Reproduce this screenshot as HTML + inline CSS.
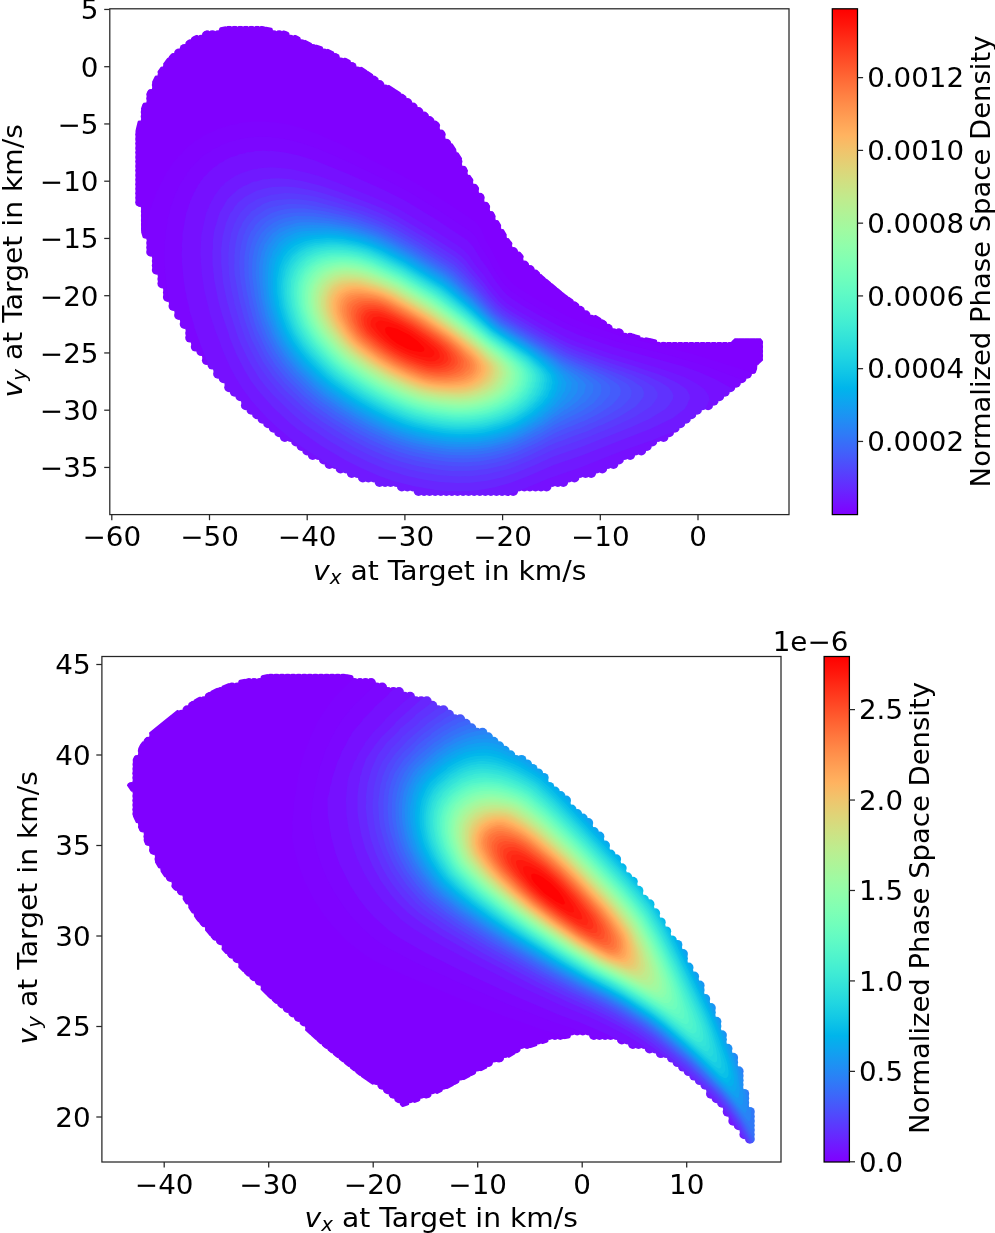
<!DOCTYPE html>
<html><head><meta charset="utf-8"><title>Phase space density</title><style>html,body{margin:0;padding:0;background:#fff}svg{display:block}</style></head><body>
<svg width="995" height="1233" viewBox="0 0 995 1233" font-family="'DejaVu Sans','Liberation Sans',sans-serif" font-size="27" fill="#000">
<rect width="995" height="1233" fill="#fff"/>
<defs><linearGradient id="rb" x1="0" y1="0" x2="0" y2="1"><stop offset="0.0000" stop-color="#ff0000"/><stop offset="0.0312" stop-color="#ff160b"/><stop offset="0.0625" stop-color="#ff2f18"/><stop offset="0.0938" stop-color="#ff4724"/><stop offset="0.1250" stop-color="#ff5f30"/><stop offset="0.1562" stop-color="#ff763d"/><stop offset="0.1875" stop-color="#ff8c49"/><stop offset="0.2188" stop-color="#ffa055"/><stop offset="0.2500" stop-color="#ffb360"/><stop offset="0.2812" stop-color="#f0c46c"/><stop offset="0.3125" stop-color="#e0d377"/><stop offset="0.3438" stop-color="#d0e082"/><stop offset="0.3750" stop-color="#c0eb8d"/><stop offset="0.4062" stop-color="#b0f397"/><stop offset="0.4375" stop-color="#a0faa1"/><stop offset="0.4688" stop-color="#90feab"/><stop offset="0.5000" stop-color="#80ffb4"/><stop offset="0.5312" stop-color="#70febc"/><stop offset="0.5625" stop-color="#60fac5"/><stop offset="0.5938" stop-color="#50f4cc"/><stop offset="0.6250" stop-color="#40ecd4"/><stop offset="0.6562" stop-color="#30e1da"/><stop offset="0.6875" stop-color="#20d5e1"/><stop offset="0.7188" stop-color="#10c6e6"/><stop offset="0.7500" stop-color="#00b5eb"/><stop offset="0.7812" stop-color="#10a2f0"/><stop offset="0.8125" stop-color="#208ef4"/><stop offset="0.8438" stop-color="#3079f7"/><stop offset="0.8750" stop-color="#4062fa"/><stop offset="0.9062" stop-color="#504afc"/><stop offset="0.9375" stop-color="#6032fe"/><stop offset="0.9688" stop-color="#7019ff"/><stop offset="1.0000" stop-color="#8000ff"/></linearGradient>
<clipPath id="ct"><path d="M228.7,32.4 208.8,36.4 196.2,42.2 181.0,52.7 171.6,63.1 162.2,76.2 157.4,85.8 152.0,96.8 147.0,111.1 141.7,132.8 141.7,201.1 143.7,202.2 143.9,202.3 144.1,202.5 144.4,202.7 144.6,202.8 144.9,203.1 145.1,203.2 145.3,203.5 145.5,203.7 145.7,204.0 145.9,204.2 146.1,204.5 146.2,204.7 146.4,205.0 146.5,205.3 146.6,205.6 146.7,205.8 146.8,206.2 146.9,206.4 147.0,206.8 147.0,207.0 147.1,207.4 147.1,207.7 147.1,207.8 147.7,231.2 152.8,248.3 157.9,263.1 163.8,277.9 171.2,295.8 180.1,313.5 190.5,331.4 200.8,349.0 215.5,366.7 230.5,384.6 248.2,403.8 274.7,426.0 304.4,446.7 333.8,462.9 363.2,474.6 392.7,482.0 413.8,485.8 413.9,485.8 414.2,485.9 414.5,486.0 414.8,486.1 415.1,486.2 415.4,486.3 415.7,486.5 415.9,486.6 416.2,486.8 416.5,486.9 416.6,487.0 419.8,489.5 514.1,489.5 515.9,487.6 516.1,487.5 516.3,487.3 516.5,487.1 516.8,486.9 517.0,486.7 517.3,486.6 517.6,486.4 517.8,486.3 518.2,486.2 518.4,486.1 518.8,486.0 519.0,485.9 519.4,485.8 519.6,485.8 520.0,485.7 520.3,485.7 520.4,485.7 539.8,485.2 554.0,481.6 573.8,475.5 598.5,466.9 623.3,455.7 645.0,445.0 668.6,430.3 690.5,413.4 690.6,413.3 690.7,413.2 690.8,413.1 708.8,401.1 736.7,381.1 749.2,371.4 752.6,362.1 752.7,361.9 752.8,361.6 752.9,361.3 753.1,361.1 753.2,360.8 753.4,360.5 753.6,360.2 753.8,360.0 754.0,359.7 754.2,359.5 754.4,359.4 756.6,357.4 756.6,344.8 737.3,344.8 735.2,346.8 735.1,346.9 734.9,347.1 734.6,347.3 734.4,347.5 734.1,347.6 733.9,347.8 733.6,347.9 733.3,348.1 733.0,348.2 732.7,348.3 732.4,348.4 732.1,348.4 731.8,348.5 731.5,348.5 731.2,348.6 730.9,348.6 730.7,348.6 666.0,348.6 665.8,348.6 665.6,348.6 665.3,348.6 665.1,348.5 664.8,348.5 664.5,348.4 664.4,348.4 634.2,340.8 634.0,340.7 633.6,340.6 633.4,340.6 610.8,331.8 610.7,331.7 610.4,331.6 610.1,331.4 609.9,331.3 609.8,331.2 587.2,317.4 587.1,317.4 586.9,317.3 586.8,317.2 561.6,299.6 561.5,299.5 561.3,299.4 561.2,299.3 538.6,280.5 538.4,280.4 538.2,280.2 538.1,280.1 521.8,263.7 521.7,263.6 521.6,263.4 521.5,263.3 505.0,244.3 504.9,244.2 504.7,244.0 504.5,243.7 504.4,243.5 504.3,243.4 490.1,219.3 490.1,219.2 490.1,219.2 490.0,219.1 477.6,196.8 465.3,179.5 465.2,179.4 465.1,179.2 465.0,179.0 464.9,178.8 464.8,178.7 456.2,161.4 445.1,144.1 434.2,127.3 408.9,105.6 384.1,89.5 384.1,89.5 384.1,89.5 384.0,89.5 354.2,69.6 338.0,61.1 323.5,53.8 308.9,49.0 308.7,48.9 308.3,48.7 308.0,48.6 293.2,41.1 281.5,36.5 260.4,32.4Z"/><circle cx="140.0" cy="125.5" r="4.9"/><circle cx="140.0" cy="130.0" r="4.9"/><circle cx="140.0" cy="134.5" r="4.9"/><circle cx="140.0" cy="139.0" r="4.9"/><circle cx="140.0" cy="143.6" r="4.9"/><circle cx="140.0" cy="148.1" r="4.9"/><circle cx="140.0" cy="152.6" r="4.9"/><circle cx="140.0" cy="157.1" r="4.9"/><circle cx="140.0" cy="161.6" r="4.9"/><circle cx="140.0" cy="166.1" r="4.9"/><circle cx="140.0" cy="170.6" r="4.9"/><circle cx="140.0" cy="175.1" r="4.9"/><circle cx="140.0" cy="179.7" r="4.9"/><circle cx="140.0" cy="184.2" r="4.9"/><circle cx="140.0" cy="188.7" r="4.9"/><circle cx="140.0" cy="193.2" r="4.9"/><circle cx="140.0" cy="197.7" r="4.9"/><circle cx="140.0" cy="202.2" r="4.9"/><circle cx="145.6" cy="107.4" r="4.9"/><circle cx="145.6" cy="112.0" r="4.9"/><circle cx="145.6" cy="116.5" r="4.9"/><circle cx="145.6" cy="121.0" r="4.9"/><circle cx="145.6" cy="125.5" r="4.9"/><circle cx="145.6" cy="130.0" r="4.9"/><circle cx="145.6" cy="134.5" r="4.9"/><circle cx="145.6" cy="139.0" r="4.9"/><circle cx="145.6" cy="143.6" r="4.9"/><circle cx="145.6" cy="148.1" r="4.9"/><circle cx="145.6" cy="152.6" r="4.9"/><circle cx="145.6" cy="157.1" r="4.9"/><circle cx="145.6" cy="161.6" r="4.9"/><circle cx="145.6" cy="166.1" r="4.9"/><circle cx="145.6" cy="170.6" r="4.9"/><circle cx="145.6" cy="175.1" r="4.9"/><circle cx="145.6" cy="179.7" r="4.9"/><circle cx="145.6" cy="184.2" r="4.9"/><circle cx="145.6" cy="188.7" r="4.9"/><circle cx="145.6" cy="193.2" r="4.9"/><circle cx="145.6" cy="197.7" r="4.9"/><circle cx="145.6" cy="202.2" r="4.9"/><circle cx="145.6" cy="206.7" r="4.9"/><circle cx="145.6" cy="211.3" r="4.9"/><circle cx="145.6" cy="215.8" r="4.9"/><circle cx="145.6" cy="220.3" r="4.9"/><circle cx="145.6" cy="224.8" r="4.9"/><circle cx="145.6" cy="229.3" r="4.9"/><circle cx="145.6" cy="233.8" r="4.9"/><circle cx="151.1" cy="93.9" r="4.9"/><circle cx="151.1" cy="98.4" r="4.9"/><circle cx="151.1" cy="102.9" r="4.9"/><circle cx="151.1" cy="107.4" r="4.9"/><circle cx="151.1" cy="112.0" r="4.9"/><circle cx="151.1" cy="116.5" r="4.9"/><circle cx="151.1" cy="206.7" r="4.9"/><circle cx="151.1" cy="211.3" r="4.9"/><circle cx="151.1" cy="215.8" r="4.9"/><circle cx="151.1" cy="220.3" r="4.9"/><circle cx="151.1" cy="224.8" r="4.9"/><circle cx="151.1" cy="229.3" r="4.9"/><circle cx="151.1" cy="233.8" r="4.9"/><circle cx="151.1" cy="238.3" r="4.9"/><circle cx="151.1" cy="242.9" r="4.9"/><circle cx="151.1" cy="247.4" r="4.9"/><circle cx="151.1" cy="251.9" r="4.9"/><circle cx="156.7" cy="80.4" r="4.9"/><circle cx="156.7" cy="84.9" r="4.9"/><circle cx="156.7" cy="89.4" r="4.9"/><circle cx="156.7" cy="93.9" r="4.9"/><circle cx="156.7" cy="98.4" r="4.9"/><circle cx="156.7" cy="242.9" r="4.9"/><circle cx="156.7" cy="247.4" r="4.9"/><circle cx="156.7" cy="251.9" r="4.9"/><circle cx="156.7" cy="256.4" r="4.9"/><circle cx="156.7" cy="260.9" r="4.9"/><circle cx="156.7" cy="265.4" r="4.9"/><circle cx="156.7" cy="269.9" r="4.9"/><circle cx="162.3" cy="71.3" r="4.9"/><circle cx="162.3" cy="75.8" r="4.9"/><circle cx="162.3" cy="80.4" r="4.9"/><circle cx="162.3" cy="84.9" r="4.9"/><circle cx="162.3" cy="260.9" r="4.9"/><circle cx="162.3" cy="265.4" r="4.9"/><circle cx="162.3" cy="269.9" r="4.9"/><circle cx="162.3" cy="274.5" r="4.9"/><circle cx="162.3" cy="279.0" r="4.9"/><circle cx="162.3" cy="283.5" r="4.9"/><circle cx="167.8" cy="62.3" r="4.9"/><circle cx="167.8" cy="66.8" r="4.9"/><circle cx="167.8" cy="71.3" r="4.9"/><circle cx="167.8" cy="75.8" r="4.9"/><circle cx="167.8" cy="274.5" r="4.9"/><circle cx="167.8" cy="279.0" r="4.9"/><circle cx="167.8" cy="283.5" r="4.9"/><circle cx="167.8" cy="288.0" r="4.9"/><circle cx="167.8" cy="292.5" r="4.9"/><circle cx="167.8" cy="297.0" r="4.9"/><circle cx="173.4" cy="57.8" r="4.9"/><circle cx="173.4" cy="62.3" r="4.9"/><circle cx="173.4" cy="66.8" r="4.9"/><circle cx="173.4" cy="288.0" r="4.9"/><circle cx="173.4" cy="292.5" r="4.9"/><circle cx="173.4" cy="297.0" r="4.9"/><circle cx="173.4" cy="301.5" r="4.9"/><circle cx="173.4" cy="306.1" r="4.9"/><circle cx="179.0" cy="53.3" r="4.9"/><circle cx="179.0" cy="57.8" r="4.9"/><circle cx="179.0" cy="62.3" r="4.9"/><circle cx="179.0" cy="301.5" r="4.9"/><circle cx="179.0" cy="306.1" r="4.9"/><circle cx="179.0" cy="310.6" r="4.9"/><circle cx="179.0" cy="315.1" r="4.9"/><circle cx="184.6" cy="48.8" r="4.9"/><circle cx="184.6" cy="53.3" r="4.9"/><circle cx="184.6" cy="310.6" r="4.9"/><circle cx="184.6" cy="315.1" r="4.9"/><circle cx="184.6" cy="319.6" r="4.9"/><circle cx="184.6" cy="324.1" r="4.9"/><circle cx="190.1" cy="44.2" r="4.9"/><circle cx="190.1" cy="48.8" r="4.9"/><circle cx="190.1" cy="324.1" r="4.9"/><circle cx="190.1" cy="328.6" r="4.9"/><circle cx="190.1" cy="333.1" r="4.9"/><circle cx="190.1" cy="337.7" r="4.9"/><circle cx="195.7" cy="39.7" r="4.9"/><circle cx="195.7" cy="44.2" r="4.9"/><circle cx="195.7" cy="48.8" r="4.9"/><circle cx="195.7" cy="333.1" r="4.9"/><circle cx="195.7" cy="337.7" r="4.9"/><circle cx="195.7" cy="342.2" r="4.9"/><circle cx="195.7" cy="346.7" r="4.9"/><circle cx="201.3" cy="39.7" r="4.9"/><circle cx="201.3" cy="44.2" r="4.9"/><circle cx="201.3" cy="342.2" r="4.9"/><circle cx="201.3" cy="346.7" r="4.9"/><circle cx="201.3" cy="351.2" r="4.9"/><circle cx="206.8" cy="35.2" r="4.9"/><circle cx="206.8" cy="39.7" r="4.9"/><circle cx="206.8" cy="351.2" r="4.9"/><circle cx="206.8" cy="355.7" r="4.9"/><circle cx="206.8" cy="360.2" r="4.9"/><circle cx="212.4" cy="35.2" r="4.9"/><circle cx="212.4" cy="39.7" r="4.9"/><circle cx="212.4" cy="355.7" r="4.9"/><circle cx="212.4" cy="360.2" r="4.9"/><circle cx="212.4" cy="364.7" r="4.9"/><circle cx="218.0" cy="35.2" r="4.9"/><circle cx="218.0" cy="39.7" r="4.9"/><circle cx="218.0" cy="364.7" r="4.9"/><circle cx="218.0" cy="369.2" r="4.9"/><circle cx="218.0" cy="373.8" r="4.9"/><circle cx="223.6" cy="30.7" r="4.9"/><circle cx="223.6" cy="35.2" r="4.9"/><circle cx="223.6" cy="369.2" r="4.9"/><circle cx="223.6" cy="373.8" r="4.9"/><circle cx="223.6" cy="378.3" r="4.9"/><circle cx="229.1" cy="30.7" r="4.9"/><circle cx="229.1" cy="35.2" r="4.9"/><circle cx="229.1" cy="378.3" r="4.9"/><circle cx="229.1" cy="382.8" r="4.9"/><circle cx="229.1" cy="387.3" r="4.9"/><circle cx="234.7" cy="30.7" r="4.9"/><circle cx="234.7" cy="35.2" r="4.9"/><circle cx="234.7" cy="382.8" r="4.9"/><circle cx="234.7" cy="387.3" r="4.9"/><circle cx="234.7" cy="391.8" r="4.9"/><circle cx="240.3" cy="30.7" r="4.9"/><circle cx="240.3" cy="35.2" r="4.9"/><circle cx="240.3" cy="387.3" r="4.9"/><circle cx="240.3" cy="391.8" r="4.9"/><circle cx="240.3" cy="396.3" r="4.9"/><circle cx="245.8" cy="30.7" r="4.9"/><circle cx="245.8" cy="35.2" r="4.9"/><circle cx="245.8" cy="396.3" r="4.9"/><circle cx="245.8" cy="400.8" r="4.9"/><circle cx="245.8" cy="405.4" r="4.9"/><circle cx="251.4" cy="30.7" r="4.9"/><circle cx="251.4" cy="35.2" r="4.9"/><circle cx="251.4" cy="400.8" r="4.9"/><circle cx="251.4" cy="405.4" r="4.9"/><circle cx="251.4" cy="409.9" r="4.9"/><circle cx="257.0" cy="30.7" r="4.9"/><circle cx="257.0" cy="35.2" r="4.9"/><circle cx="257.0" cy="405.4" r="4.9"/><circle cx="257.0" cy="409.9" r="4.9"/><circle cx="257.0" cy="414.4" r="4.9"/><circle cx="262.5" cy="30.7" r="4.9"/><circle cx="262.5" cy="35.2" r="4.9"/><circle cx="262.5" cy="409.9" r="4.9"/><circle cx="262.5" cy="414.4" r="4.9"/><circle cx="262.5" cy="418.9" r="4.9"/><circle cx="268.1" cy="30.7" r="4.9"/><circle cx="268.1" cy="35.2" r="4.9"/><circle cx="268.1" cy="414.4" r="4.9"/><circle cx="268.1" cy="418.9" r="4.9"/><circle cx="268.1" cy="423.4" r="4.9"/><circle cx="273.7" cy="35.2" r="4.9"/><circle cx="273.7" cy="39.7" r="4.9"/><circle cx="273.7" cy="418.9" r="4.9"/><circle cx="273.7" cy="423.4" r="4.9"/><circle cx="273.7" cy="427.9" r="4.9"/><circle cx="279.2" cy="35.2" r="4.9"/><circle cx="279.2" cy="39.7" r="4.9"/><circle cx="279.2" cy="423.4" r="4.9"/><circle cx="279.2" cy="427.9" r="4.9"/><circle cx="279.2" cy="432.4" r="4.9"/><circle cx="284.8" cy="35.2" r="4.9"/><circle cx="284.8" cy="39.7" r="4.9"/><circle cx="284.8" cy="427.9" r="4.9"/><circle cx="284.8" cy="432.4" r="4.9"/><circle cx="284.8" cy="437.0" r="4.9"/><circle cx="290.4" cy="39.7" r="4.9"/><circle cx="290.4" cy="44.2" r="4.9"/><circle cx="290.4" cy="432.4" r="4.9"/><circle cx="290.4" cy="437.0" r="4.9"/><circle cx="296.0" cy="39.7" r="4.9"/><circle cx="296.0" cy="44.2" r="4.9"/><circle cx="296.0" cy="437.0" r="4.9"/><circle cx="296.0" cy="441.5" r="4.9"/><circle cx="301.5" cy="44.2" r="4.9"/><circle cx="301.5" cy="48.8" r="4.9"/><circle cx="301.5" cy="441.5" r="4.9"/><circle cx="301.5" cy="446.0" r="4.9"/><circle cx="307.1" cy="44.2" r="4.9"/><circle cx="307.1" cy="48.8" r="4.9"/><circle cx="307.1" cy="53.3" r="4.9"/><circle cx="307.1" cy="446.0" r="4.9"/><circle cx="307.1" cy="450.5" r="4.9"/><circle cx="312.7" cy="48.8" r="4.9"/><circle cx="312.7" cy="53.3" r="4.9"/><circle cx="312.7" cy="446.0" r="4.9"/><circle cx="312.7" cy="450.5" r="4.9"/><circle cx="312.7" cy="455.0" r="4.9"/><circle cx="318.2" cy="48.8" r="4.9"/><circle cx="318.2" cy="53.3" r="4.9"/><circle cx="318.2" cy="450.5" r="4.9"/><circle cx="318.2" cy="455.0" r="4.9"/><circle cx="323.8" cy="53.3" r="4.9"/><circle cx="323.8" cy="57.8" r="4.9"/><circle cx="323.8" cy="455.0" r="4.9"/><circle cx="323.8" cy="459.5" r="4.9"/><circle cx="329.4" cy="53.3" r="4.9"/><circle cx="329.4" cy="57.8" r="4.9"/><circle cx="329.4" cy="62.3" r="4.9"/><circle cx="329.4" cy="455.0" r="4.9"/><circle cx="329.4" cy="459.5" r="4.9"/><circle cx="329.4" cy="464.0" r="4.9"/><circle cx="335.0" cy="57.8" r="4.9"/><circle cx="335.0" cy="62.3" r="4.9"/><circle cx="335.0" cy="459.5" r="4.9"/><circle cx="335.0" cy="464.0" r="4.9"/><circle cx="340.5" cy="62.3" r="4.9"/><circle cx="340.5" cy="66.8" r="4.9"/><circle cx="340.5" cy="464.0" r="4.9"/><circle cx="340.5" cy="468.6" r="4.9"/><circle cx="346.1" cy="62.3" r="4.9"/><circle cx="346.1" cy="66.8" r="4.9"/><circle cx="346.1" cy="71.3" r="4.9"/><circle cx="346.1" cy="464.0" r="4.9"/><circle cx="346.1" cy="468.6" r="4.9"/><circle cx="351.7" cy="66.8" r="4.9"/><circle cx="351.7" cy="71.3" r="4.9"/><circle cx="351.7" cy="468.6" r="4.9"/><circle cx="351.7" cy="473.1" r="4.9"/><circle cx="357.2" cy="71.3" r="4.9"/><circle cx="357.2" cy="75.8" r="4.9"/><circle cx="357.2" cy="468.6" r="4.9"/><circle cx="357.2" cy="473.1" r="4.9"/><circle cx="362.8" cy="71.3" r="4.9"/><circle cx="362.8" cy="75.8" r="4.9"/><circle cx="362.8" cy="80.4" r="4.9"/><circle cx="362.8" cy="473.1" r="4.9"/><circle cx="362.8" cy="477.6" r="4.9"/><circle cx="368.4" cy="75.8" r="4.9"/><circle cx="368.4" cy="80.4" r="4.9"/><circle cx="368.4" cy="84.9" r="4.9"/><circle cx="368.4" cy="473.1" r="4.9"/><circle cx="368.4" cy="477.6" r="4.9"/><circle cx="373.9" cy="80.4" r="4.9"/><circle cx="373.9" cy="84.9" r="4.9"/><circle cx="373.9" cy="473.1" r="4.9"/><circle cx="373.9" cy="477.6" r="4.9"/><circle cx="379.5" cy="84.9" r="4.9"/><circle cx="379.5" cy="89.4" r="4.9"/><circle cx="379.5" cy="477.6" r="4.9"/><circle cx="379.5" cy="482.1" r="4.9"/><circle cx="385.1" cy="89.4" r="4.9"/><circle cx="385.1" cy="93.9" r="4.9"/><circle cx="385.1" cy="477.6" r="4.9"/><circle cx="385.1" cy="482.1" r="4.9"/><circle cx="390.6" cy="89.4" r="4.9"/><circle cx="390.6" cy="93.9" r="4.9"/><circle cx="390.6" cy="98.4" r="4.9"/><circle cx="390.6" cy="477.6" r="4.9"/><circle cx="390.6" cy="482.1" r="4.9"/><circle cx="396.2" cy="93.9" r="4.9"/><circle cx="396.2" cy="98.4" r="4.9"/><circle cx="396.2" cy="102.9" r="4.9"/><circle cx="396.2" cy="477.6" r="4.9"/><circle cx="396.2" cy="482.1" r="4.9"/><circle cx="401.8" cy="98.4" r="4.9"/><circle cx="401.8" cy="102.9" r="4.9"/><circle cx="401.8" cy="482.1" r="4.9"/><circle cx="401.8" cy="486.6" r="4.9"/><circle cx="407.4" cy="102.9" r="4.9"/><circle cx="407.4" cy="107.4" r="4.9"/><circle cx="407.4" cy="482.1" r="4.9"/><circle cx="407.4" cy="486.6" r="4.9"/><circle cx="412.9" cy="107.4" r="4.9"/><circle cx="412.9" cy="112.0" r="4.9"/><circle cx="412.9" cy="482.1" r="4.9"/><circle cx="412.9" cy="486.6" r="4.9"/><circle cx="418.5" cy="112.0" r="4.9"/><circle cx="418.5" cy="116.5" r="4.9"/><circle cx="418.5" cy="482.1" r="4.9"/><circle cx="418.5" cy="486.6" r="4.9"/><circle cx="418.5" cy="491.1" r="4.9"/><circle cx="424.1" cy="116.5" r="4.9"/><circle cx="424.1" cy="121.0" r="4.9"/><circle cx="424.1" cy="125.5" r="4.9"/><circle cx="424.1" cy="486.6" r="4.9"/><circle cx="424.1" cy="491.1" r="4.9"/><circle cx="429.6" cy="121.0" r="4.9"/><circle cx="429.6" cy="125.5" r="4.9"/><circle cx="429.6" cy="130.0" r="4.9"/><circle cx="429.6" cy="486.6" r="4.9"/><circle cx="429.6" cy="491.1" r="4.9"/><circle cx="435.2" cy="125.5" r="4.9"/><circle cx="435.2" cy="130.0" r="4.9"/><circle cx="435.2" cy="134.5" r="4.9"/><circle cx="435.2" cy="486.6" r="4.9"/><circle cx="435.2" cy="491.1" r="4.9"/><circle cx="440.8" cy="134.5" r="4.9"/><circle cx="440.8" cy="139.0" r="4.9"/><circle cx="440.8" cy="143.6" r="4.9"/><circle cx="440.8" cy="486.6" r="4.9"/><circle cx="440.8" cy="491.1" r="4.9"/><circle cx="446.4" cy="143.6" r="4.9"/><circle cx="446.4" cy="148.1" r="4.9"/><circle cx="446.4" cy="152.6" r="4.9"/><circle cx="446.4" cy="486.6" r="4.9"/><circle cx="446.4" cy="491.1" r="4.9"/><circle cx="451.9" cy="148.1" r="4.9"/><circle cx="451.9" cy="152.6" r="4.9"/><circle cx="451.9" cy="157.1" r="4.9"/><circle cx="451.9" cy="161.6" r="4.9"/><circle cx="451.9" cy="486.6" r="4.9"/><circle cx="451.9" cy="491.1" r="4.9"/><circle cx="457.5" cy="157.1" r="4.9"/><circle cx="457.5" cy="161.6" r="4.9"/><circle cx="457.5" cy="166.1" r="4.9"/><circle cx="457.5" cy="170.6" r="4.9"/><circle cx="457.5" cy="175.1" r="4.9"/><circle cx="457.5" cy="486.6" r="4.9"/><circle cx="457.5" cy="491.1" r="4.9"/><circle cx="463.1" cy="170.6" r="4.9"/><circle cx="463.1" cy="175.1" r="4.9"/><circle cx="463.1" cy="179.7" r="4.9"/><circle cx="463.1" cy="184.2" r="4.9"/><circle cx="463.1" cy="486.6" r="4.9"/><circle cx="463.1" cy="491.1" r="4.9"/><circle cx="468.6" cy="179.7" r="4.9"/><circle cx="468.6" cy="184.2" r="4.9"/><circle cx="468.6" cy="188.7" r="4.9"/><circle cx="468.6" cy="193.2" r="4.9"/><circle cx="468.6" cy="486.6" r="4.9"/><circle cx="468.6" cy="491.1" r="4.9"/><circle cx="474.2" cy="188.7" r="4.9"/><circle cx="474.2" cy="193.2" r="4.9"/><circle cx="474.2" cy="197.7" r="4.9"/><circle cx="474.2" cy="486.6" r="4.9"/><circle cx="474.2" cy="491.1" r="4.9"/><circle cx="479.8" cy="197.7" r="4.9"/><circle cx="479.8" cy="202.2" r="4.9"/><circle cx="479.8" cy="206.7" r="4.9"/><circle cx="479.8" cy="211.3" r="4.9"/><circle cx="479.8" cy="486.6" r="4.9"/><circle cx="479.8" cy="491.1" r="4.9"/><circle cx="485.3" cy="206.7" r="4.9"/><circle cx="485.3" cy="211.3" r="4.9"/><circle cx="485.3" cy="215.8" r="4.9"/><circle cx="485.3" cy="220.3" r="4.9"/><circle cx="485.3" cy="486.6" r="4.9"/><circle cx="485.3" cy="491.1" r="4.9"/><circle cx="490.9" cy="215.8" r="4.9"/><circle cx="490.9" cy="220.3" r="4.9"/><circle cx="490.9" cy="224.8" r="4.9"/><circle cx="490.9" cy="229.3" r="4.9"/><circle cx="490.9" cy="486.6" r="4.9"/><circle cx="490.9" cy="491.1" r="4.9"/><circle cx="496.5" cy="224.8" r="4.9"/><circle cx="496.5" cy="229.3" r="4.9"/><circle cx="496.5" cy="233.8" r="4.9"/><circle cx="496.5" cy="238.3" r="4.9"/><circle cx="496.5" cy="486.6" r="4.9"/><circle cx="496.5" cy="491.1" r="4.9"/><circle cx="502.1" cy="233.8" r="4.9"/><circle cx="502.1" cy="238.3" r="4.9"/><circle cx="502.1" cy="242.9" r="4.9"/><circle cx="502.1" cy="247.4" r="4.9"/><circle cx="502.1" cy="486.6" r="4.9"/><circle cx="502.1" cy="491.1" r="4.9"/><circle cx="507.6" cy="242.9" r="4.9"/><circle cx="507.6" cy="247.4" r="4.9"/><circle cx="507.6" cy="251.9" r="4.9"/><circle cx="507.6" cy="486.6" r="4.9"/><circle cx="507.6" cy="491.1" r="4.9"/><circle cx="513.2" cy="251.9" r="4.9"/><circle cx="513.2" cy="256.4" r="4.9"/><circle cx="513.2" cy="260.9" r="4.9"/><circle cx="513.2" cy="486.6" r="4.9"/><circle cx="513.2" cy="491.1" r="4.9"/><circle cx="518.8" cy="256.4" r="4.9"/><circle cx="518.8" cy="260.9" r="4.9"/><circle cx="518.8" cy="265.4" r="4.9"/><circle cx="518.8" cy="482.1" r="4.9"/><circle cx="518.8" cy="486.6" r="4.9"/><circle cx="524.3" cy="265.4" r="4.9"/><circle cx="524.3" cy="269.9" r="4.9"/><circle cx="524.3" cy="482.1" r="4.9"/><circle cx="524.3" cy="486.6" r="4.9"/><circle cx="529.9" cy="269.9" r="4.9"/><circle cx="529.9" cy="274.5" r="4.9"/><circle cx="529.9" cy="279.0" r="4.9"/><circle cx="529.9" cy="482.1" r="4.9"/><circle cx="529.9" cy="486.6" r="4.9"/><circle cx="535.5" cy="274.5" r="4.9"/><circle cx="535.5" cy="279.0" r="4.9"/><circle cx="535.5" cy="283.5" r="4.9"/><circle cx="535.5" cy="482.1" r="4.9"/><circle cx="535.5" cy="486.6" r="4.9"/><circle cx="541.0" cy="279.0" r="4.9"/><circle cx="541.0" cy="283.5" r="4.9"/><circle cx="541.0" cy="288.0" r="4.9"/><circle cx="541.0" cy="482.1" r="4.9"/><circle cx="541.0" cy="486.6" r="4.9"/><circle cx="546.6" cy="283.5" r="4.9"/><circle cx="546.6" cy="288.0" r="4.9"/><circle cx="546.6" cy="292.5" r="4.9"/><circle cx="546.6" cy="482.1" r="4.9"/><circle cx="546.6" cy="486.6" r="4.9"/><circle cx="552.2" cy="288.0" r="4.9"/><circle cx="552.2" cy="292.5" r="4.9"/><circle cx="552.2" cy="297.0" r="4.9"/><circle cx="552.2" cy="477.6" r="4.9"/><circle cx="552.2" cy="482.1" r="4.9"/><circle cx="557.8" cy="292.5" r="4.9"/><circle cx="557.8" cy="297.0" r="4.9"/><circle cx="557.8" cy="301.5" r="4.9"/><circle cx="557.8" cy="477.6" r="4.9"/><circle cx="557.8" cy="482.1" r="4.9"/><circle cx="563.3" cy="297.0" r="4.9"/><circle cx="563.3" cy="301.5" r="4.9"/><circle cx="563.3" cy="306.1" r="4.9"/><circle cx="563.3" cy="477.6" r="4.9"/><circle cx="563.3" cy="482.1" r="4.9"/><circle cx="568.9" cy="301.5" r="4.9"/><circle cx="568.9" cy="306.1" r="4.9"/><circle cx="568.9" cy="310.6" r="4.9"/><circle cx="568.9" cy="473.1" r="4.9"/><circle cx="568.9" cy="477.6" r="4.9"/><circle cx="574.5" cy="306.1" r="4.9"/><circle cx="574.5" cy="310.6" r="4.9"/><circle cx="574.5" cy="315.1" r="4.9"/><circle cx="574.5" cy="473.1" r="4.9"/><circle cx="574.5" cy="477.6" r="4.9"/><circle cx="580.0" cy="310.6" r="4.9"/><circle cx="580.0" cy="315.1" r="4.9"/><circle cx="580.0" cy="468.6" r="4.9"/><circle cx="580.0" cy="473.1" r="4.9"/><circle cx="585.6" cy="315.1" r="4.9"/><circle cx="585.6" cy="319.6" r="4.9"/><circle cx="585.6" cy="468.6" r="4.9"/><circle cx="585.6" cy="473.1" r="4.9"/><circle cx="591.2" cy="319.6" r="4.9"/><circle cx="591.2" cy="324.1" r="4.9"/><circle cx="591.2" cy="464.0" r="4.9"/><circle cx="591.2" cy="468.6" r="4.9"/><circle cx="591.2" cy="473.1" r="4.9"/><circle cx="596.7" cy="319.6" r="4.9"/><circle cx="596.7" cy="324.1" r="4.9"/><circle cx="596.7" cy="328.6" r="4.9"/><circle cx="596.7" cy="464.0" r="4.9"/><circle cx="596.7" cy="468.6" r="4.9"/><circle cx="602.3" cy="324.1" r="4.9"/><circle cx="602.3" cy="328.6" r="4.9"/><circle cx="602.3" cy="459.5" r="4.9"/><circle cx="602.3" cy="464.0" r="4.9"/><circle cx="602.3" cy="468.6" r="4.9"/><circle cx="607.9" cy="328.6" r="4.9"/><circle cx="607.9" cy="333.1" r="4.9"/><circle cx="607.9" cy="459.5" r="4.9"/><circle cx="607.9" cy="464.0" r="4.9"/><circle cx="613.5" cy="333.1" r="4.9"/><circle cx="613.5" cy="337.7" r="4.9"/><circle cx="613.5" cy="455.0" r="4.9"/><circle cx="613.5" cy="459.5" r="4.9"/><circle cx="613.5" cy="464.0" r="4.9"/><circle cx="619.0" cy="333.1" r="4.9"/><circle cx="619.0" cy="337.7" r="4.9"/><circle cx="619.0" cy="455.0" r="4.9"/><circle cx="619.0" cy="459.5" r="4.9"/><circle cx="624.6" cy="337.7" r="4.9"/><circle cx="624.6" cy="342.2" r="4.9"/><circle cx="624.6" cy="450.5" r="4.9"/><circle cx="624.6" cy="455.0" r="4.9"/><circle cx="630.2" cy="337.7" r="4.9"/><circle cx="630.2" cy="342.2" r="4.9"/><circle cx="630.2" cy="450.5" r="4.9"/><circle cx="630.2" cy="455.0" r="4.9"/><circle cx="635.7" cy="337.7" r="4.9"/><circle cx="635.7" cy="342.2" r="4.9"/><circle cx="635.7" cy="346.7" r="4.9"/><circle cx="635.7" cy="446.0" r="4.9"/><circle cx="635.7" cy="450.5" r="4.9"/><circle cx="641.3" cy="342.2" r="4.9"/><circle cx="641.3" cy="346.7" r="4.9"/><circle cx="641.3" cy="441.5" r="4.9"/><circle cx="641.3" cy="446.0" r="4.9"/><circle cx="641.3" cy="450.5" r="4.9"/><circle cx="646.9" cy="342.2" r="4.9"/><circle cx="646.9" cy="346.7" r="4.9"/><circle cx="646.9" cy="441.5" r="4.9"/><circle cx="646.9" cy="446.0" r="4.9"/><circle cx="652.4" cy="342.2" r="4.9"/><circle cx="652.4" cy="346.7" r="4.9"/><circle cx="652.4" cy="437.0" r="4.9"/><circle cx="652.4" cy="441.5" r="4.9"/><circle cx="658.0" cy="346.7" r="4.9"/><circle cx="658.0" cy="351.2" r="4.9"/><circle cx="658.0" cy="432.4" r="4.9"/><circle cx="658.0" cy="437.0" r="4.9"/><circle cx="663.6" cy="346.7" r="4.9"/><circle cx="663.6" cy="351.2" r="4.9"/><circle cx="663.6" cy="427.9" r="4.9"/><circle cx="663.6" cy="432.4" r="4.9"/><circle cx="663.6" cy="437.0" r="4.9"/><circle cx="669.1" cy="346.7" r="4.9"/><circle cx="669.1" cy="351.2" r="4.9"/><circle cx="669.1" cy="423.4" r="4.9"/><circle cx="669.1" cy="427.9" r="4.9"/><circle cx="669.1" cy="432.4" r="4.9"/><circle cx="674.7" cy="346.7" r="4.9"/><circle cx="674.7" cy="351.2" r="4.9"/><circle cx="674.7" cy="418.9" r="4.9"/><circle cx="674.7" cy="423.4" r="4.9"/><circle cx="674.7" cy="427.9" r="4.9"/><circle cx="680.3" cy="346.7" r="4.9"/><circle cx="680.3" cy="351.2" r="4.9"/><circle cx="680.3" cy="418.9" r="4.9"/><circle cx="680.3" cy="423.4" r="4.9"/><circle cx="685.9" cy="346.7" r="4.9"/><circle cx="685.9" cy="351.2" r="4.9"/><circle cx="685.9" cy="414.4" r="4.9"/><circle cx="685.9" cy="418.9" r="4.9"/><circle cx="691.4" cy="346.7" r="4.9"/><circle cx="691.4" cy="351.2" r="4.9"/><circle cx="691.4" cy="409.9" r="4.9"/><circle cx="691.4" cy="414.4" r="4.9"/><circle cx="697.0" cy="346.7" r="4.9"/><circle cx="697.0" cy="351.2" r="4.9"/><circle cx="697.0" cy="405.4" r="4.9"/><circle cx="697.0" cy="409.9" r="4.9"/><circle cx="702.6" cy="346.7" r="4.9"/><circle cx="702.6" cy="351.2" r="4.9"/><circle cx="702.6" cy="400.8" r="4.9"/><circle cx="702.6" cy="405.4" r="4.9"/><circle cx="708.1" cy="346.7" r="4.9"/><circle cx="708.1" cy="351.2" r="4.9"/><circle cx="708.1" cy="396.3" r="4.9"/><circle cx="708.1" cy="400.8" r="4.9"/><circle cx="708.1" cy="405.4" r="4.9"/><circle cx="713.7" cy="346.7" r="4.9"/><circle cx="713.7" cy="351.2" r="4.9"/><circle cx="713.7" cy="391.8" r="4.9"/><circle cx="713.7" cy="396.3" r="4.9"/><circle cx="713.7" cy="400.8" r="4.9"/><circle cx="719.3" cy="346.7" r="4.9"/><circle cx="719.3" cy="351.2" r="4.9"/><circle cx="719.3" cy="387.3" r="4.9"/><circle cx="719.3" cy="391.8" r="4.9"/><circle cx="719.3" cy="396.3" r="4.9"/><circle cx="724.9" cy="346.7" r="4.9"/><circle cx="724.9" cy="351.2" r="4.9"/><circle cx="724.9" cy="387.3" r="4.9"/><circle cx="724.9" cy="391.8" r="4.9"/><circle cx="730.4" cy="346.7" r="4.9"/><circle cx="730.4" cy="351.2" r="4.9"/><circle cx="730.4" cy="382.8" r="4.9"/><circle cx="730.4" cy="387.3" r="4.9"/><circle cx="736.0" cy="342.2" r="4.9"/><circle cx="736.0" cy="346.7" r="4.9"/><circle cx="736.0" cy="351.2" r="4.9"/><circle cx="736.0" cy="378.3" r="4.9"/><circle cx="736.0" cy="382.8" r="4.9"/><circle cx="741.6" cy="342.2" r="4.9"/><circle cx="741.6" cy="346.7" r="4.9"/><circle cx="741.6" cy="373.8" r="4.9"/><circle cx="741.6" cy="378.3" r="4.9"/><circle cx="747.1" cy="342.2" r="4.9"/><circle cx="747.1" cy="346.7" r="4.9"/><circle cx="747.1" cy="364.7" r="4.9"/><circle cx="747.1" cy="369.2" r="4.9"/><circle cx="747.1" cy="373.8" r="4.9"/><circle cx="752.7" cy="342.2" r="4.9"/><circle cx="752.7" cy="346.7" r="4.9"/><circle cx="752.7" cy="351.2" r="4.9"/><circle cx="752.7" cy="355.7" r="4.9"/><circle cx="752.7" cy="360.2" r="4.9"/><circle cx="752.7" cy="364.7" r="4.9"/><circle cx="752.7" cy="369.2" r="4.9"/><circle cx="758.3" cy="342.2" r="4.9"/><circle cx="758.3" cy="346.7" r="4.9"/><circle cx="758.3" cy="351.2" r="4.9"/><circle cx="758.3" cy="355.7" r="4.9"/><circle cx="758.3" cy="360.2" r="4.9"/></clipPath><clipPath id="cb"><path d="M270.5,680.2 250.1,684.6 250.1,684.6 250.0,684.6 250.0,684.6 235.5,687.4 218.2,694.6 200.5,703.5 183.0,713.7 168.4,725.4 168.4,725.4 168.4,725.4 168.4,725.5 154.0,737.0 145.7,747.9 139.1,761.2 138.3,777.9 138.3,778.1 138.3,778.4 138.2,778.7 138.2,779.0 138.1,779.3 138.0,779.5 137.9,779.9 137.8,780.1 137.7,780.4 137.6,780.6 137.4,780.9 137.2,781.2 137.2,781.3 134.6,785.1 137.2,788.9 137.3,789.0 137.4,789.3 137.6,789.6 137.7,789.9 137.9,790.2 137.9,790.5 138.1,790.8 138.1,791.1 138.2,791.5 138.2,791.8 138.3,792.1 138.3,792.4 138.3,792.6 138.3,812.3 144.6,826.1 144.6,826.1 144.7,826.2 144.7,826.2 152.1,844.0 163.8,864.5 175.5,882.0 186.5,893.6 186.6,893.7 186.8,893.9 187.0,894.1 187.1,894.3 187.2,894.4 201.5,915.8 219.3,937.2 237.2,956.9 255.1,974.8 273.0,992.8 291.0,1009.0 309.1,1025.2 309.1,1025.2 309.1,1025.2 309.1,1025.2 327.1,1041.4 345.0,1055.7 363.0,1070.1 380.9,1082.6 380.9,1082.6 381.0,1082.7 381.1,1082.7 395.5,1093.6 395.5,1093.6 395.5,1093.6 395.5,1093.6 403.6,1099.8 411.1,1097.4 428.7,1091.0 446.4,1082.1 464.4,1072.5 464.4,1072.5 464.4,1072.5 464.5,1072.4 482.6,1063.0 482.7,1063.0 482.8,1062.9 482.9,1062.9 500.7,1055.0 511.8,1048.6 512.0,1048.5 512.4,1048.3 512.6,1048.2 527.6,1042.2 527.7,1042.1 527.9,1042.1 528.0,1042.0 546.1,1035.9 546.3,1035.9 546.7,1035.8 547.0,1035.7 571.2,1031.2 571.4,1031.2 571.6,1031.1 572.0,1031.1 572.2,1031.1 572.4,1031.1 590.4,1031.1 590.7,1031.1 591.1,1031.1 591.3,1031.2 612.4,1034.2 612.6,1034.2 612.8,1034.2 613.1,1034.3 613.3,1034.3 613.4,1034.4 628.5,1039.0 628.6,1039.0 628.6,1039.0 628.7,1039.0 646.8,1045.0 646.9,1045.1 647.1,1045.2 647.2,1045.2 665.3,1052.7 665.5,1052.8 665.7,1052.9 666.1,1053.1 666.3,1053.2 666.5,1053.3 684.6,1065.4 684.7,1065.5 685.0,1065.7 685.1,1065.8 703.2,1080.9 703.4,1081.1 703.7,1081.4 703.8,1081.5 721.9,1101.1 722.1,1101.3 722.2,1101.5 722.3,1101.6 737.2,1121.0 748.3,1133.4 748.1,1114.4 747.0,1113.3 746.9,1113.2 746.7,1113.0 746.4,1112.7 746.3,1112.5 746.1,1112.2 745.9,1112.0 745.7,1111.7 745.6,1111.5 745.5,1111.2 745.4,1110.9 745.2,1110.6 745.2,1110.3 745.1,1110.2 740.8,1093.7 740.8,1093.6 740.8,1093.6 740.8,1093.6 735.7,1072.9 728.9,1056.1 718.5,1033.8 718.5,1033.7 718.4,1033.5 718.4,1033.4 708.0,1007.5 696.3,986.8 696.2,986.7 696.1,986.5 696.1,986.5 684.1,962.5 669.3,938.7 654.4,914.9 639.3,896.1 639.3,896.1 639.2,896.0 639.2,895.9 626.8,879.0 611.9,859.4 611.8,859.4 611.8,859.3 611.8,859.3 599.7,842.7 587.9,826.5 555.1,793.8 540.2,778.8 528.6,768.7 513.8,758.3 513.8,758.3 513.7,758.2 513.6,758.2 495.7,744.7 475.0,731.5 451.1,718.0 427.4,704.7 397.4,694.9 397.3,694.9 397.3,694.9 397.3,694.9 379.3,688.9 364.6,684.5 342.9,680.2Z"/><circle cx="131.6" cy="786.8" r="4.9"/><circle cx="137.2" cy="759.8" r="4.9"/><circle cx="137.2" cy="764.3" r="4.9"/><circle cx="137.2" cy="768.8" r="4.9"/><circle cx="137.2" cy="773.3" r="4.9"/><circle cx="137.2" cy="777.8" r="4.9"/><circle cx="137.2" cy="782.3" r="4.9"/><circle cx="137.2" cy="786.8" r="4.9"/><circle cx="137.2" cy="791.4" r="4.9"/><circle cx="137.2" cy="795.9" r="4.9"/><circle cx="137.2" cy="800.4" r="4.9"/><circle cx="137.2" cy="804.9" r="4.9"/><circle cx="137.2" cy="809.4" r="4.9"/><circle cx="137.2" cy="813.9" r="4.9"/><circle cx="137.2" cy="818.4" r="4.9"/><circle cx="142.7" cy="746.2" r="4.9"/><circle cx="142.7" cy="750.7" r="4.9"/><circle cx="142.7" cy="755.2" r="4.9"/><circle cx="142.7" cy="759.8" r="4.9"/><circle cx="142.7" cy="764.3" r="4.9"/><circle cx="142.7" cy="768.8" r="4.9"/><circle cx="142.7" cy="773.3" r="4.9"/><circle cx="142.7" cy="777.8" r="4.9"/><circle cx="142.7" cy="791.4" r="4.9"/><circle cx="142.7" cy="795.9" r="4.9"/><circle cx="142.7" cy="800.4" r="4.9"/><circle cx="142.7" cy="804.9" r="4.9"/><circle cx="142.7" cy="809.4" r="4.9"/><circle cx="142.7" cy="813.9" r="4.9"/><circle cx="142.7" cy="818.4" r="4.9"/><circle cx="142.7" cy="822.9" r="4.9"/><circle cx="142.7" cy="827.5" r="4.9"/><circle cx="148.3" cy="741.7" r="4.9"/><circle cx="148.3" cy="746.2" r="4.9"/><circle cx="148.3" cy="750.7" r="4.9"/><circle cx="148.3" cy="822.9" r="4.9"/><circle cx="148.3" cy="827.5" r="4.9"/><circle cx="148.3" cy="832.0" r="4.9"/><circle cx="148.3" cy="836.5" r="4.9"/><circle cx="148.3" cy="841.0" r="4.9"/><circle cx="153.9" cy="732.7" r="4.9"/><circle cx="153.9" cy="737.2" r="4.9"/><circle cx="153.9" cy="741.7" r="4.9"/><circle cx="153.9" cy="836.5" r="4.9"/><circle cx="153.9" cy="841.0" r="4.9"/><circle cx="153.9" cy="845.5" r="4.9"/><circle cx="153.9" cy="850.0" r="4.9"/><circle cx="159.4" cy="728.2" r="4.9"/><circle cx="159.4" cy="732.7" r="4.9"/><circle cx="159.4" cy="737.2" r="4.9"/><circle cx="159.4" cy="850.0" r="4.9"/><circle cx="159.4" cy="854.5" r="4.9"/><circle cx="159.4" cy="859.1" r="4.9"/><circle cx="159.4" cy="863.6" r="4.9"/><circle cx="165.0" cy="723.6" r="4.9"/><circle cx="165.0" cy="728.2" r="4.9"/><circle cx="165.0" cy="732.7" r="4.9"/><circle cx="165.0" cy="859.1" r="4.9"/><circle cx="165.0" cy="863.6" r="4.9"/><circle cx="165.0" cy="868.1" r="4.9"/><circle cx="165.0" cy="872.6" r="4.9"/><circle cx="170.6" cy="719.1" r="4.9"/><circle cx="170.6" cy="723.6" r="4.9"/><circle cx="170.6" cy="728.2" r="4.9"/><circle cx="170.6" cy="868.1" r="4.9"/><circle cx="170.6" cy="872.6" r="4.9"/><circle cx="170.6" cy="877.1" r="4.9"/><circle cx="176.2" cy="714.6" r="4.9"/><circle cx="176.2" cy="719.1" r="4.9"/><circle cx="176.2" cy="723.6" r="4.9"/><circle cx="176.2" cy="877.1" r="4.9"/><circle cx="176.2" cy="881.6" r="4.9"/><circle cx="176.2" cy="886.1" r="4.9"/><circle cx="181.7" cy="714.6" r="4.9"/><circle cx="181.7" cy="719.1" r="4.9"/><circle cx="181.7" cy="881.6" r="4.9"/><circle cx="181.7" cy="886.1" r="4.9"/><circle cx="181.7" cy="890.7" r="4.9"/><circle cx="187.3" cy="710.1" r="4.9"/><circle cx="187.3" cy="714.6" r="4.9"/><circle cx="187.3" cy="890.7" r="4.9"/><circle cx="187.3" cy="895.2" r="4.9"/><circle cx="187.3" cy="899.7" r="4.9"/><circle cx="192.9" cy="705.6" r="4.9"/><circle cx="192.9" cy="710.1" r="4.9"/><circle cx="192.9" cy="895.2" r="4.9"/><circle cx="192.9" cy="899.7" r="4.9"/><circle cx="192.9" cy="904.2" r="4.9"/><circle cx="192.9" cy="908.7" r="4.9"/><circle cx="198.4" cy="701.1" r="4.9"/><circle cx="198.4" cy="705.6" r="4.9"/><circle cx="198.4" cy="710.1" r="4.9"/><circle cx="198.4" cy="904.2" r="4.9"/><circle cx="198.4" cy="908.7" r="4.9"/><circle cx="198.4" cy="913.2" r="4.9"/><circle cx="198.4" cy="917.7" r="4.9"/><circle cx="204.0" cy="701.1" r="4.9"/><circle cx="204.0" cy="705.6" r="4.9"/><circle cx="204.0" cy="913.2" r="4.9"/><circle cx="204.0" cy="917.7" r="4.9"/><circle cx="204.0" cy="922.3" r="4.9"/><circle cx="209.6" cy="696.6" r="4.9"/><circle cx="209.6" cy="701.1" r="4.9"/><circle cx="209.6" cy="917.7" r="4.9"/><circle cx="209.6" cy="922.3" r="4.9"/><circle cx="209.6" cy="926.8" r="4.9"/><circle cx="209.6" cy="931.3" r="4.9"/><circle cx="215.2" cy="692.0" r="4.9"/><circle cx="215.2" cy="696.6" r="4.9"/><circle cx="215.2" cy="701.1" r="4.9"/><circle cx="215.2" cy="926.8" r="4.9"/><circle cx="215.2" cy="931.3" r="4.9"/><circle cx="215.2" cy="935.8" r="4.9"/><circle cx="220.7" cy="692.0" r="4.9"/><circle cx="220.7" cy="696.6" r="4.9"/><circle cx="220.7" cy="931.3" r="4.9"/><circle cx="220.7" cy="935.8" r="4.9"/><circle cx="220.7" cy="940.3" r="4.9"/><circle cx="226.3" cy="687.5" r="4.9"/><circle cx="226.3" cy="692.0" r="4.9"/><circle cx="226.3" cy="696.6" r="4.9"/><circle cx="226.3" cy="940.3" r="4.9"/><circle cx="226.3" cy="944.8" r="4.9"/><circle cx="226.3" cy="949.3" r="4.9"/><circle cx="231.9" cy="687.5" r="4.9"/><circle cx="231.9" cy="692.0" r="4.9"/><circle cx="231.9" cy="944.8" r="4.9"/><circle cx="231.9" cy="949.3" r="4.9"/><circle cx="231.9" cy="953.9" r="4.9"/><circle cx="237.4" cy="687.5" r="4.9"/><circle cx="237.4" cy="692.0" r="4.9"/><circle cx="237.4" cy="949.3" r="4.9"/><circle cx="237.4" cy="953.9" r="4.9"/><circle cx="237.4" cy="958.4" r="4.9"/><circle cx="243.0" cy="683.0" r="4.9"/><circle cx="243.0" cy="687.5" r="4.9"/><circle cx="243.0" cy="958.4" r="4.9"/><circle cx="243.0" cy="962.9" r="4.9"/><circle cx="243.0" cy="967.4" r="4.9"/><circle cx="248.6" cy="683.0" r="4.9"/><circle cx="248.6" cy="687.5" r="4.9"/><circle cx="248.6" cy="962.9" r="4.9"/><circle cx="248.6" cy="967.4" r="4.9"/><circle cx="248.6" cy="971.9" r="4.9"/><circle cx="254.1" cy="683.0" r="4.9"/><circle cx="254.1" cy="687.5" r="4.9"/><circle cx="254.1" cy="967.4" r="4.9"/><circle cx="254.1" cy="971.9" r="4.9"/><circle cx="254.1" cy="976.4" r="4.9"/><circle cx="259.7" cy="683.0" r="4.9"/><circle cx="259.7" cy="687.5" r="4.9"/><circle cx="259.7" cy="971.9" r="4.9"/><circle cx="259.7" cy="976.4" r="4.9"/><circle cx="259.7" cy="980.9" r="4.9"/><circle cx="265.3" cy="678.5" r="4.9"/><circle cx="265.3" cy="683.0" r="4.9"/><circle cx="265.3" cy="980.9" r="4.9"/><circle cx="265.3" cy="985.5" r="4.9"/><circle cx="265.3" cy="990.0" r="4.9"/><circle cx="270.9" cy="678.5" r="4.9"/><circle cx="270.9" cy="683.0" r="4.9"/><circle cx="270.9" cy="985.5" r="4.9"/><circle cx="270.9" cy="990.0" r="4.9"/><circle cx="270.9" cy="994.5" r="4.9"/><circle cx="276.4" cy="678.5" r="4.9"/><circle cx="276.4" cy="683.0" r="4.9"/><circle cx="276.4" cy="990.0" r="4.9"/><circle cx="276.4" cy="994.5" r="4.9"/><circle cx="276.4" cy="999.0" r="4.9"/><circle cx="282.0" cy="678.5" r="4.9"/><circle cx="282.0" cy="683.0" r="4.9"/><circle cx="282.0" cy="994.5" r="4.9"/><circle cx="282.0" cy="999.0" r="4.9"/><circle cx="282.0" cy="1003.5" r="4.9"/><circle cx="287.6" cy="678.5" r="4.9"/><circle cx="287.6" cy="683.0" r="4.9"/><circle cx="287.6" cy="999.0" r="4.9"/><circle cx="287.6" cy="1003.5" r="4.9"/><circle cx="287.6" cy="1008.0" r="4.9"/><circle cx="293.1" cy="678.5" r="4.9"/><circle cx="293.1" cy="683.0" r="4.9"/><circle cx="293.1" cy="1008.0" r="4.9"/><circle cx="293.1" cy="1012.5" r="4.9"/><circle cx="298.7" cy="678.5" r="4.9"/><circle cx="298.7" cy="683.0" r="4.9"/><circle cx="298.7" cy="1012.5" r="4.9"/><circle cx="298.7" cy="1017.0" r="4.9"/><circle cx="304.3" cy="678.5" r="4.9"/><circle cx="304.3" cy="683.0" r="4.9"/><circle cx="304.3" cy="1017.0" r="4.9"/><circle cx="304.3" cy="1021.6" r="4.9"/><circle cx="309.8" cy="678.5" r="4.9"/><circle cx="309.8" cy="683.0" r="4.9"/><circle cx="309.8" cy="1021.6" r="4.9"/><circle cx="309.8" cy="1026.1" r="4.9"/><circle cx="309.8" cy="1030.6" r="4.9"/><circle cx="315.4" cy="678.5" r="4.9"/><circle cx="315.4" cy="683.0" r="4.9"/><circle cx="315.4" cy="1026.1" r="4.9"/><circle cx="315.4" cy="1030.6" r="4.9"/><circle cx="315.4" cy="1035.1" r="4.9"/><circle cx="321.0" cy="678.5" r="4.9"/><circle cx="321.0" cy="683.0" r="4.9"/><circle cx="321.0" cy="1030.6" r="4.9"/><circle cx="321.0" cy="1035.1" r="4.9"/><circle cx="321.0" cy="1039.6" r="4.9"/><circle cx="326.6" cy="678.5" r="4.9"/><circle cx="326.6" cy="683.0" r="4.9"/><circle cx="326.6" cy="1035.1" r="4.9"/><circle cx="326.6" cy="1039.6" r="4.9"/><circle cx="326.6" cy="1044.1" r="4.9"/><circle cx="332.1" cy="678.5" r="4.9"/><circle cx="332.1" cy="683.0" r="4.9"/><circle cx="332.1" cy="1039.6" r="4.9"/><circle cx="332.1" cy="1044.1" r="4.9"/><circle cx="332.1" cy="1048.6" r="4.9"/><circle cx="337.7" cy="678.5" r="4.9"/><circle cx="337.7" cy="683.0" r="4.9"/><circle cx="337.7" cy="1044.1" r="4.9"/><circle cx="337.7" cy="1048.6" r="4.9"/><circle cx="337.7" cy="1053.2" r="4.9"/><circle cx="343.3" cy="678.5" r="4.9"/><circle cx="343.3" cy="683.0" r="4.9"/><circle cx="343.3" cy="1048.6" r="4.9"/><circle cx="343.3" cy="1053.2" r="4.9"/><circle cx="343.3" cy="1057.7" r="4.9"/><circle cx="348.8" cy="678.5" r="4.9"/><circle cx="348.8" cy="683.0" r="4.9"/><circle cx="348.8" cy="1053.2" r="4.9"/><circle cx="348.8" cy="1057.7" r="4.9"/><circle cx="348.8" cy="1062.2" r="4.9"/><circle cx="354.4" cy="683.0" r="4.9"/><circle cx="354.4" cy="687.5" r="4.9"/><circle cx="354.4" cy="1057.7" r="4.9"/><circle cx="354.4" cy="1062.2" r="4.9"/><circle cx="354.4" cy="1066.7" r="4.9"/><circle cx="360.0" cy="683.0" r="4.9"/><circle cx="360.0" cy="687.5" r="4.9"/><circle cx="360.0" cy="1062.2" r="4.9"/><circle cx="360.0" cy="1066.7" r="4.9"/><circle cx="360.0" cy="1071.2" r="4.9"/><circle cx="365.5" cy="683.0" r="4.9"/><circle cx="365.5" cy="687.5" r="4.9"/><circle cx="365.5" cy="1066.7" r="4.9"/><circle cx="365.5" cy="1071.2" r="4.9"/><circle cx="365.5" cy="1075.7" r="4.9"/><circle cx="371.1" cy="683.0" r="4.9"/><circle cx="371.1" cy="687.5" r="4.9"/><circle cx="371.1" cy="692.0" r="4.9"/><circle cx="371.1" cy="1071.2" r="4.9"/><circle cx="371.1" cy="1075.7" r="4.9"/><circle cx="371.1" cy="1080.2" r="4.9"/><circle cx="376.7" cy="687.5" r="4.9"/><circle cx="376.7" cy="692.0" r="4.9"/><circle cx="376.7" cy="1075.7" r="4.9"/><circle cx="376.7" cy="1080.2" r="4.9"/><circle cx="382.2" cy="687.5" r="4.9"/><circle cx="382.2" cy="692.0" r="4.9"/><circle cx="382.2" cy="1080.2" r="4.9"/><circle cx="382.2" cy="1084.8" r="4.9"/><circle cx="387.8" cy="692.0" r="4.9"/><circle cx="387.8" cy="696.6" r="4.9"/><circle cx="387.8" cy="1084.8" r="4.9"/><circle cx="387.8" cy="1089.3" r="4.9"/><circle cx="393.4" cy="692.0" r="4.9"/><circle cx="393.4" cy="696.6" r="4.9"/><circle cx="393.4" cy="1089.3" r="4.9"/><circle cx="393.4" cy="1093.8" r="4.9"/><circle cx="399.0" cy="692.0" r="4.9"/><circle cx="399.0" cy="696.6" r="4.9"/><circle cx="399.0" cy="701.1" r="4.9"/><circle cx="399.0" cy="1093.8" r="4.9"/><circle cx="399.0" cy="1098.3" r="4.9"/><circle cx="404.5" cy="696.6" r="4.9"/><circle cx="404.5" cy="701.1" r="4.9"/><circle cx="404.5" cy="1093.8" r="4.9"/><circle cx="404.5" cy="1098.3" r="4.9"/><circle cx="404.5" cy="1102.8" r="4.9"/><circle cx="410.1" cy="696.6" r="4.9"/><circle cx="410.1" cy="701.1" r="4.9"/><circle cx="410.1" cy="1093.8" r="4.9"/><circle cx="410.1" cy="1098.3" r="4.9"/><circle cx="415.7" cy="701.1" r="4.9"/><circle cx="415.7" cy="705.6" r="4.9"/><circle cx="415.7" cy="1093.8" r="4.9"/><circle cx="415.7" cy="1098.3" r="4.9"/><circle cx="421.2" cy="701.1" r="4.9"/><circle cx="421.2" cy="705.6" r="4.9"/><circle cx="421.2" cy="1089.3" r="4.9"/><circle cx="421.2" cy="1093.8" r="4.9"/><circle cx="426.8" cy="701.1" r="4.9"/><circle cx="426.8" cy="705.6" r="4.9"/><circle cx="426.8" cy="710.1" r="4.9"/><circle cx="426.8" cy="1089.3" r="4.9"/><circle cx="426.8" cy="1093.8" r="4.9"/><circle cx="432.4" cy="705.6" r="4.9"/><circle cx="432.4" cy="710.1" r="4.9"/><circle cx="432.4" cy="1084.8" r="4.9"/><circle cx="432.4" cy="1089.3" r="4.9"/><circle cx="438.0" cy="710.1" r="4.9"/><circle cx="438.0" cy="714.6" r="4.9"/><circle cx="438.0" cy="1084.8" r="4.9"/><circle cx="438.0" cy="1089.3" r="4.9"/><circle cx="443.5" cy="710.1" r="4.9"/><circle cx="443.5" cy="714.6" r="4.9"/><circle cx="443.5" cy="719.1" r="4.9"/><circle cx="443.5" cy="1080.2" r="4.9"/><circle cx="443.5" cy="1084.8" r="4.9"/><circle cx="449.1" cy="714.6" r="4.9"/><circle cx="449.1" cy="719.1" r="4.9"/><circle cx="449.1" cy="1075.7" r="4.9"/><circle cx="449.1" cy="1080.2" r="4.9"/><circle cx="449.1" cy="1084.8" r="4.9"/><circle cx="454.7" cy="719.1" r="4.9"/><circle cx="454.7" cy="723.6" r="4.9"/><circle cx="454.7" cy="1075.7" r="4.9"/><circle cx="454.7" cy="1080.2" r="4.9"/><circle cx="460.2" cy="719.1" r="4.9"/><circle cx="460.2" cy="723.6" r="4.9"/><circle cx="460.2" cy="728.2" r="4.9"/><circle cx="460.2" cy="1071.2" r="4.9"/><circle cx="460.2" cy="1075.7" r="4.9"/><circle cx="465.8" cy="723.6" r="4.9"/><circle cx="465.8" cy="728.2" r="4.9"/><circle cx="465.8" cy="1066.7" r="4.9"/><circle cx="465.8" cy="1071.2" r="4.9"/><circle cx="465.8" cy="1075.7" r="4.9"/><circle cx="471.4" cy="728.2" r="4.9"/><circle cx="471.4" cy="732.7" r="4.9"/><circle cx="471.4" cy="1066.7" r="4.9"/><circle cx="471.4" cy="1071.2" r="4.9"/><circle cx="476.9" cy="732.7" r="4.9"/><circle cx="476.9" cy="737.2" r="4.9"/><circle cx="476.9" cy="1062.2" r="4.9"/><circle cx="476.9" cy="1066.7" r="4.9"/><circle cx="482.5" cy="732.7" r="4.9"/><circle cx="482.5" cy="737.2" r="4.9"/><circle cx="482.5" cy="741.7" r="4.9"/><circle cx="482.5" cy="1057.7" r="4.9"/><circle cx="482.5" cy="1062.2" r="4.9"/><circle cx="482.5" cy="1066.7" r="4.9"/><circle cx="488.1" cy="737.2" r="4.9"/><circle cx="488.1" cy="741.7" r="4.9"/><circle cx="488.1" cy="746.2" r="4.9"/><circle cx="488.1" cy="1057.7" r="4.9"/><circle cx="488.1" cy="1062.2" r="4.9"/><circle cx="493.6" cy="741.7" r="4.9"/><circle cx="493.6" cy="746.2" r="4.9"/><circle cx="493.6" cy="1053.2" r="4.9"/><circle cx="493.6" cy="1057.7" r="4.9"/><circle cx="499.2" cy="746.2" r="4.9"/><circle cx="499.2" cy="750.7" r="4.9"/><circle cx="499.2" cy="1053.2" r="4.9"/><circle cx="499.2" cy="1057.7" r="4.9"/><circle cx="504.8" cy="750.7" r="4.9"/><circle cx="504.8" cy="755.2" r="4.9"/><circle cx="504.8" cy="1048.6" r="4.9"/><circle cx="504.8" cy="1053.2" r="4.9"/><circle cx="510.4" cy="755.2" r="4.9"/><circle cx="510.4" cy="759.8" r="4.9"/><circle cx="510.4" cy="1044.1" r="4.9"/><circle cx="510.4" cy="1048.6" r="4.9"/><circle cx="510.4" cy="1053.2" r="4.9"/><circle cx="515.9" cy="759.8" r="4.9"/><circle cx="515.9" cy="764.3" r="4.9"/><circle cx="515.9" cy="1044.1" r="4.9"/><circle cx="515.9" cy="1048.6" r="4.9"/><circle cx="521.5" cy="759.8" r="4.9"/><circle cx="521.5" cy="764.3" r="4.9"/><circle cx="521.5" cy="768.8" r="4.9"/><circle cx="521.5" cy="1039.6" r="4.9"/><circle cx="521.5" cy="1044.1" r="4.9"/><circle cx="527.1" cy="764.3" r="4.9"/><circle cx="527.1" cy="768.8" r="4.9"/><circle cx="527.1" cy="773.3" r="4.9"/><circle cx="527.1" cy="1039.6" r="4.9"/><circle cx="527.1" cy="1044.1" r="4.9"/><circle cx="532.6" cy="768.8" r="4.9"/><circle cx="532.6" cy="773.3" r="4.9"/><circle cx="532.6" cy="777.8" r="4.9"/><circle cx="532.6" cy="1035.1" r="4.9"/><circle cx="532.6" cy="1039.6" r="4.9"/><circle cx="532.6" cy="1044.1" r="4.9"/><circle cx="538.2" cy="773.3" r="4.9"/><circle cx="538.2" cy="777.8" r="4.9"/><circle cx="538.2" cy="782.3" r="4.9"/><circle cx="538.2" cy="1035.1" r="4.9"/><circle cx="538.2" cy="1039.6" r="4.9"/><circle cx="543.8" cy="777.8" r="4.9"/><circle cx="543.8" cy="782.3" r="4.9"/><circle cx="543.8" cy="786.8" r="4.9"/><circle cx="543.8" cy="1035.1" r="4.9"/><circle cx="543.8" cy="1039.6" r="4.9"/><circle cx="549.4" cy="786.8" r="4.9"/><circle cx="549.4" cy="791.4" r="4.9"/><circle cx="549.4" cy="1030.6" r="4.9"/><circle cx="549.4" cy="1035.1" r="4.9"/><circle cx="554.9" cy="791.4" r="4.9"/><circle cx="554.9" cy="795.9" r="4.9"/><circle cx="554.9" cy="800.4" r="4.9"/><circle cx="554.9" cy="1030.6" r="4.9"/><circle cx="554.9" cy="1035.1" r="4.9"/><circle cx="560.5" cy="795.9" r="4.9"/><circle cx="560.5" cy="800.4" r="4.9"/><circle cx="560.5" cy="804.9" r="4.9"/><circle cx="560.5" cy="1030.6" r="4.9"/><circle cx="560.5" cy="1035.1" r="4.9"/><circle cx="566.1" cy="800.4" r="4.9"/><circle cx="566.1" cy="804.9" r="4.9"/><circle cx="566.1" cy="809.4" r="4.9"/><circle cx="566.1" cy="1030.6" r="4.9"/><circle cx="566.1" cy="1035.1" r="4.9"/><circle cx="571.6" cy="809.4" r="4.9"/><circle cx="571.6" cy="813.9" r="4.9"/><circle cx="571.6" cy="1026.1" r="4.9"/><circle cx="571.6" cy="1030.6" r="4.9"/><circle cx="577.2" cy="813.9" r="4.9"/><circle cx="577.2" cy="818.4" r="4.9"/><circle cx="577.2" cy="822.9" r="4.9"/><circle cx="577.2" cy="1026.1" r="4.9"/><circle cx="577.2" cy="1030.6" r="4.9"/><circle cx="582.8" cy="818.4" r="4.9"/><circle cx="582.8" cy="822.9" r="4.9"/><circle cx="582.8" cy="827.5" r="4.9"/><circle cx="582.8" cy="1026.1" r="4.9"/><circle cx="582.8" cy="1030.6" r="4.9"/><circle cx="588.3" cy="822.9" r="4.9"/><circle cx="588.3" cy="827.5" r="4.9"/><circle cx="588.3" cy="832.0" r="4.9"/><circle cx="588.3" cy="1026.1" r="4.9"/><circle cx="588.3" cy="1030.6" r="4.9"/><circle cx="593.9" cy="832.0" r="4.9"/><circle cx="593.9" cy="836.5" r="4.9"/><circle cx="593.9" cy="841.0" r="4.9"/><circle cx="593.9" cy="1030.6" r="4.9"/><circle cx="593.9" cy="1035.1" r="4.9"/><circle cx="599.5" cy="836.5" r="4.9"/><circle cx="599.5" cy="841.0" r="4.9"/><circle cx="599.5" cy="845.5" r="4.9"/><circle cx="599.5" cy="850.0" r="4.9"/><circle cx="599.5" cy="1030.6" r="4.9"/><circle cx="599.5" cy="1035.1" r="4.9"/><circle cx="605.1" cy="845.5" r="4.9"/><circle cx="605.1" cy="850.0" r="4.9"/><circle cx="605.1" cy="854.5" r="4.9"/><circle cx="605.1" cy="859.1" r="4.9"/><circle cx="605.1" cy="1030.6" r="4.9"/><circle cx="605.1" cy="1035.1" r="4.9"/><circle cx="610.6" cy="854.5" r="4.9"/><circle cx="610.6" cy="859.1" r="4.9"/><circle cx="610.6" cy="863.6" r="4.9"/><circle cx="610.6" cy="1030.6" r="4.9"/><circle cx="610.6" cy="1035.1" r="4.9"/><circle cx="616.2" cy="859.1" r="4.9"/><circle cx="616.2" cy="863.6" r="4.9"/><circle cx="616.2" cy="868.1" r="4.9"/><circle cx="616.2" cy="872.6" r="4.9"/><circle cx="616.2" cy="1030.6" r="4.9"/><circle cx="616.2" cy="1035.1" r="4.9"/><circle cx="621.8" cy="868.1" r="4.9"/><circle cx="621.8" cy="872.6" r="4.9"/><circle cx="621.8" cy="877.1" r="4.9"/><circle cx="621.8" cy="1035.1" r="4.9"/><circle cx="621.8" cy="1039.6" r="4.9"/><circle cx="627.3" cy="877.1" r="4.9"/><circle cx="627.3" cy="881.6" r="4.9"/><circle cx="627.3" cy="886.1" r="4.9"/><circle cx="627.3" cy="1035.1" r="4.9"/><circle cx="627.3" cy="1039.6" r="4.9"/><circle cx="632.9" cy="881.6" r="4.9"/><circle cx="632.9" cy="886.1" r="4.9"/><circle cx="632.9" cy="890.7" r="4.9"/><circle cx="632.9" cy="895.2" r="4.9"/><circle cx="632.9" cy="1035.1" r="4.9"/><circle cx="632.9" cy="1039.6" r="4.9"/><circle cx="632.9" cy="1044.1" r="4.9"/><circle cx="638.5" cy="890.7" r="4.9"/><circle cx="638.5" cy="895.2" r="4.9"/><circle cx="638.5" cy="899.7" r="4.9"/><circle cx="638.5" cy="1039.6" r="4.9"/><circle cx="638.5" cy="1044.1" r="4.9"/><circle cx="644.0" cy="899.7" r="4.9"/><circle cx="644.0" cy="904.2" r="4.9"/><circle cx="644.0" cy="908.7" r="4.9"/><circle cx="644.0" cy="1039.6" r="4.9"/><circle cx="644.0" cy="1044.1" r="4.9"/><circle cx="649.6" cy="904.2" r="4.9"/><circle cx="649.6" cy="908.7" r="4.9"/><circle cx="649.6" cy="913.2" r="4.9"/><circle cx="649.6" cy="1044.1" r="4.9"/><circle cx="649.6" cy="1048.6" r="4.9"/><circle cx="655.2" cy="913.2" r="4.9"/><circle cx="655.2" cy="917.7" r="4.9"/><circle cx="655.2" cy="922.3" r="4.9"/><circle cx="655.2" cy="1044.1" r="4.9"/><circle cx="655.2" cy="1048.6" r="4.9"/><circle cx="660.8" cy="922.3" r="4.9"/><circle cx="660.8" cy="926.8" r="4.9"/><circle cx="660.8" cy="931.3" r="4.9"/><circle cx="660.8" cy="1048.6" r="4.9"/><circle cx="660.8" cy="1053.2" r="4.9"/><circle cx="666.3" cy="931.3" r="4.9"/><circle cx="666.3" cy="935.8" r="4.9"/><circle cx="666.3" cy="940.3" r="4.9"/><circle cx="666.3" cy="1048.6" r="4.9"/><circle cx="666.3" cy="1053.2" r="4.9"/><circle cx="671.9" cy="940.3" r="4.9"/><circle cx="671.9" cy="944.8" r="4.9"/><circle cx="671.9" cy="949.3" r="4.9"/><circle cx="671.9" cy="1053.2" r="4.9"/><circle cx="671.9" cy="1057.7" r="4.9"/><circle cx="677.5" cy="944.8" r="4.9"/><circle cx="677.5" cy="949.3" r="4.9"/><circle cx="677.5" cy="953.9" r="4.9"/><circle cx="677.5" cy="958.4" r="4.9"/><circle cx="677.5" cy="1057.7" r="4.9"/><circle cx="677.5" cy="1062.2" r="4.9"/><circle cx="683.0" cy="953.9" r="4.9"/><circle cx="683.0" cy="958.4" r="4.9"/><circle cx="683.0" cy="962.9" r="4.9"/><circle cx="683.0" cy="967.4" r="4.9"/><circle cx="683.0" cy="971.9" r="4.9"/><circle cx="683.0" cy="1062.2" r="4.9"/><circle cx="683.0" cy="1066.7" r="4.9"/><circle cx="688.6" cy="967.4" r="4.9"/><circle cx="688.6" cy="971.9" r="4.9"/><circle cx="688.6" cy="976.4" r="4.9"/><circle cx="688.6" cy="980.9" r="4.9"/><circle cx="688.6" cy="1062.2" r="4.9"/><circle cx="688.6" cy="1066.7" r="4.9"/><circle cx="688.6" cy="1071.2" r="4.9"/><circle cx="694.2" cy="976.4" r="4.9"/><circle cx="694.2" cy="980.9" r="4.9"/><circle cx="694.2" cy="985.5" r="4.9"/><circle cx="694.2" cy="990.0" r="4.9"/><circle cx="694.2" cy="1066.7" r="4.9"/><circle cx="694.2" cy="1071.2" r="4.9"/><circle cx="694.2" cy="1075.7" r="4.9"/><circle cx="699.7" cy="985.5" r="4.9"/><circle cx="699.7" cy="990.0" r="4.9"/><circle cx="699.7" cy="994.5" r="4.9"/><circle cx="699.7" cy="999.0" r="4.9"/><circle cx="699.7" cy="1003.5" r="4.9"/><circle cx="699.7" cy="1071.2" r="4.9"/><circle cx="699.7" cy="1075.7" r="4.9"/><circle cx="699.7" cy="1080.2" r="4.9"/><circle cx="705.3" cy="999.0" r="4.9"/><circle cx="705.3" cy="1003.5" r="4.9"/><circle cx="705.3" cy="1008.0" r="4.9"/><circle cx="705.3" cy="1012.5" r="4.9"/><circle cx="705.3" cy="1075.7" r="4.9"/><circle cx="705.3" cy="1080.2" r="4.9"/><circle cx="705.3" cy="1084.8" r="4.9"/><circle cx="710.9" cy="1008.0" r="4.9"/><circle cx="710.9" cy="1012.5" r="4.9"/><circle cx="710.9" cy="1017.0" r="4.9"/><circle cx="710.9" cy="1021.6" r="4.9"/><circle cx="710.9" cy="1026.1" r="4.9"/><circle cx="710.9" cy="1084.8" r="4.9"/><circle cx="710.9" cy="1089.3" r="4.9"/><circle cx="710.9" cy="1093.8" r="4.9"/><circle cx="716.5" cy="1021.6" r="4.9"/><circle cx="716.5" cy="1026.1" r="4.9"/><circle cx="716.5" cy="1030.6" r="4.9"/><circle cx="716.5" cy="1035.1" r="4.9"/><circle cx="716.5" cy="1039.6" r="4.9"/><circle cx="716.5" cy="1089.3" r="4.9"/><circle cx="716.5" cy="1093.8" r="4.9"/><circle cx="716.5" cy="1098.3" r="4.9"/><circle cx="722.0" cy="1035.1" r="4.9"/><circle cx="722.0" cy="1039.6" r="4.9"/><circle cx="722.0" cy="1044.1" r="4.9"/><circle cx="722.0" cy="1048.6" r="4.9"/><circle cx="722.0" cy="1053.2" r="4.9"/><circle cx="722.0" cy="1093.8" r="4.9"/><circle cx="722.0" cy="1098.3" r="4.9"/><circle cx="722.0" cy="1102.8" r="4.9"/><circle cx="727.6" cy="1048.6" r="4.9"/><circle cx="727.6" cy="1053.2" r="4.9"/><circle cx="727.6" cy="1057.7" r="4.9"/><circle cx="727.6" cy="1062.2" r="4.9"/><circle cx="727.6" cy="1066.7" r="4.9"/><circle cx="727.6" cy="1102.8" r="4.9"/><circle cx="727.6" cy="1107.3" r="4.9"/><circle cx="727.6" cy="1111.8" r="4.9"/><circle cx="733.2" cy="1057.7" r="4.9"/><circle cx="733.2" cy="1062.2" r="4.9"/><circle cx="733.2" cy="1066.7" r="4.9"/><circle cx="733.2" cy="1071.2" r="4.9"/><circle cx="733.2" cy="1075.7" r="4.9"/><circle cx="733.2" cy="1080.2" r="4.9"/><circle cx="733.2" cy="1084.8" r="4.9"/><circle cx="733.2" cy="1107.3" r="4.9"/><circle cx="733.2" cy="1111.8" r="4.9"/><circle cx="733.2" cy="1116.4" r="4.9"/><circle cx="733.2" cy="1120.9" r="4.9"/><circle cx="738.7" cy="1071.2" r="4.9"/><circle cx="738.7" cy="1075.7" r="4.9"/><circle cx="738.7" cy="1080.2" r="4.9"/><circle cx="738.7" cy="1084.8" r="4.9"/><circle cx="738.7" cy="1089.3" r="4.9"/><circle cx="738.7" cy="1093.8" r="4.9"/><circle cx="738.7" cy="1098.3" r="4.9"/><circle cx="738.7" cy="1102.8" r="4.9"/><circle cx="738.7" cy="1116.4" r="4.9"/><circle cx="738.7" cy="1120.9" r="4.9"/><circle cx="738.7" cy="1125.4" r="4.9"/><circle cx="744.3" cy="1093.8" r="4.9"/><circle cx="744.3" cy="1098.3" r="4.9"/><circle cx="744.3" cy="1102.8" r="4.9"/><circle cx="744.3" cy="1107.3" r="4.9"/><circle cx="744.3" cy="1111.8" r="4.9"/><circle cx="744.3" cy="1116.4" r="4.9"/><circle cx="744.3" cy="1120.9" r="4.9"/><circle cx="744.3" cy="1125.4" r="4.9"/><circle cx="744.3" cy="1129.9" r="4.9"/><circle cx="744.3" cy="1134.4" r="4.9"/><circle cx="749.9" cy="1111.8" r="4.9"/><circle cx="749.9" cy="1116.4" r="4.9"/><circle cx="749.9" cy="1120.9" r="4.9"/><circle cx="749.9" cy="1125.4" r="4.9"/><circle cx="749.9" cy="1129.9" r="4.9"/><circle cx="749.9" cy="1134.4" r="4.9"/><circle cx="749.9" cy="1138.9" r="4.9"/></clipPath></defs>
<g clip-path="url(#ct)" stroke-linejoin="round">
<path d="M228.0,25.8 261.0,25.8 283.4,30.1 295.9,35.1 311.0,42.7 326.0,47.7 341.0,55.2 357.6,63.9 387.7,84.0 412.9,100.3 439.2,122.9 450.6,140.5 461.9,158.1 470.7,175.7 483.2,193.3 495.8,215.9 510.0,240.0 526.5,259.0 542.8,275.4 565.4,294.2 590.6,311.8 613.2,325.6 635.8,334.4 666.0,342.0 730.7,342.0 734.7,338.2 760.8,338.2 763.2,341.2 763.2,360.3 758.8,364.3 754.8,375.4 740.7,386.4 712.6,406.5 694.5,418.6 672.4,435.7 648.2,450.8 626.1,461.7 601.0,473.0 575.9,481.8 555.8,488.0 540.7,491.8 520.6,492.3 516.8,496.1 417.6,496.1 412.6,492.3 391.3,488.5 361.2,480.9 331.0,468.9 300.9,452.3 270.7,431.2 243.6,408.6 225.5,389.0 210.4,370.9 195.4,352.8 184.8,334.7 174.3,316.6 165.2,298.5 157.7,280.4 151.7,265.4 146.5,250.3 141.1,232.2 140.5,208.0 135.1,205.0 135.1,132.0 140.7,109.2 145.9,94.2 151.5,82.9 156.5,72.8 166.5,59.0 176.6,47.7 192.9,36.4 206.7,30.1Z" fill="#8000ff"/>
<path d="M238.8,123.0 253.0,121.5 265.0,121.5 271.0,122.3 273.0,122.0 289.0,124.6 303.0,128.6 319.0,134.4 341.0,144.3 403.0,176.0 417.0,183.7 449.0,204.1 473.0,220.1 477.0,223.5 481.3,229.0 485.0,238.4 487.3,243.0 490.0,247.0 501.0,268.8 505.0,275.0 512.5,283.0 517.2,287.0 533.0,297.3 567.0,315.9 588.4,325.0 619.0,335.2 693.0,354.0 739.0,368.2 775.0,380.2 775.0,439.1 725.2,459.0 709.0,466.4 706.6,467.0 690.6,475.0 668.2,485.0 641.7,495.0 617.5,505.0 276.2,505.0 261.0,494.7 251.0,487.0 226.5,465.0 217.0,455.2 208.2,445.0 200.7,435.0 194.2,425.0 183.8,407.0 177.8,395.0 177.0,392.2 169.1,375.0 168.8,373.0 163.0,359.7 162.4,357.0 158.5,347.0 150.2,317.0 150.2,315.0 147.0,301.0 147.1,299.0 145.7,293.0 145.9,291.0 144.7,285.0 144.9,283.0 144.1,279.0 144.5,277.0 143.8,273.0 144.2,271.0 143.6,267.0 144.0,265.0 143.5,255.0 144.0,253.0 143.6,249.0 144.7,243.0 144.5,239.0 145.8,233.0 145.7,229.0 147.4,223.0 147.4,221.0 148.3,219.0 148.4,217.0 149.4,215.0 149.6,211.0 152.0,205.0 152.2,203.0 153.3,201.0 153.6,199.0 154.8,197.0 156.7,191.0 159.5,187.0 159.9,185.0 163.3,179.0 163.8,177.0 165.5,175.0 166.0,173.0 169.5,169.0 170.1,167.0 172.0,165.0 172.7,163.0 176.8,159.0 177.7,157.0 182.3,153.0 183.3,151.0 185.9,149.0 187.1,147.0 193.1,143.0 194.6,141.0 202.0,137.0 204.1,135.0 214.1,131.0 217.0,129.1 224.7,127.0 229.0,125.2 237.0,123.9Z" fill="#7e03ff"/>
<path d="M255.4,137.0 257.0,136.4 265.0,137.0 267.0,136.5 283.0,138.4 297.0,141.7 309.0,145.4 319.0,149.0 345.0,160.2 388.2,181.0 407.0,190.6 439.0,210.3 471.0,231.7 475.0,235.7 477.2,239.0 481.0,247.0 489.0,259.0 493.0,267.0 497.0,273.4 503.5,283.0 507.0,287.1 511.5,291.0 526.2,301.0 539.8,309.0 566.2,323.0 575.1,327.0 590.9,333.0 615.3,341.0 667.0,354.4 693.0,361.9 708.2,367.0 740.2,379.0 761.8,389.0 765.3,391.0 773.0,397.0 775.0,399.1 775.0,411.6 772.6,415.0 762.0,423.0 739.2,435.0 712.1,447.0 696.3,455.0 693.0,456.1 678.7,463.0 653.0,473.0 624.9,483.0 574.8,505.0 321.9,505.0 321.0,504.5 293.0,488.0 275.0,475.8 265.0,468.2 243.0,448.7 231.8,437.0 223.0,426.8 209.0,406.2 199.0,388.1 191.3,371.0 191.0,369.0 181.9,347.0 181.6,345.0 178.4,337.0 178.1,335.0 175.2,327.0 175.0,325.0 173.0,319.0 172.9,317.0 169.2,303.0 169.3,301.0 166.7,289.0 166.9,287.0 165.9,283.0 166.1,281.0 164.7,271.0 165.1,269.0 164.1,259.0 164.5,257.0 164.0,253.0 164.8,247.0 164.4,243.0 165.5,237.0 165.2,233.0 166.6,227.0 166.6,225.0 167.4,223.0 167.4,219.0 169.3,213.0 169.4,211.0 170.4,209.0 170.5,207.0 173.0,201.0 173.2,199.0 174.4,197.0 174.7,195.0 177.8,189.0 178.3,187.0 179.8,185.0 180.3,183.0 183.7,179.0 184.3,177.0 186.1,175.0 186.8,173.0 188.9,171.0 189.7,169.0 193.0,166.0 195.0,163.2 197.9,161.0 199.2,159.0 202.1,157.0 203.7,155.0 211.0,151.0 213.0,149.1 218.0,147.0 220.9,145.0 227.0,143.1 229.0,141.7 235.0,140.4 237.0,139.4 249.0,137.2Z" fill="#7c06ff"/>
<path d="M261.7,151.0 263.0,150.6 269.0,151.2 271.0,150.8 285.0,152.5 299.0,155.6 315.0,160.4 347.0,173.4 383.0,189.5 405.0,200.5 437.0,220.0 467.0,240.0 473.0,246.5 481.0,259.5 487.0,267.4 495.6,281.0 503.0,290.7 507.0,294.8 512.4,299.0 524.7,307.0 539.0,315.3 561.0,327.0 578.8,335.0 613.8,347.0 683.0,366.2 699.0,372.1 714.9,379.0 733.0,389.0 735.9,391.0 739.6,395.0 742.5,399.0 743.1,401.0 740.4,409.0 737.7,413.0 724.9,423.0 720.7,425.0 707.8,433.0 688.8,443.0 669.0,451.5 615.1,471.0 582.4,485.0 561.3,493.0 543.0,499.2 529.7,505.0 367.2,505.0 347.0,496.2 331.0,488.1 317.0,480.2 301.0,470.3 285.0,459.4 275.0,451.6 259.0,437.4 249.0,427.5 243.0,421.1 231.7,407.0 222.7,393.0 215.0,379.2 209.0,366.4 200.5,345.0 194.2,327.0 194.0,325.0 189.5,311.0 189.5,309.0 186.4,297.0 186.4,295.0 185.3,291.0 183.5,279.0 181.8,261.0 182.1,259.0 181.5,255.0 182.1,249.0 181.7,245.0 182.6,239.0 182.3,235.0 186.2,213.0 188.5,207.0 188.7,205.0 189.9,203.0 190.1,201.0 191.4,199.0 191.8,197.0 193.2,195.0 193.6,193.0 195.2,191.0 195.7,189.0 197.4,187.0 198.0,185.0 199.9,183.0 200.6,181.0 202.7,179.0 203.6,177.0 207.0,174.2 209.0,171.6 211.0,170.2 213.0,167.9 217.0,165.6 219.0,163.5 223.0,161.7 225.0,160.0 231.1,157.0 237.0,155.5 239.0,154.2 245.0,153.3 247.0,152.2 253.0,151.9 255.0,151.1Z" fill="#7610ff"/>
<path d="M257.1,169.0 259.0,168.2 271.0,167.3 281.0,167.9 291.0,169.0 309.0,173.2 319.0,176.1 337.0,182.5 373.0,196.9 390.8,205.0 401.0,210.3 433.0,229.5 459.0,246.3 464.8,251.0 469.0,255.6 475.0,264.4 483.8,275.0 490.6,285.0 500.4,297.0 506.8,303.0 517.0,310.0 543.0,325.1 559.0,333.6 567.0,337.7 580.0,343.0 609.1,353.0 665.0,369.9 684.5,377.0 695.7,383.0 704.2,389.0 708.4,395.0 709.4,399.0 709.3,401.0 708.0,403.0 706.5,407.0 704.1,411.0 692.7,421.0 675.1,431.0 653.0,439.9 621.7,451.0 581.9,467.0 547.3,479.0 525.0,488.6 522.9,489.0 513.0,493.2 503.0,496.5 483.0,500.8 469.0,502.4 449.0,502.6 435.0,501.6 413.0,498.0 395.0,493.6 377.0,487.7 361.0,480.9 343.0,472.1 329.0,464.4 315.0,455.8 297.0,443.7 289.0,437.6 277.0,427.3 267.0,417.9 251.6,401.0 243.0,389.4 235.3,377.0 230.0,367.0 221.2,347.0 220.9,345.0 215.0,329.8 210.2,315.0 204.0,289.0 201.4,271.0 201.7,269.0 200.7,261.0 201.1,259.0 200.4,255.0 201.3,235.0 206.1,213.0 207.3,211.0 207.6,209.0 209.0,207.0 209.3,205.0 210.8,203.0 211.3,201.0 213.0,199.0 213.6,197.0 221.0,186.7 223.4,185.0 224.8,183.0 235.0,176.0 241.0,173.2 253.0,169.3Z" fill="#7019ff"/>
<path d="M269.2,179.0 271.0,178.4 277.0,178.2 289.0,178.9 301.0,180.8 321.0,185.8 339.0,191.8 371.0,203.7 387.0,210.6 397.0,215.7 431.0,235.9 455.0,251.2 461.0,255.7 466.3,261.0 471.0,267.4 485.0,284.1 488.4,289.0 499.0,301.5 505.0,307.1 513.0,312.4 544.7,331.0 561.0,339.7 572.3,345.0 605.0,357.0 630.9,365.0 657.0,373.8 665.3,377.0 677.5,383.0 686.3,389.0 689.7,395.0 690.0,399.0 688.6,401.0 687.2,405.0 684.6,409.0 673.0,418.0 650.2,429.0 581.0,455.8 553.8,465.0 529.0,475.8 511.0,482.7 495.0,487.2 483.0,489.5 473.0,490.8 463.0,491.3 447.0,491.0 435.0,489.9 413.0,486.0 395.0,481.4 379.0,475.9 361.0,467.9 345.0,459.9 321.0,445.7 297.0,429.0 289.0,422.3 273.0,407.3 259.0,391.6 251.0,380.9 245.0,371.1 236.7,355.0 229.4,337.0 229.0,334.7 222.2,315.0 218.3,301.0 213.7,277.0 213.9,275.0 213.0,271.0 213.3,269.0 212.6,265.0 212.3,251.0 212.8,249.0 212.8,241.0 214.1,231.0 219.5,213.0 227.6,199.0 238.5,189.0 241.0,187.9 243.0,186.2 246.7,185.0 253.0,181.8 257.0,181.2 263.0,179.2Z" fill="#6826fe"/>
<path d="M272.4,187.0 285.0,186.5 295.0,187.3 313.0,190.6 325.0,193.7 365.0,207.0 381.0,213.5 396.4,221.0 425.0,237.8 453.0,255.5 457.7,259.0 464.1,265.0 470.4,273.0 483.1,287.0 489.0,295.0 495.0,301.9 503.0,309.5 513.0,316.3 541.6,333.0 567.0,346.7 577.1,351.0 598.9,359.0 643.0,374.3 649.7,377.0 661.0,382.6 668.1,387.0 671.5,391.0 673.3,395.0 673.0,399.0 669.1,405.0 665.5,409.0 649.4,419.0 631.5,427.0 581.4,447.0 553.0,456.8 535.2,465.0 515.0,473.2 503.0,477.2 487.0,480.7 471.0,482.7 457.0,483.0 439.0,481.9 423.0,479.5 405.0,475.4 385.0,469.1 369.0,462.3 351.0,453.5 331.0,442.0 305.0,424.4 293.0,414.6 273.0,395.1 265.0,385.8 259.0,377.9 249.0,361.3 241.0,344.8 237.9,337.0 230.8,315.0 226.9,301.0 223.1,283.0 221.0,261.0 221.4,259.0 221.0,251.0 222.5,237.0 226.0,223.0 230.3,213.0 232.3,211.0 235.0,206.1 236.4,205.0 237.6,203.0 244.6,197.0 257.0,190.4 261.0,189.7 263.0,188.7Z" fill="#6032fe"/>
<path d="M270.2,195.0 285.0,193.1 295.0,193.6 307.0,195.1 317.0,197.1 335.0,202.0 365.0,211.7 381.0,218.1 395.3,225.0 425.0,242.3 451.0,258.8 456.8,263.0 465.0,271.0 497.0,307.6 509.0,317.0 543.0,337.0 565.0,349.0 573.6,353.0 589.0,359.0 632.1,375.0 644.5,381.0 654.0,387.0 657.7,393.0 657.6,397.0 653.8,403.0 650.2,407.0 634.5,417.0 613.1,427.0 583.7,439.0 555.1,449.0 529.1,461.0 509.1,469.0 487.0,474.3 471.0,476.2 457.0,476.5 439.0,475.3 425.0,473.1 409.0,469.6 391.0,464.2 373.0,456.9 355.0,448.0 333.0,435.4 309.0,419.1 293.0,405.6 279.0,391.9 267.0,377.6 261.0,369.1 257.0,362.4 249.0,346.8 245.0,337.8 239.9,323.0 234.2,303.0 234.1,301.0 231.5,291.0 228.7,273.0 228.8,267.0 228.1,263.0 228.5,261.0 228.2,253.0 228.8,251.0 229.1,243.0 229.9,241.0 231.0,233.0 232.2,231.0 232.4,229.0 234.6,223.0 236.0,221.0 236.6,219.0 240.2,213.0 245.5,207.0 249.0,204.1 257.0,199.3Z" fill="#5a3bfd"/>
<path d="M290.1,199.0 301.0,199.5 315.0,201.4 353.0,211.5 361.0,214.1 377.0,220.2 397.0,229.8 421.0,243.8 454.2,265.0 464.7,275.0 495.4,309.0 503.0,315.6 521.0,327.0 566.7,353.0 580.6,359.0 621.1,375.0 633.0,381.0 641.6,387.0 643.6,391.0 644.0,393.0 643.4,397.0 638.9,403.0 635.0,407.0 618.8,417.0 601.9,425.0 599.0,425.8 587.9,431.0 570.9,437.0 561.3,441.0 559.0,441.4 549.0,445.8 530.4,455.0 517.0,460.7 505.0,464.9 487.0,469.0 471.0,470.8 451.0,470.9 437.0,469.5 417.0,465.9 401.0,461.7 385.0,456.1 367.0,448.0 349.0,438.5 323.0,422.3 305.0,408.9 285.0,390.2 273.0,376.5 263.0,362.1 251.2,339.0 244.3,319.0 239.0,299.0 234.7,275.0 234.1,265.0 234.5,263.0 234.3,255.0 234.9,253.0 234.7,249.0 235.4,247.0 235.3,245.0 237.5,235.0 239.4,229.0 241.0,227.0 242.4,223.0 247.0,216.2 248.6,215.0 251.8,211.0 255.0,209.4 257.0,207.6 258.8,207.0 263.0,204.0 271.0,201.1 277.0,200.0Z" fill="#5247fc"/>
<path d="M282.1,205.0 287.0,204.1 295.0,203.9 307.0,204.7 329.0,208.7 345.0,212.7 361.0,217.6 381.0,225.2 395.0,232.2 419.0,245.9 453.0,267.6 459.0,272.8 477.0,291.3 493.0,309.4 504.4,319.0 563.0,353.9 578.3,361.0 593.0,366.8 611.5,375.0 625.8,383.0 628.5,385.0 631.8,391.0 630.9,397.0 625.9,403.0 621.6,407.0 608.6,415.0 593.0,422.8 591.0,423.2 579.0,428.7 577.0,429.0 552.4,439.0 541.0,445.2 519.0,455.2 507.0,459.6 495.0,462.7 483.0,465.0 467.0,466.4 453.0,466.2 437.0,464.8 419.0,461.5 401.0,456.8 387.0,451.8 371.0,444.7 355.0,436.5 335.0,424.6 315.0,410.9 303.0,401.0 285.0,383.4 275.0,371.4 269.0,363.0 265.0,356.4 255.0,335.9 249.6,321.0 243.0,295.0 243.0,293.0 241.8,289.0 241.8,287.0 240.8,283.0 239.7,273.0 239.1,261.0 239.7,259.0 239.9,251.0 240.7,249.0 240.8,245.0 241.7,243.0 241.8,241.0 243.0,239.0 243.5,235.0 244.9,233.0 245.4,231.0 248.5,225.0 255.0,216.8 265.0,209.9 269.0,208.1 273.0,206.7Z" fill="#4c50fc"/>
<path d="M286.6,209.0 291.0,208.4 305.0,208.4 323.0,210.9 343.0,215.4 355.0,218.6 373.0,224.9 383.0,229.1 401.0,238.6 417.0,247.8 445.0,265.2 455.0,272.4 477.0,294.3 487.0,305.6 495.0,313.7 503.0,320.1 561.0,355.3 572.0,361.0 603.2,375.0 616.2,383.0 618.5,385.0 620.5,389.0 620.8,391.0 620.2,395.0 615.7,401.0 611.9,405.0 599.9,413.0 584.4,421.0 581.0,422.0 571.0,426.6 568.8,427.0 555.1,433.0 536.6,443.0 515.0,452.8 497.0,458.2 479.0,461.4 463.0,462.4 447.0,461.8 429.0,459.3 411.0,455.4 399.0,451.8 387.0,447.3 371.0,440.1 355.0,431.8 333.0,418.4 315.0,405.7 303.0,395.4 285.0,377.2 275.3,365.0 267.0,351.7 257.0,330.3 254.5,323.0 249.0,303.0 249.0,301.0 246.6,291.0 244.4,275.0 244.7,273.0 243.9,269.0 244.4,267.0 244.3,257.0 246.7,243.0 248.6,237.0 251.3,231.0 253.0,229.4 255.4,225.0 261.0,219.5 271.0,213.3 279.0,210.5Z" fill="#445cfb"/>
<path d="M289.8,213.0 301.0,212.2 313.0,212.8 335.0,216.6 349.0,219.8 365.0,224.7 383.0,231.9 411.0,247.0 445.0,267.9 453.0,273.7 473.0,292.9 491.9,313.0 504.2,323.0 566.6,361.0 595.7,375.0 604.8,381.0 609.4,385.0 610.6,389.0 609.8,395.0 601.1,405.0 599.0,405.8 591.0,411.8 576.7,419.0 573.0,420.2 563.5,425.0 561.0,425.6 550.6,431.0 540.5,437.0 525.0,444.7 523.0,445.1 519.0,447.3 505.0,452.6 491.0,455.9 481.0,457.6 469.0,458.6 449.0,458.3 435.0,456.6 417.0,453.1 403.0,449.3 389.0,444.2 371.0,436.0 355.0,427.6 337.0,416.6 319.0,404.2 307.0,394.1 291.0,378.4 281.0,366.5 273.0,354.8 265.0,339.7 256.9,319.0 251.3,295.0 248.7,277.0 248.3,261.0 249.0,259.0 248.8,255.0 251.0,245.0 253.1,239.0 256.2,233.0 262.6,225.0 267.0,220.9 277.0,216.1 283.0,214.2Z" fill="#3e65fa"/>
<path d="M290.1,217.0 295.0,216.1 313.0,216.2 333.0,219.0 349.0,222.4 359.0,225.2 377.0,231.7 391.0,238.4 411.0,249.5 445.0,270.4 453.0,276.3 475.0,297.1 491.0,314.1 499.0,321.2 517.4,333.0 544.2,349.0 562.1,361.0 588.7,375.0 597.2,381.0 601.1,385.0 601.5,391.0 600.3,395.0 593.6,403.0 581.9,411.0 555.0,424.4 543.0,432.0 521.3,443.0 509.0,447.9 503.0,449.7 489.0,453.0 477.0,454.8 465.0,455.4 445.0,454.7 425.0,451.5 413.0,448.7 403.0,445.8 389.0,440.6 371.0,432.3 355.0,423.7 335.0,411.3 319.0,399.9 307.0,389.6 291.0,373.5 283.0,363.5 274.6,351.0 267.0,336.2 261.7,323.0 258.2,311.0 255.0,297.0 252.5,279.0 252.0,269.0 252.7,257.0 254.9,247.0 257.2,241.0 261.6,233.0 267.0,227.5 273.0,223.1 279.0,219.9 285.0,218.0Z" fill="#3670f8"/>
<path d="M289.9,221.0 297.0,219.4 311.0,219.2 331.0,221.3 351.0,225.4 369.0,230.9 377.0,234.1 391.0,240.7 413.0,253.0 443.0,271.5 451.0,277.2 477.0,301.4 492.1,317.0 501.0,324.2 541.2,349.0 557.0,359.5 559.0,361.4 582.1,375.0 587.5,379.0 592.0,383.0 593.5,385.0 593.4,389.0 592.6,393.0 585.0,402.3 583.0,403.1 575.3,409.0 560.5,417.0 539.0,430.8 537.0,431.3 526.8,437.0 513.0,443.3 499.0,447.6 485.0,450.8 469.0,452.3 453.0,452.2 441.0,451.1 421.0,447.5 409.0,444.5 393.0,439.0 375.0,430.9 357.0,421.4 339.0,410.3 323.0,399.2 313.0,390.9 297.0,375.4 287.0,363.9 279.0,352.6 271.6,339.0 264.3,321.0 261.7,313.0 259.1,301.0 255.8,277.0 255.5,271.0 256.1,269.0 256.2,261.0 258.5,249.0 260.9,243.0 267.1,233.0 269.0,231.9 273.0,228.0 275.0,227.3 279.0,224.4 287.0,221.5Z" fill="#3079f7"/>
<path d="M296.4,223.0 301.0,222.3 311.0,222.3 329.0,223.6 349.0,227.0 359.0,229.8 373.0,234.7 381.0,238.0 393.0,244.1 415.0,256.4 443.0,273.6 450.5,279.0 472.3,299.0 488.1,315.0 499.7,325.0 538.3,349.0 556.0,361.0 566.5,369.0 576.1,375.0 583.0,381.0 586.0,385.0 584.3,393.0 577.6,401.0 567.0,409.0 565.0,409.6 557.8,415.0 555.0,416.3 543.2,425.0 541.0,425.8 529.0,433.0 527.0,433.5 523.0,436.0 509.0,442.0 489.0,447.2 477.0,448.9 461.0,449.6 449.0,449.2 433.0,447.0 415.0,443.2 401.0,439.0 389.0,434.3 371.0,425.8 355.0,417.0 339.0,407.0 323.0,395.7 313.0,387.2 297.0,371.3 285.0,356.4 277.0,343.4 272.8,335.0 265.8,317.0 261.2,297.0 259.4,281.0 259.0,269.0 259.4,263.0 261.8,251.0 263.2,249.0 264.3,245.0 269.5,237.0 273.0,232.9 275.0,232.0 279.0,228.8 283.0,226.9Z" fill="#2884f6"/>
<path d="M312.9,225.0 327.0,225.7 347.0,228.7 373.0,236.6 389.0,244.0 407.0,253.8 441.9,275.0 453.0,283.3 471.0,299.6 484.3,313.0 495.1,323.0 506.4,331.0 529.7,345.0 544.6,355.0 553.1,361.0 562.4,369.0 570.7,375.0 578.0,383.0 577.8,389.0 576.6,393.0 570.0,401.0 567.0,402.9 562.6,407.0 559.2,409.0 554.8,413.0 551.5,415.0 547.1,419.0 545.0,419.8 541.0,423.0 527.1,431.0 519.3,435.0 507.0,439.9 493.0,443.7 485.0,445.3 475.0,446.5 457.0,447.0 447.0,446.3 429.0,443.7 411.0,439.4 397.0,434.7 381.0,427.8 363.0,418.6 345.0,407.8 327.0,395.5 317.0,387.3 298.5,369.0 289.0,357.5 281.0,345.5 275.0,333.5 268.1,315.0 264.7,301.0 262.5,283.0 262.6,265.0 263.2,263.0 263.3,259.0 264.4,257.0 264.9,253.0 268.5,245.0 270.5,243.0 273.0,239.0 277.0,234.9 279.4,233.0 289.0,228.2 299.0,225.8Z" fill="#208ef4"/>
<path d="M298.5,229.0 303.0,228.2 311.0,227.8 327.0,228.1 341.0,229.7 349.0,231.2 365.0,235.8 377.0,240.2 389.0,246.0 413.0,259.1 441.0,276.3 449.0,282.0 473.0,303.3 493.1,323.0 499.0,327.4 527.2,345.0 550.3,361.0 566.1,375.0 570.8,381.0 571.9,383.0 570.6,391.0 568.8,393.0 565.2,399.0 562.6,401.0 557.2,407.0 555.0,408.1 551.0,412.4 549.0,413.3 545.1,417.0 537.0,422.6 535.0,423.1 531.0,426.0 528.4,427.0 523.0,430.6 521.0,431.1 511.0,435.9 503.0,438.6 491.0,441.6 475.0,444.0 465.0,444.6 447.0,443.9 427.0,440.8 413.0,437.5 401.0,433.6 387.0,427.9 371.0,420.1 357.0,412.4 343.0,403.6 327.0,392.4 313.0,380.3 299.0,365.9 290.2,355.0 283.0,343.9 278.4,335.0 271.1,317.0 267.0,299.0 265.1,281.0 265.3,269.0 267.4,257.0 270.6,249.0 276.1,241.0 279.0,238.0 283.0,235.1 289.0,231.9Z" fill="#1996f3"/>
<path d="M306.0,231.0 319.0,230.2 329.0,230.3 339.0,231.3 355.0,234.7 365.0,237.5 381.0,244.0 401.0,254.3 413.0,261.0 441.0,278.2 447.8,283.0 455.0,289.0 475.0,307.0 489.2,321.0 497.0,327.4 531.0,349.1 547.6,361.0 554.6,367.0 562.2,375.0 566.6,383.0 565.0,391.0 563.2,393.0 560.0,399.0 557.5,401.0 554.6,405.0 551.9,407.0 548.4,411.0 545.3,413.0 541.0,417.0 539.0,417.6 534.8,421.0 528.2,425.0 515.0,431.8 507.0,435.0 493.0,439.0 479.0,441.4 463.0,442.3 447.0,441.6 433.0,439.6 419.0,436.7 403.0,431.9 387.0,425.4 371.0,417.5 357.0,409.7 343.0,400.8 327.0,389.5 317.0,380.9 303.0,366.9 295.0,357.5 287.0,346.2 282.8,339.0 277.3,327.0 271.4,309.0 268.7,295.0 268.0,285.0 268.0,273.0 268.7,265.0 270.0,259.0 271.3,257.0 273.0,251.0 275.0,249.2 279.0,243.0 285.0,237.9 295.0,233.0 301.0,231.4Z" fill="#11a0f1"/>
<path d="M308.9,233.0 327.0,232.3 341.0,233.5 357.0,237.0 371.0,241.4 387.0,248.6 405.0,258.2 441.0,280.0 451.0,287.4 497.0,328.9 531.0,350.5 545.1,361.0 552.0,367.0 558.9,375.0 562.2,383.0 561.3,385.0 560.4,391.0 558.7,393.0 556.9,397.0 554.8,399.0 551.0,404.8 549.0,406.0 545.0,410.7 543.0,411.6 539.3,415.0 525.0,424.4 522.9,425.0 519.0,427.5 511.5,431.0 499.0,435.1 489.0,437.6 477.0,439.4 461.0,440.1 447.0,439.4 431.0,437.0 421.0,434.9 405.0,430.3 393.0,425.7 377.0,418.2 361.0,409.6 347.0,400.9 331.0,389.8 317.0,378.0 303.0,363.7 295.0,354.0 287.5,343.0 281.4,331.0 276.1,317.0 272.7,305.0 270.8,293.0 270.5,275.0 271.1,273.0 271.0,269.0 272.6,261.0 274.9,255.0 281.0,245.7 287.0,240.5 297.0,235.5 303.0,233.8Z" fill="#0ca7ef"/>
<path d="M314.0,235.0 329.0,234.3 343.0,235.7 355.0,238.2 371.0,243.2 385.0,249.3 405.0,259.9 441.0,281.7 450.8,289.0 467.0,303.1 492.9,327.0 501.3,333.0 529.7,351.0 542.7,361.0 549.5,367.0 556.0,375.0 558.6,383.0 557.6,385.0 557.0,389.7 553.5,397.0 551.4,399.0 548.9,403.0 546.4,405.0 543.0,409.0 539.9,411.0 535.6,415.0 533.0,416.2 529.6,419.0 523.1,423.0 515.6,427.0 503.0,431.7 489.0,435.4 475.0,437.5 461.0,438.1 445.0,437.1 433.0,435.3 417.0,431.8 403.0,427.5 389.0,421.7 373.0,413.8 359.0,406.0 344.8,397.0 331.0,387.3 317.0,375.1 305.0,362.7 295.4,351.0 289.0,341.3 283.0,329.3 278.3,317.0 274.6,303.0 272.9,291.0 272.8,279.0 273.3,277.0 273.2,273.0 274.6,265.0 277.0,257.0 279.0,255.0 281.0,250.8 283.9,247.0 291.0,241.6 299.0,237.7 311.0,235.2Z" fill="#04b0ed"/>
<path d="M315.9,237.0 327.0,236.2 341.0,237.0 355.0,239.9 371.0,244.7 387.0,252.0 405.0,261.5 441.0,283.4 449.0,289.3 471.0,308.1 491.3,327.0 499.3,333.0 527.6,351.0 540.5,361.0 547.0,367.0 553.4,375.0 555.5,383.0 554.5,385.0 554.0,389.0 552.5,391.0 550.3,397.0 548.2,399.0 545.7,403.0 543.1,405.0 539.5,409.0 527.0,418.3 524.9,419.0 521.0,421.8 514.8,425.0 499.0,431.0 487.0,433.8 479.0,435.1 461.0,436.1 449.0,435.5 431.0,433.0 415.0,429.3 405.0,426.1 389.0,419.5 373.0,411.6 359.0,403.7 345.0,394.8 331.0,384.8 317.0,372.4 305.0,359.8 297.0,349.7 289.0,337.4 284.2,327.0 279.0,313.0 276.4,301.0 275.0,289.0 275.8,273.0 278.6,261.0 282.9,253.0 287.0,248.4 291.0,244.8 299.0,240.5 307.0,238.4Z" fill="#02b7eb"/>
<path d="M317.4,239.0 327.0,238.0 343.0,239.1 359.0,242.6 371.0,246.4 381.0,250.6 405.0,263.0 443.0,286.3 471.0,309.5 491.0,327.9 499.0,333.9 525.5,351.0 538.3,361.0 545.0,367.4 550.9,375.0 552.7,383.0 551.7,385.0 551.2,389.0 549.7,391.0 547.4,397.0 545.2,399.0 542.5,403.0 531.0,413.0 518.5,421.0 511.0,424.7 497.0,429.4 483.0,432.7 471.0,433.9 459.0,434.2 445.0,433.2 429.0,430.6 413.0,426.7 403.0,423.4 389.0,417.5 373.0,409.5 359.0,401.5 345.0,392.5 331.0,382.4 323.0,375.5 309.0,361.4 301.0,352.0 293.3,341.0 287.0,329.1 282.5,317.0 279.0,305.0 279.1,303.0 277.3,293.0 277.2,279.0 279.5,267.0 283.6,257.0 288.2,251.0 295.0,245.4 305.0,241.3 315.0,239.0Z" fill="#0ac0e8"/>
<path d="M316.2,241.0 329.0,239.8 345.0,241.1 363.0,245.1 369.0,247.3 383.0,253.1 403.0,263.5 441.0,286.5 449.0,292.4 471.0,311.0 493.3,331.0 531.0,356.5 544.4,369.0 548.5,375.0 550.0,381.0 549.2,383.0 548.4,389.0 546.9,391.0 545.4,395.0 543.4,397.0 540.9,401.0 538.4,403.0 535.0,407.0 521.9,417.0 519.0,418.2 515.0,420.9 503.0,425.6 489.0,429.6 475.0,431.8 457.0,432.3 443.0,431.1 431.0,429.2 415.0,425.5 405.0,422.2 391.0,416.4 375.0,408.6 363.0,401.9 349.0,393.0 335.0,383.3 327.0,376.7 313.0,363.0 301.0,349.0 295.0,340.1 289.0,328.7 284.5,317.0 280.7,303.0 280.7,301.0 279.7,297.0 279.1,283.0 281.2,269.0 284.6,261.0 291.0,252.9 299.0,246.5 307.0,243.0Z" fill="#10c6e6"/>
<path d="M317.1,243.0 331.0,241.4 343.0,242.4 357.0,245.0 369.0,248.6 385.0,255.6 405.0,266.0 441.0,288.0 447.7,293.0 471.0,312.4 491.7,331.0 529.8,357.0 542.3,369.0 546.1,375.0 547.4,381.0 546.5,383.0 545.8,389.0 544.2,391.0 542.6,395.0 540.5,397.0 538.0,401.0 535.5,403.0 532.1,407.0 527.0,411.0 514.3,419.0 507.0,422.3 499.0,425.1 485.0,428.7 473.0,430.2 461.0,430.6 451.0,430.2 433.0,427.8 419.0,424.7 407.0,421.1 393.0,415.4 379.0,408.7 363.0,399.9 349.0,391.0 335.0,381.1 327.0,374.4 317.3,365.0 305.0,351.4 299.0,343.0 293.0,332.9 287.0,319.2 283.3,307.0 281.4,295.0 280.9,287.0 282.7,273.0 285.1,265.0 292.1,255.0 299.7,249.0 303.0,246.9 309.0,244.6 315.0,243.0Z" fill="#18cde4"/>
<path d="M315.9,245.0 327.0,243.5 337.0,243.4 351.0,245.2 359.0,246.9 369.0,250.1 383.0,256.2 403.0,266.4 439.0,288.0 447.0,293.9 463.0,307.1 491.0,331.5 528.0,357.0 540.2,369.0 543.8,375.0 544.9,381.0 544.0,383.0 543.1,389.0 541.5,391.0 539.9,395.0 537.8,397.0 535.3,401.0 524.1,411.0 518.0,415.0 511.0,418.7 499.0,423.1 483.0,427.2 471.0,428.6 457.0,429.0 445.0,427.9 431.0,425.7 417.0,422.5 407.0,419.3 391.0,412.7 377.0,405.8 363.0,397.9 349.0,389.0 335.0,379.0 327.0,372.1 310.3,355.0 303.0,345.8 296.0,335.0 292.9,329.0 288.3,317.0 284.8,305.0 283.2,293.0 283.5,291.0 283.0,285.0 283.7,279.0 285.0,275.0 285.5,271.0 290.2,261.0 293.0,257.0 299.0,252.1 307.0,247.6Z" fill="#20d5e1"/>
<path d="M328.8,245.0 339.0,245.1 353.0,247.0 365.0,250.1 375.0,253.9 403.0,267.7 439.0,289.5 447.0,295.3 467.0,311.7 494.1,335.0 526.1,357.0 536.4,367.0 538.2,369.0 541.6,375.0 542.5,381.0 541.5,383.0 541.0,387.2 537.3,395.0 535.2,397.0 533.0,400.5 531.0,401.8 528.4,405.0 523.0,409.4 520.0,411.0 515.0,414.8 503.0,420.0 487.0,424.9 479.0,426.1 467.0,427.2 455.0,427.2 441.0,425.7 425.0,422.8 413.0,419.6 401.0,415.3 385.0,408.1 369.0,399.6 353.0,389.7 339.0,380.0 331.0,373.6 319.0,362.0 311.0,353.3 303.0,343.0 297.0,333.4 291.3,321.0 287.5,309.0 285.3,297.0 284.8,289.0 285.3,287.0 285.1,283.0 286.6,275.0 290.5,265.0 298.5,255.0 301.0,253.0 309.0,248.8 315.0,246.9Z" fill="#27dade"/>
<path d="M325.7,247.0 337.0,246.5 347.0,247.5 355.0,248.9 367.0,252.3 381.0,258.0 402.9,269.0 439.0,290.8 467.0,312.8 492.5,335.0 524.3,357.0 531.0,362.9 536.3,369.0 539.5,375.0 540.3,381.0 539.2,383.0 538.7,387.0 537.2,389.0 535.0,394.8 525.8,405.0 520.6,409.0 514.4,413.0 500.9,419.0 491.0,422.0 479.0,424.6 465.0,425.7 451.0,425.4 433.0,422.9 423.0,420.8 411.0,417.4 403.0,414.5 389.0,408.3 373.0,400.1 357.0,390.5 343.0,381.0 335.0,374.9 323.0,363.8 311.0,350.8 303.6,341.0 297.5,331.0 294.7,325.0 290.5,313.0 287.6,301.0 286.7,293.0 287.4,281.0 290.6,269.0 295.0,262.6 299.0,258.1 307.0,252.1 311.0,251.0 313.0,249.5 317.0,248.3Z" fill="#2fe0db"/>
<path d="M323.3,249.0 329.0,248.2 337.0,248.0 343.0,248.6 357.0,250.7 367.0,253.6 381.0,259.4 401.0,269.3 437.2,291.0 445.6,297.0 469.0,315.7 491.1,335.0 515.0,351.5 522.5,357.0 529.4,363.0 534.4,369.0 537.5,375.0 538.1,381.0 537.0,383.0 536.5,387.0 534.9,389.0 533.5,393.0 531.5,395.0 529.1,399.0 526.6,401.0 523.2,405.0 521.0,406.1 517.8,409.0 511.0,413.0 509.0,413.4 497.0,418.8 485.0,421.9 475.0,423.5 457.0,424.2 443.0,422.9 431.0,421.0 415.0,417.0 405.0,413.6 393.0,408.5 377.0,400.6 365.0,393.7 349.0,383.3 339.0,376.2 327.0,365.7 315.0,353.1 307.0,343.3 301.0,334.1 295.5,323.0 291.5,311.0 289.0,299.0 289.3,297.0 288.5,291.0 289.5,281.0 290.6,275.0 295.3,265.0 298.6,261.0 303.1,257.0 311.0,252.6 317.0,250.3 319.0,250.1 321.0,249.1Z" fill="#34e4d9"/>
<path d="M321.4,251.0 333.0,249.6 347.0,250.3 361.0,252.9 369.0,255.7 379.0,259.8 401.0,270.6 435.2,291.0 445.0,297.9 467.0,315.4 489.7,335.0 515.0,352.6 527.6,363.0 532.6,369.0 535.6,375.0 536.0,381.0 534.9,383.0 534.3,387.0 532.7,389.0 531.3,393.0 529.2,395.0 526.8,399.0 517.0,407.3 510.8,411.0 502.5,415.0 493.0,418.2 481.0,421.1 469.0,422.4 455.0,422.6 441.0,421.1 429.0,419.1 415.0,415.6 407.0,412.8 393.0,406.9 379.0,400.0 365.0,392.0 353.0,384.3 339.0,374.3 331.0,367.5 323.0,359.6 311.8,347.0 305.0,337.5 299.0,327.1 295.8,319.0 292.2,307.0 290.4,295.0 290.4,289.0 290.9,287.0 290.9,281.0 294.4,271.0 299.7,263.0 306.6,257.0 315.0,252.9Z" fill="#3dead5"/>
<path d="M321.5,253.0 327.0,251.5 341.0,251.1 355.0,252.8 363.0,254.9 379.0,261.0 399.0,270.8 435.0,292.2 445.0,299.2 467.0,316.6 489.0,335.5 513.9,353.0 525.9,363.0 530.8,369.0 533.7,375.0 533.9,381.0 532.8,383.0 532.2,387.0 530.6,389.0 529.1,393.0 527.0,395.0 525.0,398.2 523.0,399.4 520.0,403.0 514.5,407.0 507.5,411.0 501.0,413.8 493.0,416.8 477.0,420.1 465.0,421.2 453.0,421.0 439.0,419.3 427.0,417.1 415.0,414.1 405.0,410.5 391.0,404.4 379.0,398.4 365.0,390.4 353.0,382.6 339.0,372.5 331.0,365.5 323.0,357.5 313.0,346.1 305.1,335.0 299.7,325.0 297.2,319.0 293.8,307.0 292.1,295.0 292.3,285.0 293.0,283.0 293.4,279.0 297.8,269.0 302.3,263.0 309.0,257.8 313.0,255.7Z" fill="#42edd3"/>
<path d="M328.0,253.0 337.0,252.6 349.0,253.2 363.0,256.3 375.0,260.6 403.0,274.2 439.0,296.2 467.0,317.9 492.2,339.0 512.3,353.0 524.2,363.0 529.1,369.0 531.9,375.0 532.0,381.0 530.8,383.0 530.1,387.0 528.5,389.0 526.9,393.0 517.5,403.0 515.0,404.2 511.6,407.0 498.9,413.0 489.0,416.2 477.0,418.7 465.0,419.7 455.0,419.7 443.0,418.5 431.0,416.6 417.0,413.2 405.0,409.1 389.0,401.9 377.0,395.7 365.0,388.7 351.0,379.5 339.0,370.7 331.0,363.6 319.0,351.1 313.0,343.8 309.0,338.3 302.3,327.0 298.3,317.0 295.0,305.0 293.7,293.0 294.1,285.0 296.1,277.0 298.5,271.0 307.0,261.0 315.0,256.6 321.0,254.6Z" fill="#4af2cf"/>
<path d="M327.6,255.0 331.0,254.2 335.0,254.1 351.0,254.8 359.0,256.4 371.0,260.3 391.0,269.2 403.0,275.5 431.0,292.1 439.0,297.4 464.4,317.0 490.8,339.0 510.6,353.0 522.5,363.0 527.4,369.0 530.1,375.0 530.0,381.0 528.9,383.0 528.1,387.0 526.5,389.0 525.0,392.5 523.0,394.3 521.3,397.0 516.9,401.0 511.0,405.2 504.1,409.0 497.0,412.1 489.0,414.8 477.0,417.1 469.0,418.1 455.0,418.3 441.0,416.8 429.0,414.7 417.0,411.8 407.0,408.4 395.0,403.3 379.0,395.3 365.0,387.1 351.0,377.9 339.0,369.0 331.0,361.7 323.0,353.4 313.0,341.5 303.9,327.0 301.1,321.0 297.3,309.0 295.5,297.0 295.3,289.0 298.0,277.0 301.1,271.0 305.0,265.9 313.0,259.4 319.0,256.8Z" fill="#50f4cc"/>
<path d="M325.3,257.0 331.0,255.6 345.0,255.5 359.0,257.6 371.0,261.5 399.0,274.5 435.0,295.9 463.0,316.9 489.4,339.0 509.1,353.0 520.8,363.0 525.7,369.0 528.3,375.0 528.1,381.0 526.9,383.0 526.1,387.0 524.5,389.0 523.6,391.0 521.6,393.0 519.0,397.0 514.3,401.0 508.3,405.0 500.8,409.0 495.6,411.0 485.0,414.2 473.0,416.3 459.0,417.1 453.0,416.8 437.0,414.9 425.0,412.5 407.0,407.0 393.0,400.9 379.0,393.8 367.0,386.8 355.0,379.0 343.0,370.5 335.0,363.7 327.0,355.7 317.0,344.4 312.9,339.0 305.0,325.9 300.7,315.0 298.6,307.0 297.5,301.0 296.8,293.0 298.0,283.0 300.7,275.0 303.6,271.0 304.4,269.0 311.0,263.0 315.2,261.0 317.0,259.3 323.0,257.2Z" fill="#58f8c9"/>
<path d="M332.4,257.0 347.0,256.9 353.0,257.7 361.0,259.4 373.0,263.5 401.5,277.0 429.0,293.3 439.0,299.8 467.0,321.1 489.0,339.7 507.5,353.0 519.1,363.0 524.0,369.0 526.1,375.0 526.3,379.0 524.7,385.0 523.0,387.3 521.6,391.0 519.4,393.0 516.7,397.0 511.7,401.0 505.4,405.0 491.7,411.0 485.0,412.9 471.0,415.1 459.0,415.6 449.0,415.1 427.0,411.7 417.0,409.0 405.0,404.8 393.0,399.5 377.0,391.2 363.0,382.8 351.0,374.7 343.0,368.8 335.0,361.9 328.2,355.0 317.0,342.2 311.0,333.6 305.1,323.0 301.0,311.6 300.8,309.0 299.5,305.0 298.6,297.0 299.0,295.0 298.6,291.0 299.6,283.0 305.0,271.8 309.2,267.0 315.0,262.6 319.1,261.0 321.0,259.5Z" fill="#60fac5"/>
<path d="M331.6,259.0 339.0,258.1 349.0,258.5 355.0,259.2 363.0,261.3 375.0,265.5 401.0,277.9 429.0,294.5 439.0,301.0 465.4,321.0 492.0,343.0 505.9,353.0 517.4,363.0 522.3,369.0 523.9,373.0 524.5,379.0 523.4,381.0 522.7,385.0 521.1,387.0 519.5,391.0 517.3,393.0 515.0,396.1 513.0,397.1 509.0,401.0 507.0,401.6 497.7,407.0 491.0,409.6 476.7,413.0 467.0,414.1 455.0,414.2 447.0,413.5 437.0,412.2 425.0,409.9 415.0,407.1 403.0,402.5 391.0,397.1 377.0,389.8 363.0,381.3 351.0,373.1 343.0,367.2 335.0,360.1 325.0,349.6 317.0,340.1 311.0,331.2 306.8,323.0 302.5,311.0 300.8,303.0 301.0,301.0 300.3,297.0 300.6,287.0 302.9,279.0 304.6,275.0 311.0,267.2 313.0,265.9 323.0,260.5Z" fill="#66fcc2"/>
<path d="M326.9,261.0 339.0,259.4 349.0,259.7 357.0,260.9 369.0,264.4 381.0,269.4 399.0,278.0 437.0,300.8 465.0,321.8 490.6,343.0 504.4,353.0 515.8,363.0 520.6,369.0 522.2,373.0 522.5,377.0 522.6,379.0 521.5,381.0 520.8,385.0 519.1,387.0 517.4,391.0 513.5,395.0 508.6,399.0 502.4,403.0 495.0,406.7 493.0,407.0 488.4,409.0 481.0,410.9 467.0,412.8 453.0,412.8 437.0,411.0 429.0,409.5 419.0,407.0 409.0,403.7 397.0,398.5 383.0,391.6 371.0,384.8 359.0,377.2 347.0,368.7 339.0,362.2 329.0,352.1 321.0,343.0 315.0,334.9 309.0,324.8 303.8,311.0 302.8,307.0 301.8,295.0 302.8,285.0 304.0,281.0 307.1,275.0 314.2,267.0 317.0,265.1Z" fill="#6efebe"/>
<path d="M338.6,261.0 341.0,260.6 351.0,261.1 357.0,262.2 369.0,265.6 379.0,269.7 403.0,281.4 429.0,296.8 441.3,305.0 465.0,323.0 489.2,343.0 502.9,353.0 514.2,363.0 518.9,369.0 520.5,373.0 520.7,377.0 520.8,379.0 519.6,381.0 518.8,385.0 517.1,387.0 515.2,391.0 513.0,392.6 511.1,395.0 506.0,399.0 499.5,403.0 487.0,407.9 471.9,411.0 463.0,411.7 455.0,411.7 443.0,410.5 429.0,408.2 419.0,405.7 409.0,402.3 399.0,398.1 385.0,391.3 373.0,384.6 359.0,375.7 347.0,367.2 339.0,360.5 329.0,350.2 321.0,341.0 315.0,332.6 309.6,323.0 307.0,317.0 306.7,315.0 305.1,311.0 303.4,299.0 303.4,291.0 305.7,281.0 308.7,275.0 310.5,273.0 315.0,268.7 321.0,264.9 329.0,262.2Z" fill="#74feba"/>
<path d="M332.4,263.0 341.0,262.0 353.0,262.7 361.0,264.4 371.0,267.5 389.0,275.3 399.0,280.3 433.0,300.4 465.0,324.1 487.9,343.0 501.4,353.0 512.6,363.0 515.6,367.0 518.7,373.0 518.9,379.0 517.7,381.0 516.8,385.0 515.0,387.0 514.1,389.0 511.8,391.0 508.7,395.0 503.4,399.0 501.0,399.9 497.0,402.7 495.0,403.1 491.4,405.0 477.0,408.9 463.0,410.4 455.0,410.4 445.0,409.5 431.0,407.4 413.0,402.5 401.0,397.7 389.0,392.0 375.0,384.4 363.0,376.9 343.0,362.4 333.0,352.7 325.0,343.8 319.0,336.1 313.0,326.6 308.6,317.0 306.7,311.0 305.1,303.0 305.3,301.0 304.7,295.0 306.3,285.0 309.0,279.0 313.2,273.0 319.0,267.9 325.0,265.1Z" fill="#7dffb6"/>
<path d="M331.8,265.0 335.0,264.0 343.0,263.1 353.0,263.9 361.0,265.6 373.0,269.5 397.0,280.3 433.0,301.6 469.0,328.3 487.0,343.3 499.9,353.0 511.0,363.0 514.0,367.0 516.9,373.0 517.0,379.0 515.7,381.0 514.8,385.0 511.9,389.0 509.6,391.0 507.0,394.3 496.6,401.0 489.0,404.4 483.0,406.2 467.0,409.0 453.0,409.0 431.0,406.1 421.0,403.8 411.0,400.5 399.0,395.5 385.0,388.6 363.0,375.5 343.0,360.8 329.0,346.5 318.4,333.0 311.0,319.6 308.6,313.0 307.0,307.0 306.3,299.0 306.6,291.0 308.8,283.0 310.6,279.0 315.0,273.1 323.0,267.6Z" fill="#82ffb3"/>
<path d="M338.2,265.0 345.0,264.5 355.0,265.4 363.0,267.3 375.0,271.4 399.0,282.5 427.1,299.0 441.0,308.2 468.7,329.0 490.3,347.0 498.4,353.0 509.4,363.0 512.3,367.0 515.2,373.0 515.0,379.0 513.8,381.0 513.0,384.0 509.7,389.0 505.7,393.0 500.5,397.0 493.6,401.0 481.9,405.0 473.0,406.9 463.0,407.9 455.0,407.9 443.0,406.8 429.0,404.5 421.0,402.6 403.0,396.0 379.0,384.0 367.0,376.7 355.0,368.6 347.0,362.6 340.6,357.0 333.0,349.2 323.0,337.3 317.0,328.3 312.3,319.0 310.1,313.0 308.0,303.0 307.9,295.0 308.7,289.0 309.9,285.0 314.6,277.0 318.0,273.0 325.0,268.4 335.0,265.3Z" fill="#8bfeae"/>
<path d="M334.8,267.0 345.0,265.7 357.0,267.0 365.0,269.1 375.0,272.7 399.0,283.6 427.0,300.0 440.5,309.0 465.0,327.1 489.0,347.0 497.0,353.0 507.9,363.0 510.7,367.0 513.4,373.0 513.1,379.0 511.8,381.0 511.3,383.0 509.6,385.0 507.6,389.0 503.4,393.0 497.9,397.0 491.0,400.7 477.0,404.9 463.0,406.7 455.0,406.6 439.0,405.1 419.0,400.8 403.0,394.7 381.0,383.8 359.0,370.0 343.0,357.7 329.1,343.0 323.0,335.3 317.0,325.9 312.9,317.0 310.4,309.0 309.3,303.0 309.2,295.0 311.5,285.0 314.7,279.0 319.0,274.4 325.0,270.2 329.0,268.5Z" fill="#90feab"/>
<path d="M346.1,267.0 359.0,268.7 367.0,270.9 385.0,278.0 397.0,283.6 431.0,303.6 463.4,327.0 500.2,357.0 506.3,363.0 509.1,367.0 511.7,373.0 511.2,379.0 509.8,381.0 509.3,383.0 507.5,385.0 505.4,389.0 501.0,393.0 495.2,397.0 485.0,401.2 477.0,403.4 469.0,404.9 459.0,405.5 445.0,404.6 437.0,403.6 424.3,401.0 417.0,398.9 397.0,390.7 383.0,383.6 373.0,377.8 351.0,362.8 344.0,357.0 337.0,350.0 322.9,333.0 318.1,325.0 313.0,313.7 310.8,301.0 311.2,299.0 311.1,293.0 313.5,285.0 317.2,279.0 323.0,273.2 329.0,270.2 331.0,269.9 333.0,268.8 337.0,267.7Z" fill="#99fca6"/>
<path d="M340.3,269.0 347.0,268.3 353.0,268.8 361.0,270.4 371.0,273.3 385.0,279.0 397.0,284.7 425.0,301.0 435.0,307.4 461.0,326.3 474.7,337.0 498.7,357.0 504.8,363.0 507.5,367.0 509.9,373.0 509.3,379.0 507.9,381.0 507.3,383.0 504.5,387.0 499.0,392.6 487.0,399.2 473.0,403.0 459.0,404.3 449.0,403.7 429.0,400.9 421.0,399.0 411.0,395.6 401.0,391.3 387.0,384.5 375.0,377.7 363.0,370.0 345.7,357.0 337.0,348.3 327.0,336.5 321.0,327.7 318.6,323.0 314.3,313.0 312.9,307.0 312.3,297.0 313.6,289.0 314.9,285.0 318.0,281.0 318.9,279.0 327.0,272.8 333.0,270.4Z" fill="#a0faa1"/>
<path d="M336.5,271.0 343.0,269.7 353.0,270.1 361.0,271.5 373.0,275.2 387.0,281.0 397.0,285.8 432.7,307.0 447.0,317.0 473.3,337.0 497.2,357.0 503.2,363.0 505.9,367.0 508.2,373.0 507.6,377.0 506.3,379.0 505.3,383.0 502.3,387.0 498.1,391.0 492.4,395.0 487.0,397.5 479.0,400.3 469.0,402.2 457.0,403.0 449.0,402.6 433.0,400.6 425.0,398.9 415.0,395.9 405.0,391.9 391.0,385.3 369.0,372.6 351.0,359.9 345.3,355.0 337.0,346.6 327.0,334.5 322.1,327.0 318.0,319.0 315.0,310.6 314.0,305.0 313.8,297.0 314.3,293.0 317.2,285.0 321.6,279.0 325.0,275.7 335.0,271.0Z" fill="#a6f89d"/>
<path d="M344.0,271.0 355.0,271.6 363.0,273.2 375.0,277.2 387.0,282.1 399.0,288.0 419.0,299.6 439.0,312.4 461.0,328.5 479.4,343.0 495.7,357.0 501.7,363.0 504.3,367.0 506.4,373.0 505.7,377.0 504.4,379.0 503.3,383.0 500.2,387.0 495.7,391.0 489.5,395.0 477.0,399.4 469.0,401.1 459.0,401.8 439.0,400.3 427.0,398.1 419.0,396.0 403.0,389.8 381.0,378.7 359.0,364.4 347.0,355.2 341.0,349.2 327.4,333.0 319.3,319.0 316.1,309.0 315.0,301.0 315.9,293.0 316.8,289.0 318.7,285.0 323.0,279.6 327.1,277.0 329.0,275.0 337.0,272.1Z" fill="#aef498"/>
<path d="M339.9,273.0 347.0,272.2 357.0,273.1 365.0,274.9 377.0,279.1 389.0,284.0 397.0,288.0 425.0,304.2 435.0,310.7 468.2,335.0 483.0,347.0 494.2,357.0 500.1,363.0 502.7,367.0 504.7,373.0 503.8,377.0 502.5,379.0 501.3,383.0 498.0,387.0 493.3,391.0 481.0,397.0 469.0,399.7 459.0,400.6 441.0,399.5 423.0,396.0 409.0,391.2 387.0,380.7 377.0,375.0 365.0,367.3 347.0,353.6 337.0,343.2 324.9,327.0 321.0,319.0 317.6,309.0 316.7,305.0 316.7,297.0 319.0,289.0 321.0,285.0 326.3,279.0 329.0,277.2 331.0,276.5 333.0,274.9 335.0,274.6 337.0,273.4Z" fill="#b4f295"/>
<path d="M339.1,275.0 341.0,274.2 347.0,273.4 359.0,274.7 367.0,276.7 379.0,280.9 395.0,288.0 431.0,309.1 447.0,320.2 466.8,335.0 481.7,347.0 498.6,363.0 501.1,367.0 502.9,373.0 502.0,377.0 500.6,379.0 500.0,381.0 498.2,383.0 495.7,387.0 491.0,390.7 489.0,391.3 485.0,393.7 477.0,396.5 465.0,399.0 455.0,399.3 441.0,398.3 423.0,394.9 409.0,390.0 389.0,380.6 369.0,368.7 351.0,355.6 341.0,345.9 329.0,330.9 323.2,321.0 320.7,315.0 318.8,309.0 318.1,301.0 318.9,293.0 320.4,289.0 322.6,285.0 327.0,280.6 333.0,276.8 337.0,275.1Z" fill="#bced8f"/>
<path d="M346.4,275.0 353.0,275.1 367.0,277.9 389.0,286.2 395.0,289.1 419.2,303.0 437.0,314.3 463.0,333.0 473.0,340.9 486.9,353.0 497.0,363.0 499.4,367.0 501.1,373.0 500.1,377.0 498.7,379.0 498.0,381.0 494.9,385.0 490.3,389.0 483.5,393.0 475.0,395.8 469.0,397.2 459.0,398.1 439.0,396.9 429.0,395.2 421.0,393.1 404.9,387.0 384.7,377.0 365.0,364.6 349.7,353.0 341.0,344.3 335.0,337.0 326.8,325.0 322.2,315.0 320.4,309.0 319.5,301.0 319.9,297.0 322.5,289.0 325.1,285.0 328.6,281.0 333.0,278.8 335.0,277.2 343.0,275.1Z" fill="#c2ea8c"/>
<path d="M342.2,277.0 345.0,276.4 349.0,276.3 361.0,277.5 369.0,279.7 381.0,283.9 397.0,291.3 423.0,306.3 433.0,312.7 461.5,333.0 471.7,341.0 483.0,350.5 495.5,363.0 497.8,367.0 499.3,373.0 498.4,375.0 498.2,377.0 496.0,381.0 492.6,385.0 487.7,389.0 475.0,394.5 469.0,395.8 459.0,397.0 441.0,395.9 425.0,393.1 417.0,390.7 409.0,387.6 389.0,378.1 369.0,366.1 351.0,352.7 341.0,342.6 329.3,327.0 325.0,318.4 322.4,311.0 321.0,305.0 321.3,297.0 324.2,289.0 326.7,285.0 331.7,281.0 339.0,277.6Z" fill="#cbe486"/>
<path d="M339.7,279.0 345.0,277.7 357.0,278.2 363.0,279.1 381.0,285.1 395.0,291.3 431.0,312.4 449.0,324.9 470.2,341.0 482.2,351.0 493.9,363.0 496.1,367.0 497.1,371.0 496.2,377.0 493.9,381.0 490.3,385.0 485.0,388.9 483.0,389.3 479.0,391.5 471.0,394.0 465.0,395.2 459.0,395.6 441.0,394.8 427.0,392.4 413.0,388.0 393.0,379.0 373.0,367.4 355.0,354.6 345.0,345.3 333.0,330.1 327.5,321.0 325.0,315.2 323.2,309.0 322.5,301.0 325.0,291.1 329.5,285.0 333.0,281.9Z" fill="#d0e082"/>
<path d="M350.1,279.0 357.0,279.3 365.0,280.9 383.0,286.9 392.2,291.0 425.0,309.7 450.4,327.0 476.2,347.0 480.8,351.0 492.2,363.0 494.5,367.0 495.3,371.0 494.2,377.0 491.7,381.0 487.8,385.0 484.5,387.0 477.0,390.9 475.0,391.1 471.0,392.7 465.0,393.8 455.0,394.4 437.0,393.2 427.0,391.3 419.0,389.1 405.0,383.5 385.0,373.5 365.0,360.7 352.4,351.0 345.0,343.6 339.0,336.3 333.0,328.0 330.1,323.0 326.6,315.0 324.6,307.0 324.6,297.0 328.2,289.0 331.0,285.5 335.0,282.5 341.0,280.1Z" fill="#d9da7d"/>
<path d="M343.0,281.0 351.0,280.4 359.0,280.8 375.0,285.1 385.0,288.8 395.0,293.5 413.0,303.7 435.0,317.4 454.4,331.0 474.8,347.0 479.4,351.0 490.6,363.0 492.8,367.0 493.5,371.0 492.6,375.0 489.5,381.0 481.0,387.3 473.0,390.5 465.0,392.5 459.0,393.2 451.0,393.1 433.0,391.4 419.0,387.9 403.0,381.4 385.0,372.2 369.0,362.1 355.0,351.8 345.0,342.0 333.0,325.8 328.0,315.0 326.3,309.0 325.8,305.0 325.9,301.0 327.9,293.0 331.9,287.0 335.0,284.5Z" fill="#e0d377"/>
<path d="M342.7,283.0 353.0,281.7 359.0,282.2 377.0,286.9 387.0,290.8 395.0,294.7 429.0,314.5 449.0,328.2 465.9,341.0 478.0,351.0 483.8,357.0 488.9,363.0 491.0,367.0 491.6,371.0 490.5,375.0 488.2,379.0 484.4,383.0 478.5,387.0 473.0,389.2 466.2,391.0 455.0,391.9 439.0,391.1 425.0,388.5 411.0,383.7 391.0,374.3 373.0,363.5 358.3,353.0 349.0,344.6 339.5,333.0 330.9,319.0 327.9,309.0 327.4,301.0 328.2,297.0 330.7,291.0 333.0,288.3 339.0,284.3Z" fill="#e6cd73"/>
<path d="M341.2,285.0 349.0,283.3 355.0,283.0 367.0,285.2 377.0,288.1 387.0,291.9 395.0,295.8 418.3,309.0 431.0,316.9 461.0,338.3 476.5,351.0 482.2,357.0 487.3,363.0 489.2,367.0 489.7,371.0 488.4,375.0 485.9,379.0 481.8,383.0 477.0,385.9 471.0,388.3 465.0,389.7 455.0,390.6 447.0,390.5 435.0,389.4 421.0,386.2 407.0,380.8 390.8,373.0 375.0,363.6 359.0,352.1 349.0,343.0 343.0,335.7 337.0,327.2 332.6,319.0 330.0,311.0 329.0,305.5 329.5,299.0 331.0,295.0 333.4,291.0 337.0,287.3Z" fill="#eec66d"/>
<path d="M348.9,285.0 355.0,284.6 361.0,285.2 377.0,289.3 387.0,293.0 413.0,307.0 433.0,319.4 460.5,339.0 475.0,351.0 485.6,363.0 487.4,367.0 487.6,371.0 486.2,375.0 483.5,379.0 479.0,383.0 473.0,385.9 467.0,387.8 459.0,389.2 451.0,389.4 435.0,388.2 423.0,385.7 407.0,379.6 391.0,371.9 375.0,362.3 359.0,350.7 349.0,341.3 343.0,333.8 337.2,325.0 332.5,315.0 330.9,309.0 330.9,303.0 331.1,299.0 332.7,295.0 335.0,291.7 341.0,287.3 343.0,286.9 345.0,285.7Z" fill="#f4c069"/>
<path d="M346.4,287.0 351.0,286.2 363.0,286.8 379.0,291.1 391.0,296.0 424.5,315.0 448.1,331.0 459.0,339.0 473.4,351.0 482.3,361.0 485.5,367.0 485.6,371.0 484.0,375.0 481.0,379.0 478.2,381.0 471.6,385.0 465.1,387.0 451.0,388.0 439.0,387.5 427.0,385.6 413.0,380.9 395.0,372.7 379.0,363.6 365.0,353.9 354.1,345.0 349.0,339.5 343.0,331.7 335.6,319.0 333.4,313.0 332.7,307.0 332.4,303.0 333.5,299.0 335.4,295.0 338.6,291.0Z" fill="#fcb763"/>
<path d="M346.5,289.0 351.0,287.9 357.0,287.6 365.0,288.6 381.0,292.9 391.0,297.1 423.0,315.2 449.0,332.8 457.4,339.0 471.8,351.0 477.5,357.0 480.6,361.0 483.6,367.0 483.4,371.0 481.7,375.0 479.0,378.2 477.0,379.3 475.4,381.0 471.0,383.3 465.0,385.3 459.0,386.3 449.0,386.8 435.0,385.8 421.0,382.7 409.0,378.1 394.1,371.0 379.0,362.3 363.1,351.0 353.0,342.2 349.0,337.7 344.2,331.0 337.4,319.0 334.4,309.0 334.5,303.0 335.3,299.0 337.0,295.8 339.5,293.0 343.0,290.4Z" fill="#ffb05f"/>
<path d="M346.8,291.0 353.0,289.2 359.0,289.1 373.0,291.7 381.0,294.1 392.3,299.0 419.0,313.9 447.0,332.6 455.8,339.0 470.1,351.0 475.9,357.0 478.9,361.0 480.8,365.0 481.3,371.0 477.2,377.0 472.3,381.0 467.6,383.0 459.0,384.9 449.0,385.5 441.0,385.3 429.0,383.7 417.0,380.1 401.0,373.2 385.0,364.7 369.0,354.0 357.0,344.5 353.0,340.5 347.0,333.0 339.0,319.4 336.7,313.0 336.3,303.0 337.8,299.0 341.0,294.1Z" fill="#ffa759"/>
<path d="M353.1,291.0 359.0,290.7 365.0,291.5 373.0,293.0 383.0,296.0 397.0,302.7 425.2,319.0 451.0,336.6 468.3,351.0 474.1,357.0 477.1,361.0 478.9,365.0 479.1,369.0 477.6,373.0 474.5,377.0 471.0,379.4 465.0,382.1 453.0,384.0 437.0,383.7 427.0,381.9 413.0,377.3 395.0,369.0 379.0,359.6 363.0,348.1 359.0,344.8 353.0,338.7 347.0,330.8 340.8,319.0 338.7,313.0 338.1,309.0 337.9,307.0 339.1,301.0 341.5,297.0 345.0,293.8 349.0,291.9Z" fill="#ffa055"/>
<path d="M353.0,293.0 355.0,292.4 359.0,292.4 367.0,293.1 375.0,294.8 383.0,297.2 391.0,300.8 406.2,309.0 426.4,321.0 449.9,337.0 459.9,345.0 472.3,357.0 475.2,361.0 476.9,365.0 476.9,369.0 475.2,373.0 471.0,377.4 467.0,379.4 461.0,381.3 453.0,382.6 445.0,382.9 433.0,381.9 423.0,379.7 409.0,374.4 393.0,366.6 379.0,358.2 366.1,349.0 357.0,341.2 353.0,336.8 347.4,329.0 342.4,319.0 339.9,311.0 339.8,307.0 341.0,301.0 343.0,298.3 346.6,295.0 351.0,293.0Z" fill="#ff964f"/>
<path d="M353.5,295.0 355.0,294.4 361.0,294.1 369.0,294.8 377.0,296.6 385.0,299.2 407.6,311.0 424.5,321.0 448.2,337.0 458.2,345.0 470.4,357.0 473.3,361.0 474.8,365.0 474.6,369.0 472.6,373.0 469.0,375.8 463.5,379.0 457.0,380.5 447.0,381.5 433.0,380.6 423.0,378.4 407.0,372.2 392.4,365.0 379.0,356.9 363.0,345.0 357.0,339.4 350.4,331.0 345.9,323.0 343.3,317.0 341.9,311.0 342.0,307.0 344.0,301.0 347.0,297.6 351.0,295.3Z" fill="#ff8c49"/>
<path d="M352.4,297.0 357.0,296.0 363.0,295.7 377.0,297.9 383.0,299.8 387.0,301.3 399.0,307.5 423.0,321.3 448.9,339.0 462.9,351.0 468.4,357.0 471.2,361.0 472.6,365.0 472.1,369.0 469.6,373.0 466.8,375.0 462.5,377.0 451.0,379.7 439.0,379.9 429.0,378.7 422.5,377.0 407.0,370.9 394.9,365.0 383.0,358.1 369.0,348.2 360.3,341.0 355.0,335.0 351.0,329.5 348.6,325.0 344.8,315.0 344.0,311.0 344.4,307.0 345.8,303.0 348.7,299.0Z" fill="#ff8444"/>
<path d="M355.2,299.0 359.0,297.6 369.0,297.9 377.0,299.3 383.0,301.2 387.0,302.7 399.0,308.8 417.2,319.0 444.5,337.0 454.6,345.0 461.0,351.0 469.0,361.0 470.2,365.0 469.3,369.0 462.5,375.0 457.0,376.9 445.0,378.6 435.0,378.2 425.0,376.4 411.0,371.3 397.4,365.0 386.7,359.0 375.0,351.2 363.0,341.8 357.0,335.5 351.2,327.0 348.4,321.0 346.6,315.0 346.6,307.0 347.1,305.0 349.0,302.5 353.0,299.4Z" fill="#ff793e"/>
<path d="M354.9,301.0 359.0,299.8 365.0,299.2 371.0,299.6 379.0,301.1 389.0,305.0 415.0,319.0 439.7,335.0 452.7,345.0 459.1,351.0 464.0,357.0 466.5,361.0 467.4,365.0 466.6,367.0 463.9,371.0 460.7,373.0 455.8,375.0 446.6,377.0 437.0,377.1 425.0,375.1 417.0,372.4 403.0,366.4 389.1,359.0 375.0,349.6 364.2,341.0 357.0,333.3 355.0,330.3 350.4,321.0 348.6,311.0 348.6,309.0 351.0,304.0Z" fill="#ff703a"/>
<path d="M365.5,301.0 373.0,301.3 379.0,302.6 389.0,306.4 416.1,321.0 439.0,335.9 450.8,345.0 457.0,351.0 461.7,357.0 463.9,361.0 463.2,367.0 459.9,371.0 455.0,373.3 449.2,375.0 439.0,375.7 433.0,375.2 422.8,373.0 407.4,367.0 395.0,360.9 383.0,353.6 373.7,347.0 363.0,338.1 357.1,331.0 352.3,321.0 350.7,313.0 352.4,307.0 355.0,304.4 359.0,302.3 361.0,301.4Z" fill="#ff6533"/>
<path d="M365.7,303.0 373.0,303.0 381.0,304.6 387.0,307.0 413.7,321.0 438.4,337.0 448.8,345.0 455.0,351.1 459.4,357.0 461.2,361.0 459.7,367.0 454.0,371.0 447.0,373.3 439.0,374.0 428.5,373.0 419.0,370.2 405.0,364.4 394.2,359.0 384.4,353.0 373.4,345.0 363.0,336.1 359.2,331.0 354.7,323.0 353.7,319.0 353.7,311.0 357.0,306.0 361.0,303.9Z" fill="#ff5c2f"/>
<path d="M366.4,305.0 369.0,304.6 375.0,304.9 383.0,306.8 387.0,308.6 411.0,320.9 431.0,333.6 439.0,339.0 447.0,345.3 454.2,353.0 456.9,357.0 457.4,359.0 457.9,363.0 456.8,365.0 453.2,369.0 447.0,371.4 437.0,372.4 429.0,371.6 419.0,368.7 405.0,362.9 393.4,357.0 385.0,351.8 375.6,345.0 366.2,337.0 361.0,331.1 357.8,325.0 355.7,317.0 355.6,315.0 357.1,311.0 358.0,309.0 363.0,305.6Z" fill="#ff5029"/>
<path d="M367.6,307.0 375.0,306.7 383.0,308.5 401.0,317.0 418.5,327.0 437.0,339.4 446.5,347.0 451.8,353.0 452.8,355.0 454.7,359.0 454.6,363.0 453.1,365.0 450.6,367.0 445.0,369.4 439.0,370.6 431.0,370.2 425.0,369.0 409.0,363.2 399.0,358.4 389.0,352.7 379.0,345.7 367.0,335.6 360.6,327.0 358.4,321.0 358.5,315.0 359.1,313.0 363.0,308.6Z" fill="#ff4724"/>
<path d="M369.1,309.0 377.0,308.8 384.8,311.0 393.0,314.8 412.5,325.0 436.7,341.0 444.1,347.0 449.3,353.0 451.6,359.0 451.2,361.0 448.9,365.0 445.0,367.1 439.0,368.6 433.0,368.6 427.0,367.7 415.0,363.9 405.0,359.7 395.0,354.5 385.0,348.2 373.0,338.8 367.0,333.2 364.1,329.0 362.2,325.0 360.9,319.0 361.4,315.0 365.0,310.4Z" fill="#ff3b1e"/>
<path d="M374.3,311.0 377.0,310.9 383.0,312.4 395.0,317.5 412.9,327.0 429.0,337.6 441.5,347.0 446.5,353.0 448.3,359.0 447.4,361.0 445.6,363.0 443.0,364.6 439.0,366.0 433.0,366.6 427.0,365.9 417.0,362.8 407.0,358.8 399.0,354.9 389.1,349.0 379.0,341.5 371.6,335.0 367.0,330.0 364.4,325.0 363.5,319.0 363.9,317.0 366.5,313.0 371.0,311.1Z" fill="#ff2f18"/>
<path d="M370.2,315.0 373.0,313.4 377.0,313.4 379.0,313.5 384.0,315.0 402.2,323.0 417.0,331.6 433.4,343.0 440.3,349.0 444.1,355.0 444.2,357.0 443.0,360.9 439.0,363.4 431.0,364.1 425.0,363.2 417.0,360.8 407.0,356.8 392.3,349.0 379.0,339.1 372.5,333.0 369.3,329.0 367.5,325.0 366.8,321.0 367.0,318.8Z" fill="#ff2613"/>
<path d="M375.3,317.0 379.0,316.4 387.0,318.6 401.9,325.0 412.6,331.0 427.1,341.0 436.9,349.0 439.2,353.0 439.9,357.0 438.4,359.0 435.0,360.9 431.0,361.5 426.7,361.0 412.9,357.0 403.5,353.0 395.0,348.4 385.0,341.3 379.0,336.0 371.4,327.0 370.5,325.0 370.8,321.0 373.0,317.4Z" fill="#ff190d"/>
<path d="M378.4,321.0 381.0,320.6 389.0,322.3 397.0,325.3 409.0,331.4 417.6,337.0 430.0,347.0 433.8,351.0 434.4,353.0 434.0,355.0 431.7,357.0 429.0,357.6 421.0,356.6 409.0,352.8 397.0,346.9 391.0,342.9 385.0,337.9 377.2,329.0 375.4,325.0 375.8,323.0Z" fill="#ff1008"/>
<path d="M386.7,327.0 389.0,326.7 397.0,328.7 409.4,335.0 417.6,341.0 423.5,347.0 424.5,349.0 423.9,351.0 421.0,351.9 413.9,351.0 407.0,348.7 397.0,343.4 391.0,338.9 385.8,333.0 384.9,329.0Z" fill="#ff0302"/>
</g>
<g clip-path="url(#cb)" stroke-linejoin="round">
<path d="M269.8,673.6 343.6,673.6 366.2,678.1 381.3,682.6 399.4,688.6 430.1,698.6 454.3,712.2 478.4,725.8 499.5,739.3 517.6,752.9 532.7,763.5 544.7,774.0 559.8,789.1 574.9,804.2 592.9,822.2 605.0,838.8 617.1,855.4 632.1,875.0 644.5,892.0 659.8,911.1 674.9,935.2 689.9,959.3 702.0,983.5 714.0,1004.6 724.5,1031.0 735.0,1053.5 742.0,1070.9 747.2,1092.0 751.5,1108.5 754.7,1111.5 754.9,1139.5 753.5,1143.7 746.5,1143.7 744.6,1139.2 732.1,1125.2 717.1,1105.6 699.0,1086.0 680.9,1070.9 662.8,1058.8 644.7,1051.3 626.6,1045.3 611.5,1040.7 590.4,1037.7 572.4,1037.7 548.2,1042.2 530.1,1048.3 515.1,1054.3 503.7,1060.9 485.6,1068.9 467.5,1078.3 449.4,1088.0 431.3,1097.1 413.3,1103.6 402.4,1107.2 391.5,1098.9 377.1,1088.0 359.0,1075.4 340.9,1060.9 322.8,1046.4 304.7,1030.1 286.6,1013.9 268.5,997.6 250.4,979.5 232.4,961.4 214.3,941.5 196.2,919.8 181.7,898.1 170.3,886.1 158.2,868.0 146.2,846.9 138.6,828.8 131.7,813.7 131.7,792.6 126.6,785.1 131.7,777.6 132.6,759.5 140.1,744.4 149.2,732.4 164.3,720.3 179.3,708.2 197.4,697.7 215.5,688.6 233.6,681.1 248.7,678.1Z" fill="#8000ff"/>
<path d="M367.1,665.0 644.7,665.0 664.8,707.0 676.1,727.0 689.9,749.0 722.9,795.0 734.0,813.0 744.0,834.7 744.3,837.0 748.1,847.0 752.0,860.8 752.0,863.0 754.5,871.0 755.1,875.0 758.2,885.0 758.4,887.0 765.4,909.0 766.0,912.4 766.0,1151.2 734.5,1151.0 732.0,1144.5 726.0,1135.0 714.0,1121.1 700.8,1109.0 676.0,1091.1 660.0,1080.4 626.0,1060.8 614.0,1054.8 594.0,1046.6 572.0,1038.8 540.0,1029.0 502.0,1015.4 458.0,997.9 402.0,974.3 374.0,960.7 364.8,955.0 348.0,942.0 333.2,927.0 322.4,913.0 314.5,901.0 304.4,881.0 299.2,867.0 294.6,851.0 291.7,837.0 292.4,831.0 292.3,821.0 293.9,807.0 293.8,803.0 296.3,789.0 296.5,785.0 297.6,781.0 297.9,777.0 301.7,761.0 306.4,747.0 308.4,743.0 308.7,741.0 317.8,721.0 328.5,705.0 334.8,697.0 356.8,675.0 357.9,673.0Z" fill="#7e03ff"/>
<path d="M396.3,665.0 614.8,665.0 619.8,675.0 628.1,689.0 644.1,719.0 653.6,735.0 676.0,768.4 703.6,805.0 712.0,816.9 718.3,827.0 727.6,845.0 728.0,847.0 732.0,855.6 735.9,867.0 736.0,869.0 744.1,895.0 744.3,897.0 753.2,923.0 753.5,925.0 760.1,945.0 766.0,965.2 766.0,1151.2 738.3,1151.0 736.0,1144.6 726.0,1128.7 716.0,1117.0 706.0,1107.3 688.0,1092.8 664.0,1075.3 648.0,1064.8 630.0,1053.9 614.0,1045.7 588.0,1034.5 568.0,1027.0 550.0,1021.1 508.0,1004.4 462.0,984.3 416.0,963.0 386.0,947.1 379.9,943.0 372.0,936.9 362.0,928.1 353.3,919.0 346.6,911.0 334.5,893.0 327.0,879.0 321.1,865.0 316.5,851.0 311.8,829.0 310.8,819.0 311.0,813.0 312.1,807.0 312.1,803.0 314.9,787.0 319.7,767.0 325.9,749.0 328.2,745.0 330.5,739.0 334.3,733.0 334.8,731.0 342.4,719.0 349.2,711.0 350.0,709.3 354.0,705.1 377.0,683.0 378.0,681.3 392.6,669.0 393.8,667.0Z" fill="#7c06ff"/>
<path d="M422.7,665.0 589.8,665.0 589.9,667.0 592.0,672.2 597.9,683.0 611.1,703.0 638.2,747.0 658.0,775.3 693.4,821.0 704.0,836.2 711.5,849.0 718.0,862.1 722.0,871.8 733.4,907.0 738.7,921.0 753.8,965.0 758.1,979.0 766.0,1009.2 766.0,1151.2 741.5,1151.0 738.0,1141.8 730.0,1128.5 722.0,1118.2 711.5,1107.0 698.0,1095.1 673.0,1075.0 662.0,1066.9 638.0,1050.9 624.0,1042.8 608.0,1034.8 580.0,1022.6 558.0,1014.5 520.0,998.3 462.0,971.2 424.0,952.0 398.0,937.0 389.5,931.0 374.0,917.0 366.7,909.0 358.9,899.0 349.9,885.0 339.9,865.0 335.5,853.0 331.2,837.0 327.8,815.0 327.4,799.0 329.6,791.0 329.9,787.0 331.4,783.0 331.9,779.0 337.7,761.0 339.9,757.0 341.9,751.0 345.6,745.0 348.4,739.0 351.2,735.0 351.9,733.0 353.4,731.0 362.2,721.0 363.1,719.0 373.2,709.0 374.0,707.5 388.0,695.0 389.2,693.0 404.0,680.6 405.0,679.0 412.0,673.0Z" fill="#7610ff"/>
<path d="M449.8,665.0 565.0,665.0 570.3,685.0 574.0,692.2 598.0,723.7 619.1,755.0 630.6,771.0 650.0,796.5 681.2,835.0 694.0,852.9 704.0,870.8 711.3,887.0 721.9,917.0 741.9,969.0 749.5,991.0 766.0,1046.4 766.0,1151.1 745.0,1151.0 742.0,1142.6 732.0,1125.0 726.0,1116.9 714.0,1103.1 703.1,1093.0 679.8,1073.0 664.0,1060.7 642.0,1045.0 626.0,1035.2 610.0,1026.9 594.0,1019.2 560.0,1004.9 526.0,989.2 472.0,962.1 434.0,941.4 413.9,929.0 406.0,923.6 400.0,918.7 384.3,903.0 377.8,895.0 370.8,885.0 363.9,873.0 357.3,859.0 352.3,845.0 348.5,829.0 346.5,815.0 345.9,799.0 347.6,781.0 349.7,773.0 351.8,769.0 353.7,763.0 356.2,759.0 358.8,753.0 364.2,745.0 364.9,743.0 374.3,731.0 384.4,721.0 385.4,719.0 402.0,703.6 418.0,690.1 420.0,687.9 434.4,677.0 436.0,674.8 442.0,671.0Z" fill="#7019ff"/>
<path d="M475.8,665.0 541.8,665.0 544.0,667.0 548.0,672.2 551.6,679.0 558.0,695.0 562.0,702.1 586.6,731.0 616.0,771.3 640.0,802.1 675.2,845.0 690.0,866.1 702.0,888.9 737.5,979.0 744.0,997.0 758.8,1043.0 762.8,1057.0 766.0,1070.1 766.0,1151.1 747.3,1151.0 742.0,1137.9 736.0,1127.1 730.0,1118.1 718.0,1103.5 694.5,1081.0 683.1,1071.0 668.0,1058.8 644.0,1041.0 628.0,1031.0 614.0,1023.4 592.0,1012.5 570.0,1003.1 536.0,986.9 480.0,957.7 442.0,936.3 422.0,923.4 408.2,913.0 398.0,903.0 391.0,895.0 380.9,881.0 373.1,867.0 365.3,849.0 361.3,835.0 358.1,817.0 357.5,811.0 357.5,795.0 358.7,785.0 359.8,781.0 360.0,777.0 361.5,773.0 362.1,769.0 364.0,765.0 365.8,759.0 375.1,745.0 382.0,736.5 394.0,724.9 396.0,722.1 422.0,698.6 428.0,694.4 432.0,690.7 444.0,682.7 450.0,679.4 454.0,676.5 458.0,674.8 460.0,672.8Z" fill="#6826fe"/>
<path d="M505.4,671.0 518.0,672.4 526.0,675.0 532.0,678.1 538.0,683.9 542.0,689.6 548.0,701.0 554.0,710.5 580.6,739.0 607.8,775.0 630.1,803.0 662.0,840.9 673.1,855.0 683.1,869.0 689.0,879.0 694.0,888.3 699.8,901.0 710.0,927.2 735.5,989.0 755.4,1047.0 758.4,1057.0 766.0,1086.3 766.0,1151.1 749.2,1151.0 746.0,1142.5 738.0,1127.0 730.0,1115.0 720.0,1102.6 704.5,1087.0 687.0,1071.0 672.6,1059.0 652.0,1042.9 637.8,1033.0 610.0,1017.2 592.0,1008.2 566.0,996.5 538.0,982.6 484.0,953.7 442.0,928.9 419.0,913.0 410.0,904.9 402.5,897.0 394.0,886.5 387.5,877.0 382.0,867.4 375.5,853.0 370.7,839.0 367.4,823.0 365.7,807.0 366.3,801.0 365.9,797.0 367.6,783.0 371.6,769.0 377.7,755.0 386.4,743.0 398.6,731.0 399.7,729.0 414.2,717.0 415.5,715.0 418.0,712.9 432.0,702.4 438.0,699.0 440.0,696.7 460.0,685.0 474.0,678.6 492.0,672.7Z" fill="#6032fe"/>
<path d="M485.8,685.0 494.0,684.0 496.0,683.2 506.0,683.3 512.0,684.1 520.0,686.3 524.0,688.2 530.0,692.9 536.6,701.0 544.0,712.3 547.6,717.0 571.9,741.0 578.0,747.8 618.5,799.0 668.0,858.2 680.1,875.0 688.0,888.7 696.0,905.5 706.3,931.0 730.1,987.0 737.8,1007.0 754.8,1057.0 766.0,1098.4 766.0,1151.1 750.8,1151.0 746.9,1141.0 739.7,1127.0 732.0,1115.1 720.0,1100.2 709.2,1089.0 688.0,1068.9 664.1,1049.0 648.2,1037.0 634.0,1027.5 612.0,1014.9 544.0,981.6 502.0,958.8 472.0,941.6 448.2,927.0 430.0,914.5 422.0,908.4 416.0,903.0 403.4,889.0 397.4,881.0 391.0,871.0 383.2,855.0 378.1,841.0 375.0,829.0 372.9,813.0 372.5,805.0 373.9,787.0 378.1,771.0 382.7,761.0 390.0,751.0 390.8,749.0 400.7,739.0 401.8,737.0 418.5,723.0 419.8,721.0 422.0,719.4 436.0,709.3 440.1,707.0 442.0,704.8 448.0,701.9 452.0,698.9 468.0,691.0Z" fill="#5a3bfd"/>
<path d="M497.9,693.0 506.0,693.4 514.0,695.2 520.0,698.0 524.0,700.9 530.0,707.0 542.0,722.0 570.0,748.2 619.7,809.0 660.0,856.2 670.0,869.1 679.3,883.0 688.0,898.7 692.7,909.0 702.6,933.0 728.7,993.0 749.9,1051.0 754.2,1065.0 766.0,1110.3 766.0,1151.0 752.4,1151.0 748.0,1140.1 740.1,1125.0 734.0,1115.5 722.0,1100.2 713.5,1091.0 688.5,1067.0 672.1,1053.0 652.1,1037.0 638.0,1027.3 614.0,1013.1 594.0,1002.7 572.0,992.5 542.0,977.0 488.0,946.8 454.0,925.9 435.4,913.0 427.4,907.0 420.6,901.0 406.6,885.0 395.9,869.0 391.6,861.0 385.7,847.0 380.1,827.0 379.0,819.0 378.1,803.0 380.3,785.0 381.8,781.0 382.4,777.0 387.5,765.0 394.2,755.0 408.0,740.1 428.0,722.9 434.0,719.1 440.0,714.4 444.0,712.5 446.0,710.5 464.0,701.1 476.0,696.6 482.0,694.9 490.0,693.8 492.0,693.0Z" fill="#5247fc"/>
<path d="M480.0,703.0 490.0,701.3 500.0,701.3 506.0,702.0 514.0,704.7 522.9,711.0 537.7,727.0 560.0,746.3 568.9,755.0 622.0,819.0 655.0,857.0 667.6,873.0 673.2,881.0 682.0,895.9 687.7,907.0 725.3,993.0 730.3,1005.0 747.1,1051.0 750.4,1061.0 760.2,1097.0 765.2,1119.0 766.0,1123.2 766.0,1151.0 754.0,1151.0 748.0,1137.3 740.3,1123.0 727.8,1105.0 720.0,1095.9 701.3,1077.0 686.0,1062.6 654.0,1036.1 642.0,1027.5 618.0,1012.9 596.0,1001.2 574.0,990.8 540.0,972.9 492.0,945.4 458.0,924.3 438.0,910.3 426.0,900.6 418.6,893.0 412.0,885.2 403.4,873.0 396.5,861.0 390.6,847.0 385.9,831.0 384.4,823.0 383.6,817.0 383.3,801.0 384.4,791.0 385.7,787.0 386.0,783.0 387.8,779.0 389.6,773.0 396.1,761.0 401.2,755.0 402.0,753.4 416.0,740.8 417.0,739.0 424.0,733.1 430.0,729.1 436.0,724.0 440.0,721.9 444.0,718.7 454.0,713.0 468.0,706.8Z" fill="#4c50fc"/>
<path d="M484.0,709.0 492.0,708.3 502.0,708.8 508.0,710.4 514.0,713.5 520.0,717.8 533.6,731.0 546.0,740.8 562.0,754.8 572.0,765.7 622.0,825.0 650.0,857.0 663.0,873.0 671.5,885.0 677.6,895.0 685.9,911.0 712.2,971.0 719.7,987.0 729.0,1009.0 744.6,1051.0 750.8,1071.0 759.4,1103.0 762.0,1114.5 764.0,1126.6 764.4,1135.0 763.8,1145.0 762.5,1151.0 756.2,1151.0 747.2,1133.0 740.5,1121.0 729.3,1105.0 721.0,1095.0 686.6,1061.0 655.4,1035.0 638.0,1022.7 622.0,1013.0 606.0,1004.1 578.0,990.4 544.0,972.4 494.0,943.4 461.6,923.0 446.0,912.2 428.0,897.7 416.6,885.0 406.6,871.0 401.1,861.0 396.4,851.0 390.1,831.0 388.7,823.0 387.5,807.0 388.3,801.0 388.1,797.0 389.5,789.0 391.6,781.0 394.7,773.0 404.1,759.0 414.3,749.0 415.4,747.0 422.0,741.3 430.5,735.0 432.0,732.9 444.0,725.0 460.0,716.6 474.0,711.4Z" fill="#445cfb"/>
<path d="M486.8,715.0 496.0,714.5 504.0,716.3 512.0,719.9 516.6,723.0 530.4,735.0 543.7,745.0 560.0,758.7 576.0,776.5 618.0,825.8 650.6,863.0 663.3,879.0 669.0,887.0 678.0,902.2 683.5,913.0 720.5,995.0 729.5,1017.0 745.8,1061.0 757.6,1105.0 761.0,1123.0 761.7,1129.0 761.1,1137.0 760.0,1142.5 758.0,1145.9 756.0,1145.1 754.0,1142.8 744.3,1125.0 738.0,1115.0 730.8,1105.0 722.5,1095.0 692.0,1064.2 657.7,1035.0 648.0,1027.5 638.2,1021.0 618.0,1008.7 596.0,996.9 576.0,987.2 546.0,971.1 502.0,945.4 464.0,921.3 446.0,908.5 431.8,897.0 426.0,891.1 419.2,883.0 410.6,871.0 407.1,865.0 400.2,851.0 395.1,835.0 392.1,819.0 391.6,813.0 392.0,807.0 391.7,803.0 392.2,801.0 392.2,797.0 393.6,789.0 396.9,779.0 401.7,769.0 410.4,759.0 411.4,757.0 420.0,749.0 426.0,744.4 426.9,743.0 432.0,738.9 444.0,730.8 448.0,728.9 452.0,726.0 456.0,724.6 458.0,722.8 464.0,721.1 466.0,719.6 470.0,718.9 472.0,717.5 476.0,717.1 478.0,716.1Z" fill="#3e65fa"/>
<path d="M480.9,721.0 486.0,720.7 488.0,720.1 496.0,720.5 504.0,722.5 510.0,725.3 516.0,729.4 527.9,739.0 540.0,747.4 556.8,761.0 571.7,777.0 650.0,866.9 666.0,887.8 674.0,900.8 681.5,915.0 699.9,955.0 723.2,1007.0 741.6,1055.0 746.6,1071.0 756.6,1111.0 757.9,1119.0 758.6,1129.0 758.2,1133.0 756.0,1137.7 754.0,1138.0 752.0,1135.5 738.1,1113.0 732.2,1105.0 722.2,1093.0 692.5,1063.0 658.0,1033.3 644.0,1023.0 622.0,1009.2 604.0,999.1 580.0,987.3 550.0,971.1 506.0,945.3 472.0,923.7 456.0,912.7 436.0,897.0 428.0,889.0 417.0,875.0 413.1,869.0 405.6,855.0 400.2,841.0 397.2,829.0 395.6,819.0 395.4,803.0 396.9,793.0 399.6,783.0 404.2,773.0 407.1,769.0 408.0,766.9 418.0,756.3 434.0,742.8 440.2,739.0 442.0,736.9 452.0,731.1 460.0,727.3 472.0,722.9Z" fill="#3670f8"/>
<path d="M476.4,727.0 484.0,725.5 492.0,725.2 500.0,726.9 504.0,728.3 512.0,732.6 534.0,747.9 554.0,763.3 569.0,779.0 642.9,863.0 656.0,878.7 665.0,891.0 672.0,902.6 680.0,917.6 716.5,997.0 722.7,1011.0 739.6,1055.0 744.7,1071.0 751.6,1099.0 754.4,1113.0 754.9,1125.0 754.0,1129.0 752.0,1130.5 733.7,1105.0 722.0,1091.3 702.0,1070.6 686.0,1055.4 654.7,1029.0 640.0,1018.7 618.0,1005.2 604.0,997.5 578.0,984.5 554.0,971.4 510.0,945.4 482.0,927.7 460.0,912.7 438.0,895.4 429.8,887.0 420.4,875.0 412.9,863.0 406.2,849.0 403.4,841.0 399.7,825.0 398.4,811.0 398.9,803.0 400.1,797.0 400.3,793.0 401.9,789.0 402.6,785.0 408.6,773.0 414.0,765.5 420.0,759.7 430.5,751.0 432.0,748.9 444.0,740.7 454.0,735.0 468.0,729.1Z" fill="#3079f7"/>
<path d="M477.0,731.0 482.0,730.6 484.0,730.0 492.0,730.3 496.0,730.8 506.0,734.5 530.0,749.6 552.0,765.8 568.0,782.4 637.8,861.0 651.3,877.0 663.4,893.0 676.0,914.8 694.0,953.0 702.0,971.2 718.0,1005.0 735.4,1049.0 741.2,1065.0 749.7,1101.0 750.9,1109.0 751.2,1115.0 751.1,1117.0 750.0,1120.5 748.0,1121.0 727.1,1095.0 692.0,1059.3 668.0,1038.4 654.0,1026.9 645.9,1021.0 624.0,1007.1 606.0,996.9 582.0,984.9 554.0,969.5 514.0,945.7 490.0,930.6 461.3,911.0 442.0,895.7 433.0,887.0 422.2,873.0 414.9,861.0 408.5,847.0 405.8,839.0 402.8,825.0 401.8,817.0 402.2,801.0 403.6,793.0 407.2,783.0 412.7,773.0 416.0,768.8 430.0,755.7 436.0,750.7 442.1,747.0 443.7,745.0 450.0,741.9 454.0,739.1 462.0,735.5 468.0,733.3Z" fill="#2884f6"/>
<path d="M479.0,735.0 484.0,734.4 490.0,734.6 500.0,736.7 504.0,738.3 528.0,752.4 550.0,768.1 570.0,788.7 636.0,862.6 648.0,876.6 660.0,892.2 669.2,907.0 676.7,921.0 715.9,1005.0 721.8,1019.0 735.8,1055.0 741.0,1071.0 746.1,1095.0 747.2,1103.0 747.1,1109.0 746.0,1112.5 744.0,1112.5 738.0,1106.2 728.7,1095.0 693.3,1059.0 664.0,1033.3 653.3,1025.0 642.0,1016.9 620.0,1003.3 602.0,993.3 580.0,982.3 552.0,966.6 510.0,941.3 487.9,927.0 462.1,909.0 444.6,895.0 434.3,885.0 425.1,873.0 420.0,865.0 413.0,851.0 410.6,845.0 407.1,833.0 405.3,823.0 404.5,809.0 405.9,801.0 406.0,797.0 407.5,793.0 408.2,789.0 414.0,777.0 417.3,773.0 418.0,771.3 436.0,754.7 448.0,746.7 458.0,741.6 470.0,736.9Z" fill="#208ef4"/>
<path d="M480.7,739.0 486.0,738.6 494.0,739.3 504.0,742.7 528.0,756.1 540.0,764.2 549.0,771.0 568.0,790.4 636.9,867.0 651.9,885.0 658.0,893.2 668.0,909.0 678.0,928.2 715.8,1009.0 721.6,1023.0 735.5,1059.0 739.1,1071.0 743.3,1095.0 743.1,1103.0 742.0,1104.9 740.0,1104.7 736.0,1101.0 692.0,1056.4 664.0,1031.9 648.0,1019.6 618.0,1000.7 608.0,995.1 586.0,984.0 556.0,967.3 526.0,949.3 496.0,930.2 470.0,912.5 450.1,897.0 438.0,886.0 429.4,875.0 422.8,865.0 416.4,853.0 413.2,845.0 410.2,835.0 407.8,821.0 407.4,815.0 407.9,809.0 407.7,805.0 408.5,799.0 410.0,795.0 410.6,791.0 416.3,779.0 423.2,771.0 424.0,769.4 442.0,754.5 446.0,752.4 447.2,751.0 450.0,749.2 464.0,742.6 476.0,739.1Z" fill="#1996f3"/>
<path d="M477.1,743.0 482.0,742.4 488.0,742.5 496.0,743.9 502.0,745.9 526.0,758.3 547.3,773.0 566.0,791.9 632.0,864.7 647.6,883.0 655.4,893.0 662.0,902.8 672.3,921.0 711.2,1003.0 719.8,1023.0 733.7,1059.0 737.3,1071.0 739.9,1089.0 738.8,1097.0 738.0,1097.9 736.0,1097.6 726.2,1089.0 700.4,1063.0 686.0,1049.6 662.2,1029.0 649.1,1019.0 634.0,1009.0 614.0,997.1 584.0,981.5 548.0,961.0 502.0,932.3 471.0,911.0 456.0,899.5 442.0,887.2 433.4,877.0 425.3,865.0 420.9,857.0 418.0,851.0 413.2,837.0 410.5,823.0 409.9,813.0 410.3,811.0 410.1,807.0 412.0,799.0 412.5,795.0 416.4,785.0 420.6,779.0 421.4,777.0 432.0,766.2 444.0,756.8 454.0,750.8 468.0,745.0Z" fill="#11a0f1"/>
<path d="M473.3,747.0 484.0,745.7 492.0,746.6 500.0,748.9 506.0,751.4 524.0,760.4 540.0,770.7 545.8,775.0 562.0,791.0 596.0,828.0 636.7,873.0 651.4,891.0 658.0,900.1 665.9,913.0 675.3,931.0 715.7,1017.0 733.8,1065.0 736.4,1077.0 736.9,1083.0 736.4,1089.0 735.2,1091.0 734.0,1091.8 732.0,1091.4 728.0,1088.5 718.0,1079.6 701.9,1063.0 686.9,1049.0 660.0,1025.8 648.0,1017.0 620.0,999.3 602.0,989.3 582.0,979.1 560.0,966.6 505.7,933.0 478.0,914.0 460.0,900.5 444.0,886.5 436.0,877.3 430.2,869.0 423.3,857.0 419.6,849.0 415.5,837.0 413.7,829.0 412.8,821.0 412.7,811.0 414.6,797.0 419.5,785.0 426.0,777.0 427.0,775.0 436.0,766.7 442.0,762.5 443.1,761.0 446.0,758.8 456.0,753.1 464.0,749.8Z" fill="#0ca7ef"/>
<path d="M471.3,751.0 478.0,749.7 486.0,749.3 494.0,750.5 500.0,752.3 520.0,761.2 538.0,772.2 544.0,776.6 560.0,792.1 590.0,824.4 634.0,872.8 648.0,889.6 657.9,903.0 669.3,923.0 711.3,1011.0 719.5,1031.0 731.9,1065.0 734.1,1077.0 733.9,1083.0 732.0,1086.1 730.0,1086.6 728.0,1085.8 722.0,1081.5 692.9,1053.0 668.0,1031.1 655.4,1021.0 628.0,1002.8 608.0,991.3 588.0,981.0 564.0,967.5 540.0,953.1 506.0,931.5 482.0,915.0 464.0,901.5 447.1,887.0 439.7,879.0 427.7,861.0 422.7,851.0 419.5,843.0 417.3,835.0 415.1,821.0 414.9,813.0 416.4,801.0 418.0,797.0 418.8,793.0 422.2,787.0 422.8,785.0 434.0,772.0 442.0,765.4 452.0,758.8 456.2,757.0 458.0,755.3 462.0,754.2 464.0,752.8Z" fill="#04b0ed"/>
<path d="M476.8,753.0 482.0,752.4 488.0,752.7 498.0,754.8 518.0,763.1 536.0,773.6 542.0,777.9 559.9,795.0 590.0,827.2 631.7,873.0 650.0,895.0 658.2,907.0 670.6,929.0 711.4,1015.0 725.9,1053.0 729.8,1065.0 731.7,1075.0 730.9,1079.0 728.0,1082.9 724.0,1081.1 720.0,1077.8 696.6,1055.0 668.0,1029.8 654.0,1018.7 624.0,999.2 606.0,989.0 586.0,978.8 564.0,966.2 507.7,931.0 486.0,916.0 462.0,897.9 446.0,883.6 438.9,875.0 431.0,863.0 425.8,853.0 421.1,841.0 419.1,833.0 417.2,819.0 417.6,809.0 418.2,807.0 418.3,803.0 419.8,799.0 420.6,795.0 426.0,785.0 428.9,781.0 444.0,767.0 454.0,760.8 462.0,756.9 468.0,754.8Z" fill="#02b7eb"/>
<path d="M470.5,757.0 476.0,755.9 486.0,755.6 492.0,756.3 500.0,758.6 514.0,764.0 520.0,766.9 532.0,773.8 540.0,779.0 550.0,788.1 564.8,803.0 627.7,871.0 644.0,890.0 655.1,905.0 669.9,931.0 709.7,1015.0 717.6,1035.0 727.2,1063.0 728.6,1071.0 728.5,1075.0 727.6,1077.0 726.0,1078.2 724.0,1078.0 720.0,1075.7 700.4,1057.0 682.4,1041.0 663.7,1025.0 650.0,1014.7 622.0,996.8 584.0,976.5 556.0,960.2 514.0,933.6 492.6,919.0 472.0,904.0 456.0,890.7 444.1,879.0 438.0,870.7 431.9,861.0 425.3,847.0 423.2,841.0 419.9,827.0 419.4,817.0 420.2,807.0 421.9,799.0 426.0,789.6 430.0,783.1 432.0,780.9 438.0,775.5 446.7,769.0 448.0,767.3 458.0,761.7 464.0,759.0Z" fill="#0ac0e8"/>
<path d="M476.7,759.0 482.0,758.4 490.0,758.7 502.0,762.0 518.0,768.5 530.0,775.0 540.0,781.7 560.0,800.7 594.0,836.8 628.0,873.9 645.9,895.0 654.5,907.0 666.0,927.0 684.6,965.0 709.8,1019.0 719.2,1045.0 724.7,1063.0 725.4,1069.0 725.0,1071.0 723.8,1073.0 722.0,1074.0 720.0,1073.2 716.0,1070.0 688.5,1045.0 666.0,1025.5 654.0,1016.3 638.0,1005.5 620.0,994.6 588.0,977.6 560.0,961.3 512.0,930.8 494.0,918.4 470.0,900.6 452.1,885.0 443.0,875.0 438.9,869.0 430.8,855.0 424.6,839.0 421.8,825.0 421.7,821.0 422.0,809.0 423.6,801.0 427.7,791.0 432.0,785.6 436.4,781.0 437.5,779.0 442.0,775.0 454.0,766.8 462.0,762.9 468.0,760.7Z" fill="#10c6e6"/>
<path d="M479.9,761.0 484.0,760.9 496.0,762.8 510.0,767.3 526.0,775.2 534.0,779.9 540.0,784.2 558.0,801.3 586.0,830.7 628.0,876.2 642.3,893.0 654.0,908.9 665.5,929.0 705.5,1013.0 712.0,1029.0 720.2,1055.0 721.5,1063.0 721.3,1067.0 720.0,1068.5 718.0,1068.3 714.0,1065.8 666.9,1025.0 654.0,1015.0 626.0,997.0 608.0,986.8 588.0,976.5 560.0,960.1 518.0,933.4 492.0,915.4 472.8,901.0 456.4,887.0 446.6,877.0 439.5,867.0 432.7,855.0 429.2,847.0 426.0,837.0 424.4,829.0 423.5,817.0 424.7,807.0 426.8,799.0 432.2,789.0 436.0,784.6 446.0,774.9 456.0,768.6 464.0,764.8 470.0,762.8Z" fill="#18cde4"/>
<path d="M471.4,765.0 476.0,764.6 478.0,763.8 488.0,764.0 494.0,764.8 502.0,767.1 512.0,770.6 522.0,775.3 534.0,782.2 537.8,785.0 555.2,801.0 580.0,826.7 623.0,873.0 637.1,889.0 650.0,905.6 662.0,925.6 682.4,967.0 705.6,1017.0 711.6,1033.0 716.1,1049.0 717.3,1057.0 717.1,1061.0 716.0,1062.3 714.0,1062.2 712.0,1061.2 706.2,1057.0 666.0,1023.0 650.0,1011.2 624.0,994.8 588.0,975.4 564.0,961.4 528.0,938.6 504.0,922.5 474.0,900.3 460.0,888.4 448.6,877.0 441.4,867.0 435.6,857.0 431.1,847.0 428.4,839.0 425.7,825.0 425.6,815.0 426.9,807.0 429.2,799.0 434.0,790.1 438.3,785.0 448.3,777.0 450.0,774.8 456.0,771.8 460.0,769.0Z" fill="#20d5e1"/>
<path d="M475.3,767.0 480.0,766.3 488.0,766.4 504.0,770.0 514.0,773.6 520.0,776.5 530.0,781.9 536.0,785.9 554.0,802.2 581.9,831.0 624.0,876.2 638.0,892.4 647.9,905.0 651.9,911.0 661.2,927.0 680.8,967.0 701.2,1011.0 707.8,1027.0 712.4,1043.0 713.6,1053.0 712.0,1055.9 710.0,1056.7 702.0,1051.5 686.0,1038.9 665.0,1021.0 648.0,1008.7 622.0,992.6 588.0,974.3 564.0,960.2 534.0,941.2 510.0,925.2 490.0,910.9 472.0,897.0 458.0,884.6 448.0,874.0 438.4,859.0 432.1,845.0 429.7,837.0 428.1,829.0 427.5,823.0 427.8,813.0 428.9,807.0 432.4,797.0 433.6,795.0 438.4,789.0 439.4,787.0 445.9,781.0 458.0,773.0 462.0,771.4 464.0,769.9 468.0,769.1 470.0,767.8Z" fill="#27dade"/>
<path d="M477.3,769.0 482.0,768.5 488.0,768.9 498.0,770.6 506.0,772.8 516.0,776.8 528.0,782.8 536.0,788.1 554.0,804.5 583.7,835.0 622.8,877.0 640.0,897.0 650.2,911.0 660.7,929.0 680.3,969.0 690.9,993.0 701.3,1015.0 705.9,1027.0 708.7,1037.0 710.0,1047.0 708.0,1051.4 706.0,1051.3 704.0,1050.5 696.0,1045.3 662.0,1017.3 644.0,1005.1 618.0,989.3 592.0,975.5 568.0,961.5 538.0,942.6 512.0,925.4 476.0,898.7 460.4,885.0 449.0,873.0 439.2,857.0 436.3,851.0 431.9,839.0 430.1,831.0 429.4,821.0 429.5,815.0 432.2,803.0 436.3,795.0 439.4,791.0 450.0,780.6 462.0,773.5 468.0,771.0Z" fill="#2fe0db"/>
<path d="M479.2,771.0 490.0,771.4 498.0,772.9 508.0,775.6 524.0,782.8 536.0,790.3 554.0,806.7 580.0,833.3 620.0,876.0 634.0,891.9 648.0,910.0 657.0,925.0 678.8,969.0 699.5,1015.0 703.4,1025.0 706.1,1035.0 706.6,1041.0 706.0,1045.2 704.0,1046.5 702.0,1046.3 696.0,1043.2 686.0,1035.8 666.0,1019.2 652.0,1009.1 626.0,992.9 610.0,983.8 590.0,973.4 568.0,960.5 518.0,928.2 500.0,915.5 476.0,897.1 462.3,885.0 452.4,875.0 447.9,869.0 441.9,859.0 435.6,845.0 433.2,837.0 431.6,829.0 431.3,819.0 431.7,813.0 433.6,805.0 438.0,795.8 439.9,793.0 446.0,786.9 452.0,782.6 454.0,780.4 464.0,774.9 470.0,772.7Z" fill="#34e4d9"/>
<path d="M472.3,775.0 474.0,774.0 484.0,773.1 492.0,773.8 500.0,775.3 506.0,776.9 516.0,780.8 526.0,785.7 532.0,789.4 544.0,799.5 558.0,812.9 586.0,841.6 628.0,886.9 642.8,905.0 649.7,915.0 660.0,933.4 676.5,967.0 694.2,1007.0 700.7,1023.0 702.5,1029.0 703.3,1035.0 703.3,1039.0 702.0,1041.2 700.0,1042.3 698.0,1042.0 694.0,1039.9 687.0,1035.0 664.8,1017.0 650.0,1006.7 624.0,990.8 610.0,982.8 590.0,972.5 574.0,963.1 554.0,950.7 526.9,933.0 503.9,917.0 480.0,898.8 466.3,887.0 454.0,874.8 449.6,869.0 443.6,859.0 439.6,851.0 436.0,841.0 433.3,827.0 433.0,821.0 434.0,811.0 437.5,801.0 442.0,795.0 442.8,793.0 446.0,789.9 452.0,784.7 458.2,781.0 460.0,779.0 466.0,777.1 468.0,775.7Z" fill="#3dead5"/>
<path d="M471.7,777.0 478.0,775.8 486.0,775.3 502.0,777.8 512.0,781.1 522.0,785.6 531.4,791.0 544.0,801.6 558.0,815.0 585.5,843.0 628.0,888.9 639.6,903.0 646.9,913.0 657.4,931.0 666.5,949.0 678.7,975.0 696.4,1017.0 698.5,1023.0 699.9,1029.0 700.2,1033.0 699.2,1037.0 698.0,1037.8 696.0,1037.8 690.0,1035.0 668.0,1018.0 646.0,1003.1 616.0,985.1 594.0,973.7 574.0,962.1 534.0,936.6 510.0,920.1 484.0,900.6 470.0,888.8 455.9,875.0 452.0,870.2 447.4,863.0 441.3,851.0 438.2,843.0 436.1,835.0 435.1,829.0 434.7,821.0 435.5,813.0 438.8,803.0 442.4,797.0 445.7,793.0 458.0,782.9 466.0,778.9Z" fill="#42edd3"/>
<path d="M472.7,779.0 480.0,777.5 482.0,777.7 484.0,777.3 500.0,779.1 510.0,782.3 520.0,786.5 530.0,792.0 542.0,801.9 556.0,815.0 584.0,843.4 622.9,885.0 634.0,898.0 644.1,911.0 650.3,921.0 661.2,941.0 676.4,973.0 692.0,1011.0 696.0,1023.0 696.7,1027.0 696.6,1031.0 696.0,1032.0 694.0,1033.5 692.0,1033.6 688.0,1031.6 660.0,1011.0 638.0,997.0 614.0,983.1 594.0,972.9 580.0,964.7 558.0,951.2 534.0,935.5 507.4,917.0 481.3,897.0 467.6,885.0 456.0,873.1 452.8,869.0 445.8,857.0 442.0,849.0 439.3,841.0 436.8,829.0 436.6,819.0 437.8,811.0 441.8,801.0 448.9,793.0 450.0,791.1 462.0,782.9Z" fill="#4af2cf"/>
<path d="M471.9,781.0 476.0,780.7 478.0,779.8 488.0,779.6 500.0,781.2 506.0,782.7 516.0,786.6 526.0,791.3 530.0,794.0 542.0,803.8 556.0,817.0 583.8,845.0 624.0,888.1 636.0,902.4 646.5,917.0 656.0,933.5 664.7,951.0 678.4,981.0 691.1,1015.0 692.3,1019.0 693.1,1025.0 692.0,1028.2 691.2,1029.0 690.0,1029.2 686.0,1027.9 660.0,1009.8 636.0,994.8 612.0,981.2 592.0,970.9 566.0,955.2 537.9,937.0 514.0,920.6 485.5,899.0 471.5,887.0 457.5,873.0 453.0,867.0 449.4,861.0 446.3,855.0 441.4,843.0 439.4,835.0 438.2,827.0 438.6,817.0 440.4,809.0 444.7,801.0 447.7,797.0 458.0,787.5 466.0,783.1Z" fill="#50f4cc"/>
<path d="M474.5,783.0 486.0,781.4 494.0,781.9 502.0,783.4 516.0,788.4 522.0,791.0 528.8,795.0 546.0,809.3 570.0,832.8 587.8,851.0 623.2,889.0 638.0,906.9 644.0,915.2 655.5,935.0 661.5,947.0 672.6,971.0 680.0,989.0 687.9,1013.0 688.8,1019.0 688.9,1021.0 688.0,1023.3 686.0,1024.3 682.0,1022.9 666.0,1012.4 634.0,992.7 620.0,984.6 592.0,969.9 558.0,949.2 526.0,927.8 497.4,907.0 477.6,891.0 468.0,882.1 459.2,873.0 455.8,869.0 451.9,863.0 444.3,847.0 441.0,835.0 439.8,825.0 439.9,819.0 442.5,809.0 444.2,805.0 447.1,801.0 447.8,799.0 449.7,797.0 454.0,793.1 464.0,786.4 468.0,785.2 470.0,783.7Z" fill="#58f8c9"/>
<path d="M473.5,785.0 480.0,783.7 488.0,783.2 500.0,784.7 514.0,789.2 524.0,793.7 528.0,796.3 542.0,807.6 558.0,822.8 582.0,846.8 620.0,887.2 632.0,901.2 643.9,917.0 654.0,935.0 664.0,955.3 676.2,983.0 682.1,1001.0 684.4,1011.0 684.6,1015.0 684.0,1017.7 682.8,1019.0 680.0,1018.6 674.0,1015.7 624.0,985.9 592.0,969.0 556.0,946.9 522.0,924.0 498.0,906.2 478.0,889.9 460.8,873.0 456.0,867.0 451.3,859.0 446.5,849.0 443.8,841.0 442.1,833.0 441.6,823.0 442.1,821.0 442.0,817.0 444.2,809.0 452.7,797.0 460.0,791.0 468.0,786.8Z" fill="#60fac5"/>
<path d="M485.7,785.0 498.0,786.1 510.0,789.4 520.0,793.4 526.0,796.7 532.0,801.1 550.0,816.8 576.6,843.0 624.0,893.5 632.0,903.0 642.4,917.0 651.7,933.0 661.7,953.0 670.6,973.0 676.0,987.0 678.4,995.0 680.5,1005.0 680.9,1009.0 680.0,1013.0 678.0,1014.3 674.0,1013.3 668.0,1010.3 624.0,985.0 596.0,970.5 562.0,949.8 530.0,928.5 504.0,909.6 478.6,889.0 470.0,880.9 460.6,871.0 453.7,861.0 447.3,847.0 445.5,841.0 443.5,831.0 443.2,825.0 444.3,815.0 447.5,807.0 449.8,803.0 454.0,798.2 460.7,793.0 464.0,790.7 472.0,787.3 482.0,785.2Z" fill="#66fcc2"/>
<path d="M486.0,787.0 498.0,787.8 508.0,790.4 518.0,794.2 528.0,799.8 546.0,814.8 572.0,840.1 590.0,858.6 623.8,895.0 633.7,907.0 642.4,919.0 652.5,937.0 663.9,961.0 672.3,981.0 676.4,995.0 677.6,1003.0 677.1,1007.0 675.5,1009.0 674.0,1010.0 672.0,1009.6 668.0,1008.5 662.0,1005.6 622.0,983.0 596.0,969.6 565.3,951.0 530.0,927.4 502.0,906.9 478.0,887.0 462.0,870.7 458.9,867.0 455.1,861.0 451.2,853.0 447.5,843.0 445.2,833.0 444.8,825.0 445.5,817.0 449.3,807.0 452.5,803.0 460.0,795.4 468.0,790.8 472.0,789.8 474.0,788.6 478.0,788.2 480.0,787.3Z" fill="#6efebe"/>
<path d="M483.5,789.0 496.0,789.1 508.0,792.1 518.0,795.7 522.0,797.7 532.0,804.7 548.0,818.4 575.3,845.0 614.0,885.7 625.8,899.0 636.8,913.0 642.4,921.0 652.2,939.0 661.8,959.0 670.7,981.0 674.0,993.0 674.5,1001.0 673.2,1005.0 672.0,1006.2 668.0,1006.1 660.0,1003.2 656.0,1001.1 620.0,981.0 596.0,968.7 566.0,950.6 530.9,927.0 508.0,910.4 482.0,889.3 471.2,879.0 463.7,871.0 460.0,866.5 456.0,860.0 449.5,845.0 446.7,833.0 446.5,823.0 447.8,815.0 451.7,807.0 454.0,803.7 458.0,799.9 466.0,793.9 474.0,790.8Z" fill="#74feba"/>
<path d="M481.4,791.0 490.0,790.4 496.0,790.9 506.0,793.0 516.0,796.4 526.0,801.9 544.0,816.5 568.0,839.5 586.0,857.7 618.0,891.7 632.0,908.4 641.1,921.0 654.8,947.0 665.4,971.0 670.7,987.0 671.6,993.0 671.8,999.0 670.0,1001.8 668.0,1003.1 664.0,1002.9 654.0,998.8 626.0,983.3 594.0,966.7 566.0,949.6 532.0,926.8 508.0,909.2 483.2,889.0 467.0,873.0 461.8,867.0 458.0,861.4 451.6,847.0 449.3,839.0 448.0,831.0 448.5,821.0 451.5,811.0 454.4,807.0 455.2,805.0 458.0,802.2 462.0,798.8 470.0,794.3 476.0,792.2Z" fill="#7dffb6"/>
<path d="M479.6,793.0 490.0,792.1 502.0,793.6 516.0,797.9 522.0,800.9 528.0,805.0 546.0,820.0 570.0,843.0 585.7,859.0 617.7,893.0 631.0,909.0 638.5,919.0 644.3,929.0 652.6,945.0 659.9,961.0 664.7,973.0 667.9,983.0 669.3,991.0 669.1,995.0 668.0,998.3 666.0,999.7 662.0,1000.2 652.0,996.4 624.0,981.3 598.0,968.1 570.0,951.3 532.0,925.8 511.8,911.0 486.0,890.1 470.3,875.0 461.8,865.0 459.2,861.0 455.3,853.0 450.7,839.0 449.6,829.0 449.7,823.0 452.6,813.0 456.0,807.3 458.0,805.0 462.5,801.0 468.0,797.1 474.0,794.6Z" fill="#82ffb3"/>
<path d="M478.8,795.0 482.0,794.9 484.0,794.1 490.0,794.0 500.0,794.7 512.0,798.0 518.0,800.4 524.0,803.9 542.0,818.1 562.0,836.9 578.0,852.6 612.0,888.4 626.0,904.4 635.8,917.0 642.0,926.8 650.5,943.0 660.1,965.0 665.6,981.0 666.4,985.0 666.6,993.0 664.0,996.8 662.0,997.7 656.0,996.5 644.0,991.1 598.0,967.3 570.0,950.4 541.0,931.0 515.8,913.0 490.0,892.3 481.8,885.0 471.8,875.0 462.0,863.3 456.6,853.0 453.7,845.0 451.7,837.0 451.1,831.0 451.7,821.0 454.3,813.0 455.5,811.0 464.0,801.8 472.0,797.1Z" fill="#8bfeae"/>
<path d="M480.1,797.0 488.0,795.6 492.0,795.5 500.0,796.4 510.0,798.8 514.0,800.3 520.0,802.9 526.0,806.9 542.0,819.7 566.0,842.3 582.0,858.2 614.0,892.1 628.0,908.6 636.0,919.3 640.8,927.0 649.2,943.0 657.9,963.0 663.1,979.0 664.4,987.0 664.1,991.0 662.0,994.2 660.0,995.3 654.0,994.1 644.0,989.8 598.0,966.5 570.0,949.5 542.0,930.8 516.0,912.1 487.7,889.0 473.2,875.0 464.0,864.1 460.7,859.0 458.0,852.8 454.1,841.0 452.5,831.0 452.8,827.0 453.9,819.0 458.0,811.0 460.0,808.4 470.0,800.2 474.0,799.0 476.0,797.5Z" fill="#90feab"/>
<path d="M489.8,797.0 494.0,797.0 506.0,799.2 516.0,802.5 522.0,805.8 534.0,814.6 546.0,824.9 572.0,849.7 600.0,878.7 618.0,898.2 630.0,912.8 637.2,923.0 644.9,937.0 650.6,949.0 657.8,967.0 661.3,979.0 661.9,983.0 661.5,989.0 659.6,991.0 658.0,992.2 656.0,992.6 646.0,989.5 598.0,965.6 573.7,951.0 542.0,929.8 513.4,909.0 486.9,887.0 471.0,871.0 466.0,864.9 462.0,858.7 458.5,851.0 455.9,843.0 454.4,835.0 454.0,829.0 455.2,821.0 459.7,811.0 466.0,804.9 476.0,799.7 480.0,798.4Z" fill="#99fca6"/>
<path d="M486.7,799.0 498.0,799.2 504.0,800.2 512.0,802.5 520.0,806.1 532.0,814.6 546.0,826.5 572.0,851.2 590.0,869.6 617.3,899.0 628.8,913.0 636.1,923.0 643.7,937.0 649.4,949.0 655.7,965.0 658.1,973.0 659.5,981.0 658.6,987.0 657.0,989.0 656.0,989.7 654.0,990.0 650.0,989.3 644.0,987.3 634.0,982.7 600.0,965.9 574.0,950.4 539.3,927.0 514.0,908.4 488.3,887.0 472.4,871.0 464.6,861.0 462.3,857.0 459.2,849.0 455.9,837.0 455.8,827.0 456.9,821.0 458.0,818.2 462.0,811.8 464.3,809.0 469.2,805.0 472.0,803.2 478.0,800.7 484.0,799.2Z" fill="#a0faa1"/>
<path d="M484.4,801.0 486.0,800.5 496.0,800.6 508.0,802.7 514.0,804.6 518.0,806.5 528.0,813.2 542.0,824.4 568.2,849.0 610.0,892.3 624.0,908.6 634.8,923.0 644.3,941.0 650.5,955.0 654.7,967.0 656.6,975.0 656.7,983.0 656.0,985.3 652.0,987.4 648.0,987.1 638.0,983.3 600.0,965.2 580.0,953.2 546.0,930.7 520.0,912.0 492.0,889.0 477.5,875.0 467.4,863.0 463.7,857.0 461.1,851.0 458.2,841.0 457.3,835.0 457.7,825.0 460.3,817.0 466.0,809.4 476.0,803.1 482.0,801.2Z" fill="#a6f89d"/>
<path d="M484.4,803.0 486.0,802.2 498.0,802.3 510.0,804.6 518.0,808.1 528.0,814.7 544.0,827.8 568.0,850.2 609.2,893.0 623.0,909.0 632.1,921.0 637.1,929.0 644.1,943.0 649.1,955.0 653.9,971.0 654.6,977.0 654.1,981.0 652.0,984.0 650.0,985.1 646.0,984.8 636.0,981.3 600.0,964.3 578.0,951.2 546.0,929.8 520.0,910.9 495.7,891.0 478.9,875.0 467.3,861.0 462.2,851.0 459.9,843.0 458.7,835.0 459.0,827.0 459.9,823.0 462.0,819.0 462.5,817.0 466.0,812.8 474.0,806.1 478.0,805.0 480.0,803.5Z" fill="#aef498"/>
<path d="M482.6,805.0 490.0,803.6 494.0,803.5 506.0,805.0 512.9,807.0 522.0,812.1 538.0,824.1 558.0,842.2 574.0,857.6 600.0,884.6 613.3,899.0 624.9,913.0 632.3,923.0 638.0,932.8 648.4,957.0 651.8,969.0 652.2,973.0 651.8,979.0 650.0,981.6 648.0,982.7 640.0,981.4 624.0,974.9 600.0,963.5 578.0,950.3 549.1,931.0 524.0,913.0 501.7,895.0 490.3,885.0 482.1,877.0 470.1,863.0 466.1,857.0 462.4,847.0 460.1,833.0 461.1,825.0 464.0,817.4 465.8,815.0 472.0,809.7 478.0,806.4Z" fill="#b4f295"/>
<path d="M491.6,805.0 496.0,804.9 504.0,806.1 512.0,808.1 518.0,811.0 532.0,820.8 544.0,830.8 572.0,857.0 610.0,896.9 620.0,908.5 630.9,923.0 638.7,937.0 644.0,949.0 648.6,963.0 650.0,971.0 649.6,975.0 647.3,979.0 646.0,979.9 642.0,980.1 638.0,979.3 628.0,975.5 604.0,964.8 578.0,949.5 550.0,930.8 524.0,912.0 496.2,889.0 487.5,881.0 479.8,873.0 468.8,859.0 464.1,849.0 462.3,841.0 461.6,835.0 462.7,825.0 464.0,822.0 468.5,815.0 474.0,810.3 476.0,809.0 482.0,806.6Z" fill="#bced8f"/>
<path d="M488.6,807.0 490.0,806.6 500.0,806.9 508.0,808.3 515.1,811.0 526.0,817.9 540.0,828.8 564.0,850.8 578.0,864.5 605.1,893.0 619.1,909.0 626.0,917.9 632.3,927.0 636.5,935.0 642.0,947.0 646.9,963.0 647.4,967.0 647.4,973.0 646.6,975.0 645.0,977.0 642.0,978.0 638.0,977.6 628.0,974.4 616.0,969.3 598.0,960.7 576.0,947.3 544.0,925.6 521.4,909.0 497.5,889.0 488.8,881.0 481.2,873.0 472.0,861.8 467.7,855.0 464.5,845.0 463.5,839.0 463.2,833.0 464.6,825.0 466.0,821.3 470.0,815.5 480.0,809.0 486.0,807.2Z" fill="#c2ea8c"/>
<path d="M488.5,809.0 490.0,808.4 498.0,808.3 506.0,809.0 516.0,812.9 528.0,820.8 540.8,831.0 568.0,856.0 604.0,893.3 614.0,904.5 625.5,919.0 632.0,928.4 635.3,935.0 642.6,953.0 645.3,965.0 644.8,971.0 642.0,974.7 640.0,975.6 636.0,975.5 632.0,974.5 614.0,967.5 604.0,963.0 596.0,958.7 574.0,945.3 541.6,923.0 520.2,907.0 498.0,888.2 484.0,874.6 472.8,861.0 469.1,855.0 466.1,847.0 465.1,841.0 464.6,833.0 466.0,825.0 470.0,819.1 475.8,813.0 482.0,810.8 484.0,809.4Z" fill="#cbe486"/>
<path d="M486.5,811.0 492.0,810.0 498.0,809.6 506.0,810.6 512.0,812.5 522.0,818.2 536.0,828.5 552.0,842.6 569.6,859.0 588.0,877.8 604.2,895.0 616.0,908.4 631.0,929.0 639.9,949.0 642.6,959.0 643.1,967.0 642.0,970.3 640.0,972.6 638.0,973.6 634.0,973.5 630.0,972.6 614.0,966.6 601.7,961.0 574.0,944.4 545.7,925.0 526.0,910.5 504.8,893.0 487.6,877.0 477.2,865.0 470.5,855.0 467.6,847.0 466.3,841.0 466.2,837.0 466.4,831.0 470.1,821.0 476.0,815.5 482.0,812.3Z" fill="#d0e082"/>
<path d="M495.8,811.0 500.0,811.0 508.0,812.5 512.0,813.9 520.9,819.0 534.0,828.3 552.0,844.0 568.0,858.8 606.6,899.0 615.2,909.0 624.3,921.0 630.0,929.5 634.0,937.5 638.3,949.0 640.8,959.0 640.7,965.0 639.5,969.0 638.0,970.6 636.0,971.6 630.0,971.1 618.0,967.2 608.0,963.1 600.0,959.2 574.0,943.5 546.0,924.3 522.8,907.0 501.6,889.0 485.2,873.0 475.6,861.0 470.8,853.0 468.3,845.0 467.6,839.0 468.6,829.0 472.0,821.8 476.0,817.8 479.9,815.0 486.0,812.6Z" fill="#d9da7d"/>
<path d="M492.4,813.0 500.0,812.6 504.0,813.0 510.0,814.6 520.0,819.9 528.0,825.3 540.0,834.8 566.0,858.3 603.4,897.0 612.0,906.8 621.6,919.0 628.5,929.0 631.7,935.0 636.9,949.0 638.6,957.0 638.8,963.0 637.2,967.0 636.0,968.4 632.0,969.5 628.0,969.2 622.0,967.6 608.0,962.2 600.0,958.4 578.0,945.2 546.0,923.3 524.1,907.0 502.9,889.0 488.4,875.0 481.5,867.0 473.1,855.0 469.9,847.0 469.1,837.0 469.6,831.0 472.1,825.0 474.9,821.0 484.0,814.9 490.0,813.1Z" fill="#e0d377"/>
<path d="M490.2,815.0 494.0,814.2 506.0,814.8 510.0,816.1 516.0,819.1 524.0,824.0 536.0,832.9 552.2,847.0 567.3,861.0 584.0,877.9 612.0,908.4 627.2,929.0 630.3,935.0 634.2,945.0 636.7,955.0 636.1,963.0 635.4,965.0 634.0,966.6 630.0,967.7 626.0,967.4 612.0,962.9 600.0,957.4 578.0,944.4 549.6,925.0 530.0,910.6 508.7,893.0 491.6,877.0 481.3,865.0 474.0,854.1 471.4,847.0 470.5,839.0 471.9,829.0 474.5,825.0 480.0,818.8 488.0,815.2Z" fill="#e6cd73"/>
<path d="M490.1,817.0 492.0,815.9 498.0,815.5 506.0,816.3 512.0,818.6 524.0,825.5 534.3,833.0 552.0,848.3 566.0,861.1 581.8,877.0 602.0,898.5 611.2,909.0 619.0,919.0 627.0,931.0 631.5,941.0 634.3,951.0 634.8,957.0 634.0,962.1 632.0,965.0 628.0,965.9 624.0,965.5 610.0,961.2 604.0,958.7 598.0,955.4 578.0,943.5 550.0,924.3 530.0,909.6 510.1,893.0 492.0,876.0 482.7,865.0 474.8,853.0 472.2,845.0 471.7,839.0 472.2,835.0 474.2,829.0 476.4,825.0 480.0,821.6 486.0,817.7Z" fill="#eec66d"/>
<path d="M495.9,817.0 504.0,817.2 514.0,821.1 523.9,827.0 534.0,834.3 566.0,862.5 599.3,897.0 608.0,906.8 617.7,919.0 624.5,929.0 627.9,935.0 631.2,945.0 632.7,953.0 632.3,959.0 630.0,962.3 628.0,963.8 624.0,964.0 608.0,959.5 596.0,953.4 576.0,941.3 550.0,923.4 528.0,907.0 509.2,891.0 492.5,875.0 482.6,863.0 476.0,852.4 474.7,849.0 473.4,843.0 473.4,837.0 475.7,829.0 480.0,823.9 484.0,820.8 490.0,818.3Z" fill="#f4c069"/>
<path d="M493.4,819.0 502.0,818.5 508.0,820.1 520.0,826.0 528.0,831.2 538.0,839.0 558.0,856.5 582.0,880.1 608.0,908.4 616.2,919.0 623.1,929.0 626.4,935.0 630.0,945.0 630.8,951.0 630.5,957.0 628.0,960.6 626.0,961.8 622.0,962.0 614.0,960.5 608.0,958.6 596.0,952.4 576.0,940.4 548.0,921.0 528.0,905.9 512.7,893.0 495.8,877.0 486.0,865.8 480.0,857.0 476.8,851.0 474.9,843.0 475.4,835.0 479.4,827.0 482.0,824.6 487.4,821.0Z" fill="#fcb763"/>
<path d="M491.6,821.0 498.0,819.9 502.0,820.0 506.0,820.9 512.0,823.2 522.0,828.8 534.0,837.3 550.0,850.8 565.6,865.0 577.6,877.0 607.1,909.0 616.3,921.0 624.0,933.0 627.4,941.0 628.6,947.0 628.7,953.0 627.3,957.0 625.9,959.0 622.0,960.4 618.0,960.1 612.0,959.0 608.0,957.5 596.0,951.4 576.0,939.4 548.0,920.0 528.1,905.0 511.8,891.0 496.0,875.8 486.8,865.0 482.7,859.0 479.2,853.0 476.3,845.0 476.2,841.0 477.1,835.0 477.7,833.0 481.4,827.0 486.0,823.4Z" fill="#ffb05f"/>
<path d="M490.7,823.0 494.0,822.6 496.0,821.6 504.0,822.1 512.0,825.0 524.0,831.6 534.0,838.8 544.0,847.1 559.8,861.0 572.0,872.7 602.3,905.0 613.5,919.0 620.3,929.0 623.7,935.0 626.3,943.0 626.8,949.0 626.3,953.0 625.8,955.0 624.0,957.4 620.0,958.9 616.0,958.6 608.0,956.4 600.0,952.6 579.9,941.0 554.0,923.4 532.0,907.0 515.4,893.0 500.0,878.5 491.4,869.0 484.0,858.7 479.7,851.0 477.6,843.0 478.8,835.0 480.8,831.0 484.0,827.4Z" fill="#ffa759"/>
<path d="M491.8,825.0 496.0,823.6 500.0,823.2 504.0,823.7 514.0,827.5 520.0,830.7 526.0,834.4 536.0,841.9 556.0,859.0 568.8,871.0 588.0,890.9 604.0,908.6 612.0,919.0 618.7,929.0 622.0,935.0 624.4,941.0 624.8,949.0 624.2,953.0 622.7,955.0 620.0,956.7 616.0,957.1 606.0,954.5 592.0,947.3 580.0,940.1 552.0,921.0 532.0,905.9 516.7,893.0 502.0,879.0 492.8,869.0 488.2,863.0 484.4,857.0 479.9,847.0 479.3,841.0 480.3,835.0 483.0,831.0 486.0,828.1 490.0,825.5Z" fill="#ffa055"/>
<path d="M497.6,825.0 502.0,825.0 512.0,828.3 522.0,833.4 530.0,838.8 556.0,860.4 578.0,881.9 602.8,909.0 612.0,920.9 616.0,927.0 620.5,935.0 622.7,941.0 623.3,947.0 621.3,953.0 618.0,955.3 614.0,955.4 610.0,954.8 598.0,949.4 580.0,939.1 558.0,924.2 532.2,905.0 515.9,891.0 501.4,877.0 494.0,868.6 487.3,859.0 482.1,849.0 480.9,843.0 481.3,839.0 483.8,833.0 485.4,831.0 492.0,826.4Z" fill="#ff964f"/>
<path d="M495.8,827.0 500.0,826.6 508.0,828.5 518.0,832.8 524.0,836.3 532.0,841.9 552.7,859.0 565.8,871.0 577.6,883.0 602.0,909.8 610.4,921.0 616.6,931.0 620.4,939.0 621.2,943.0 621.2,947.0 620.5,949.0 619.6,951.0 617.6,953.0 614.0,953.8 608.0,952.9 595.4,947.0 575.1,935.0 552.1,919.0 533.5,905.0 519.5,893.0 502.9,877.0 494.2,867.0 488.0,857.8 484.0,849.0 482.5,843.0 483.7,837.0 485.7,833.0 490.0,829.3Z" fill="#ff8c49"/>
<path d="M499.2,829.0 504.0,829.3 510.0,830.9 520.0,835.5 528.0,840.6 554.0,861.6 564.2,871.0 576.1,883.0 599.9,909.0 606.1,917.0 612.7,927.0 617.0,935.0 619.1,941.0 619.0,947.0 618.2,949.0 616.0,951.4 612.0,952.2 608.0,951.3 602.0,949.0 590.0,943.0 576.0,934.6 553.5,919.0 534.0,904.2 518.7,891.0 504.4,877.0 499.0,871.0 492.8,863.0 487.3,853.0 485.6,849.0 484.9,845.0 484.5,841.0 485.1,839.0 488.0,834.2 492.0,830.4 494.0,829.5Z" fill="#ff8444"/>
<path d="M492.6,833.0 498.0,831.1 502.0,831.0 510.0,832.8 518.0,836.2 530.0,843.6 546.0,856.3 560.0,868.5 574.0,882.4 592.0,901.8 598.2,909.0 607.3,921.0 610.0,925.0 615.1,935.0 616.9,941.0 616.5,947.0 616.0,947.6 614.0,949.5 612.0,949.9 606.0,949.1 596.0,944.9 582.0,937.2 570.0,929.4 548.0,913.9 534.0,903.1 520.1,891.0 500.5,871.0 494.0,862.3 489.8,855.0 487.1,847.0 486.9,843.0 488.1,837.0 490.0,834.8Z" fill="#ff793e"/>
<path d="M493.9,835.0 500.0,833.3 504.0,833.4 512.0,835.4 518.0,837.9 526.0,842.5 534.0,848.4 550.0,861.2 561.0,871.0 573.0,883.0 591.4,903.0 598.3,911.0 604.2,919.0 610.3,929.0 613.6,937.0 614.4,943.0 612.6,947.0 608.0,947.7 604.0,946.9 594.0,942.6 580.0,934.9 545.6,911.0 532.9,901.0 521.6,891.0 502.1,871.0 494.8,861.0 491.7,855.0 489.3,847.0 489.3,843.0 489.9,839.0Z" fill="#ff703a"/>
<path d="M496.2,837.0 502.0,835.6 506.0,836.1 514.0,838.1 520.0,840.8 526.0,844.3 540.0,854.7 560.0,871.7 571.4,883.0 586.2,899.0 594.9,909.0 603.9,921.0 609.3,931.0 610.7,935.0 611.5,941.0 610.0,943.8 608.0,945.1 604.0,944.9 598.0,943.0 592.0,940.3 580.0,933.7 558.0,918.9 544.5,909.0 532.0,899.0 523.1,891.0 504.0,871.3 499.1,865.0 495.4,859.0 492.8,853.0 491.4,847.0 492.0,842.5Z" fill="#ff6533"/>
<path d="M499.9,839.0 504.0,838.4 512.0,839.3 522.0,843.8 530.0,848.9 540.8,857.0 560.0,873.3 578.0,891.8 592.0,907.6 598.0,915.2 604.2,925.0 607.0,931.0 608.1,937.0 607.5,941.0 606.0,942.0 602.0,942.3 596.0,940.6 584.0,934.8 578.0,931.2 546.2,909.0 536.0,901.0 524.6,891.0 514.6,881.0 505.5,871.0 500.9,865.0 497.4,859.0 494.4,851.0 494.1,845.0 496.0,841.9Z" fill="#ff5c2f"/>
<path d="M505.1,841.0 514.0,842.3 520.0,844.7 524.2,847.0 546.0,862.9 562.0,877.0 580.0,895.9 596.0,915.0 602.2,925.0 604.4,931.0 604.8,933.0 604.0,937.9 602.4,939.0 600.0,939.6 596.0,938.7 588.0,935.4 576.0,928.6 556.0,915.0 542.6,905.0 532.9,897.0 522.1,887.0 505.7,869.0 501.5,863.0 498.5,857.0 496.9,851.0 497.6,845.0 500.0,842.6Z" fill="#ff5029"/>
<path d="M503.5,845.0 508.0,844.0 512.0,844.2 516.0,845.1 522.0,848.0 528.0,851.5 542.0,861.5 558.0,875.0 568.0,884.9 579.1,897.0 593.8,915.0 596.5,919.0 600.5,927.0 601.5,931.0 601.2,933.0 600.0,935.0 598.0,936.6 592.0,935.4 579.0,929.0 562.0,917.8 548.0,907.8 536.9,899.0 528.0,891.1 514.0,876.5 507.7,869.0 503.7,863.0 500.2,855.0 499.8,851.0 500.0,848.8 501.2,847.0Z" fill="#ff4724"/>
<path d="M509.1,847.0 514.0,847.1 518.0,848.5 524.0,851.2 530.0,855.0 546.6,867.0 562.0,880.7 576.0,895.7 591.7,915.0 594.2,919.0 596.9,925.0 597.5,931.0 596.0,932.9 592.0,933.0 586.0,931.0 574.0,924.3 559.9,915.0 546.0,904.9 536.3,897.0 527.6,889.0 514.6,875.0 509.8,869.0 505.8,863.0 503.4,857.0 503.3,851.0 504.3,849.0Z" fill="#ff3b1e"/>
<path d="M510.5,851.0 512.0,850.5 516.0,850.7 520.0,851.9 526.0,854.9 544.0,867.0 558.0,878.9 575.0,897.0 587.7,913.0 592.0,920.3 593.5,925.0 593.1,927.0 592.0,928.5 590.0,929.5 586.0,928.6 578.0,925.0 572.0,921.3 548.2,905.0 531.5,891.0 518.0,876.5 512.2,869.0 508.4,863.0 506.3,857.0 506.6,855.0 508.0,852.5Z" fill="#ff2f18"/>
<path d="M512.6,855.0 518.0,854.6 524.0,856.8 528.0,858.8 536.0,863.6 544.0,869.1 555.8,879.0 572.0,896.2 584.7,913.0 588.4,921.0 586.9,925.0 586.0,925.3 582.0,924.4 578.0,922.6 562.0,913.1 547.7,903.0 533.6,891.0 522.4,879.0 513.7,867.0 511.5,863.0 510.7,859.0 512.0,855.3Z" fill="#ff2613"/>
<path d="M516.2,861.0 518.0,859.9 522.0,859.9 529.9,863.0 540.0,868.8 552.0,878.0 564.0,889.9 574.6,903.0 580.8,913.0 582.1,917.0 582.1,919.0 580.0,919.6 578.0,919.3 568.0,914.7 556.0,907.1 540.0,894.8 529.9,885.0 520.4,873.0 517.2,867.0 516.0,863.0Z" fill="#ff190d"/>
<path d="M523.3,867.0 526.0,866.1 530.0,866.8 536.0,869.4 544.0,874.5 552.0,880.8 560.0,888.8 566.9,897.0 573.3,907.0 574.0,911.8 572.0,912.5 570.0,912.3 562.9,909.0 552.0,902.0 540.6,893.0 532.6,885.0 527.7,879.0 524.0,873.0 523.1,869.0Z" fill="#ff1008"/>
<path d="M531.1,875.0 532.0,874.0 534.0,873.6 538.0,874.8 542.4,877.0 550.4,883.0 558.2,891.0 562.6,897.0 565.1,903.0 564.0,904.4 562.0,904.4 556.0,901.6 544.0,893.0 534.5,883.0 531.8,879.0Z" fill="#ff0302"/>
</g>
<rect x="109.80" y="8.80" width="679.20" height="505.80" fill="none" stroke="#262626" stroke-width="1.25"/>
<line x1="111.80" y1="514.60" x2="111.80" y2="520.20" stroke="#262626" stroke-width="1.25"/>
<text transform="translate(111.80,546.10) scale(1.03,1)" text-anchor="middle">−60</text>
<line x1="209.50" y1="514.60" x2="209.50" y2="520.20" stroke="#262626" stroke-width="1.25"/>
<text transform="translate(209.50,546.10) scale(1.03,1)" text-anchor="middle">−50</text>
<line x1="307.20" y1="514.60" x2="307.20" y2="520.20" stroke="#262626" stroke-width="1.25"/>
<text transform="translate(307.20,546.10) scale(1.03,1)" text-anchor="middle">−40</text>
<line x1="404.90" y1="514.60" x2="404.90" y2="520.20" stroke="#262626" stroke-width="1.25"/>
<text transform="translate(404.90,546.10) scale(1.03,1)" text-anchor="middle">−30</text>
<line x1="502.60" y1="514.60" x2="502.60" y2="520.20" stroke="#262626" stroke-width="1.25"/>
<text transform="translate(502.60,546.10) scale(1.03,1)" text-anchor="middle">−20</text>
<line x1="600.30" y1="514.60" x2="600.30" y2="520.20" stroke="#262626" stroke-width="1.25"/>
<text transform="translate(600.30,546.10) scale(1.03,1)" text-anchor="middle">−10</text>
<line x1="698.00" y1="514.60" x2="698.00" y2="520.20" stroke="#262626" stroke-width="1.25"/>
<text transform="translate(698.00,546.10) scale(1.03,1)" text-anchor="middle">0</text>
<line x1="104.20" y1="9.45" x2="109.80" y2="9.45" stroke="#262626" stroke-width="1.25"/>
<text transform="translate(98.50,19.25) scale(1.03,1)" text-anchor="end">5</text>
<line x1="104.20" y1="66.70" x2="109.80" y2="66.70" stroke="#262626" stroke-width="1.25"/>
<text transform="translate(98.50,76.50) scale(1.03,1)" text-anchor="end">0</text>
<line x1="104.20" y1="123.95" x2="109.80" y2="123.95" stroke="#262626" stroke-width="1.25"/>
<text transform="translate(98.50,133.75) scale(1.03,1)" text-anchor="end">−5</text>
<line x1="104.20" y1="181.20" x2="109.80" y2="181.20" stroke="#262626" stroke-width="1.25"/>
<text transform="translate(98.50,191.00) scale(1.03,1)" text-anchor="end">−10</text>
<line x1="104.20" y1="238.45" x2="109.80" y2="238.45" stroke="#262626" stroke-width="1.25"/>
<text transform="translate(98.50,248.25) scale(1.03,1)" text-anchor="end">−15</text>
<line x1="104.20" y1="295.70" x2="109.80" y2="295.70" stroke="#262626" stroke-width="1.25"/>
<text transform="translate(98.50,305.50) scale(1.03,1)" text-anchor="end">−20</text>
<line x1="104.20" y1="352.95" x2="109.80" y2="352.95" stroke="#262626" stroke-width="1.25"/>
<text transform="translate(98.50,362.75) scale(1.03,1)" text-anchor="end">−25</text>
<line x1="104.20" y1="410.20" x2="109.80" y2="410.20" stroke="#262626" stroke-width="1.25"/>
<text transform="translate(98.50,420.00) scale(1.03,1)" text-anchor="end">−30</text>
<line x1="104.20" y1="467.45" x2="109.80" y2="467.45" stroke="#262626" stroke-width="1.25"/>
<text transform="translate(98.50,477.25) scale(1.03,1)" text-anchor="end">−35</text>
<text transform="translate(449.80,579.60) scale(1.044,1)" text-anchor="middle"><tspan font-style="italic">v</tspan><tspan font-style="italic" font-size="18.9" dy="4.3">x</tspan><tspan dy="-4.3"> at Target in km/s</tspan></text>
<text transform="translate(21.70,260.70) rotate(-90) scale(1.044,1)" text-anchor="middle"><tspan font-style="italic">v</tspan><tspan font-style="italic" font-size="18.9" dy="4.3">y</tspan><tspan dy="-4.3"> at Target in km/s</tspan></text>
<rect x="832.30" y="8.80" width="25.20" height="505.80" fill="url(#rb)" stroke="#000" stroke-width="1.25"/>
<line x1="857.50" y1="441.44" x2="863.10" y2="441.44" stroke="#262626" stroke-width="1.25"/>
<text transform="translate(867.20,451.24) scale(1.025,1)">0.0002</text>
<line x1="857.50" y1="368.68" x2="863.10" y2="368.68" stroke="#262626" stroke-width="1.25"/>
<text transform="translate(867.20,378.48) scale(1.025,1)">0.0004</text>
<line x1="857.50" y1="295.92" x2="863.10" y2="295.92" stroke="#262626" stroke-width="1.25"/>
<text transform="translate(867.20,305.72) scale(1.025,1)">0.0006</text>
<line x1="857.50" y1="223.16" x2="863.10" y2="223.16" stroke="#262626" stroke-width="1.25"/>
<text transform="translate(867.20,232.96) scale(1.025,1)">0.0008</text>
<line x1="857.50" y1="150.40" x2="863.10" y2="150.40" stroke="#262626" stroke-width="1.25"/>
<text transform="translate(867.20,160.20) scale(1.025,1)">0.0010</text>
<line x1="857.50" y1="77.64" x2="863.10" y2="77.64" stroke="#262626" stroke-width="1.25"/>
<text transform="translate(867.20,87.44) scale(1.025,1)">0.0012</text>
<text transform="translate(989.50,261.50) rotate(-90) scale(1.017,1)" text-anchor="middle">Normalized Phase Space Density</text>
<rect x="101.90" y="656.50" width="679.10" height="505.50" fill="none" stroke="#262626" stroke-width="1.25"/>
<line x1="164.20" y1="1162.00" x2="164.20" y2="1167.60" stroke="#262626" stroke-width="1.25"/>
<text transform="translate(164.20,1193.50) scale(1.03,1)" text-anchor="middle">−40</text>
<line x1="268.70" y1="1162.00" x2="268.70" y2="1167.60" stroke="#262626" stroke-width="1.25"/>
<text transform="translate(268.70,1193.50) scale(1.03,1)" text-anchor="middle">−30</text>
<line x1="373.20" y1="1162.00" x2="373.20" y2="1167.60" stroke="#262626" stroke-width="1.25"/>
<text transform="translate(373.20,1193.50) scale(1.03,1)" text-anchor="middle">−20</text>
<line x1="477.70" y1="1162.00" x2="477.70" y2="1167.60" stroke="#262626" stroke-width="1.25"/>
<text transform="translate(477.70,1193.50) scale(1.03,1)" text-anchor="middle">−10</text>
<line x1="582.20" y1="1162.00" x2="582.20" y2="1167.60" stroke="#262626" stroke-width="1.25"/>
<text transform="translate(582.20,1193.50) scale(1.03,1)" text-anchor="middle">0</text>
<line x1="686.70" y1="1162.00" x2="686.70" y2="1167.60" stroke="#262626" stroke-width="1.25"/>
<text transform="translate(686.70,1193.50) scale(1.03,1)" text-anchor="middle">10</text>
<line x1="96.30" y1="664.50" x2="101.90" y2="664.50" stroke="#262626" stroke-width="1.25"/>
<text transform="translate(90.60,674.30) scale(1.03,1)" text-anchor="end">45</text>
<line x1="96.30" y1="755.00" x2="101.90" y2="755.00" stroke="#262626" stroke-width="1.25"/>
<text transform="translate(90.60,764.80) scale(1.03,1)" text-anchor="end">40</text>
<line x1="96.30" y1="845.50" x2="101.90" y2="845.50" stroke="#262626" stroke-width="1.25"/>
<text transform="translate(90.60,855.30) scale(1.03,1)" text-anchor="end">35</text>
<line x1="96.30" y1="936.00" x2="101.90" y2="936.00" stroke="#262626" stroke-width="1.25"/>
<text transform="translate(90.60,945.80) scale(1.03,1)" text-anchor="end">30</text>
<line x1="96.30" y1="1026.50" x2="101.90" y2="1026.50" stroke="#262626" stroke-width="1.25"/>
<text transform="translate(90.60,1036.30) scale(1.03,1)" text-anchor="end">25</text>
<line x1="96.30" y1="1117.00" x2="101.90" y2="1117.00" stroke="#262626" stroke-width="1.25"/>
<text transform="translate(90.60,1126.80) scale(1.03,1)" text-anchor="end">20</text>
<text transform="translate(441.30,1226.80) scale(1.044,1)" text-anchor="middle"><tspan font-style="italic">v</tspan><tspan font-style="italic" font-size="18.9" dy="4.3">x</tspan><tspan dy="-4.3"> at Target in km/s</tspan></text>
<text transform="translate(36.90,907.70) rotate(-90) scale(1.044,1)" text-anchor="middle"><tspan font-style="italic">v</tspan><tspan font-style="italic" font-size="18.9" dy="4.3">y</tspan><tspan dy="-4.3"> at Target in km/s</tspan></text>
<rect x="824.10" y="656.50" width="25.30" height="505.50" fill="url(#rb)" stroke="#000" stroke-width="1.25"/>
<line x1="849.40" y1="1161.80" x2="855.00" y2="1161.80" stroke="#262626" stroke-width="1.25"/>
<text transform="translate(859.00,1171.60) scale(1.025,1)">0.0</text>
<line x1="849.40" y1="1071.36" x2="855.00" y2="1071.36" stroke="#262626" stroke-width="1.25"/>
<text transform="translate(859.00,1081.16) scale(1.025,1)">0.5</text>
<line x1="849.40" y1="980.92" x2="855.00" y2="980.92" stroke="#262626" stroke-width="1.25"/>
<text transform="translate(859.00,990.72) scale(1.025,1)">1.0</text>
<line x1="849.40" y1="890.48" x2="855.00" y2="890.48" stroke="#262626" stroke-width="1.25"/>
<text transform="translate(859.00,900.28) scale(1.025,1)">1.5</text>
<line x1="849.40" y1="800.04" x2="855.00" y2="800.04" stroke="#262626" stroke-width="1.25"/>
<text transform="translate(859.00,809.84) scale(1.025,1)">2.0</text>
<line x1="849.40" y1="709.60" x2="855.00" y2="709.60" stroke="#262626" stroke-width="1.25"/>
<text transform="translate(859.00,719.40) scale(1.025,1)">2.5</text>
<text transform="translate(929.10,908.00) rotate(-90) scale(1.017,1)" text-anchor="middle">Normalized Phase Space Density</text>
<text transform="translate(848.4,650.8) scale(1.03,1)" text-anchor="end">1e−6</text>
</svg>
</body></html>
